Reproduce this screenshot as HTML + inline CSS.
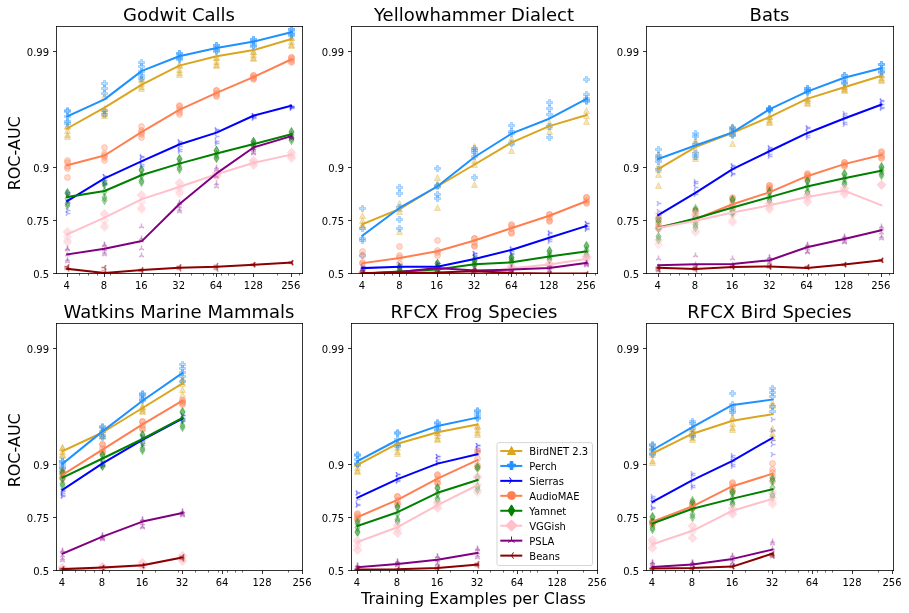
<!DOCTYPE html>
<html><head><meta charset="utf-8"><title>ROC-AUC vs training examples</title>
<style>html,body{margin:0;padding:0;background:#fff;overflow:hidden}svg{display:block}.c0{fill:#daa520;fill-opacity:0.3;stroke:#daa520;stroke-opacity:0.3}.c1{fill:#1e90ff;fill-opacity:0.3;stroke:#1e90ff;stroke-opacity:0.3}.c2{fill:#0000ff;fill-opacity:0.3;stroke:#0000ff;stroke-opacity:0.3;stroke-width:1.5}.c3{fill:#ff7f50;fill-opacity:0.3;stroke:#ff7f50;stroke-opacity:0.3}.c4{fill:#008000;fill-opacity:0.3;stroke:#008000;stroke-opacity:0.3}.c5{fill:#ffc0cb;fill-opacity:0.3;stroke:#ffc0cb;stroke-opacity:0.3}.c6{fill:#800080;fill-opacity:0.3;stroke:#800080;stroke-opacity:0.3;stroke-width:1.5}.c7{fill:#8b0000;fill-opacity:0.3;stroke:#8b0000;stroke-opacity:0.3;stroke-width:1.5}.c8{stroke:#000000;stroke-width:0.8}.c9{stroke:#000000;stroke-width:0.6}.c10{fill:#daa520;stroke:#daa520;stroke-linejoin:miter}.c11{fill:#1e90ff;stroke:#1e90ff;stroke-linejoin:miter}.c12{fill:#0000ff;stroke:#0000ff}.c13{fill:#ff7f50;stroke:#ff7f50}.c14{fill:#008000;stroke:#008000;stroke-linejoin:miter}.c15{fill:#ffc0cb;stroke:#ffc0cb;stroke-linejoin:miter}.c16{fill:#800080;stroke:#800080}.c17{fill:#8b0000;stroke:#8b0000}</style>
</head><body>
<svg width="909" height="613" viewBox="0 0 909 613" version="1.1">
 
 <defs>
  <style type="text/css">*{stroke-linejoin: round; stroke-linecap: butt}</style>
 </defs>
 <g id="figure_1">
  <g id="patch_1">
   <path d="M 0 613 L 909 613 L 909 0 L 0 0 z" style="fill: #ffffff"/>
  </g>
  <g id="axes_1">
   <g id="patch_2">
    <path d="M 56.5 273.5 L 302.5 273.5 L 302.5 26.5 L 56.5 26.5 z" style="fill: #ffffff"/>
   </g>
   <g id="PathCollection_1">
    
    <g clip-path="url(#p4ffbb873c0)">
     <path class="c0" d="M 0 -3 L -3 3 L 3 3 z" transform="translate(67.5 125.5)"/>
     <path class="c0" d="M 0 -3 L -3 3 L 3 3 z" transform="translate(67.5 126.5)"/>
     <path class="c0" d="M 0 -3 L -3 3 L 3 3 z" transform="translate(67.5 130.5)"/>
     <path class="c0" d="M 0 -3 L -3 3 L 3 3 z" transform="translate(67.5 134.5)"/>
     <path class="c0" d="M 0 -3 L -3 3 L 3 3 z" transform="translate(67.5 136.5)"/>
     <path class="c0" d="M 0 -3 L -3 3 L 3 3 z" transform="translate(104.5 96.5)"/>
     <path class="c0" d="M 0 -3 L -3 3 L 3 3 z" transform="translate(104.5 110.5)"/>
     <path class="c0" d="M 0 -3 L -3 3 L 3 3 z" transform="translate(104.5 113.5)"/>
     <path class="c0" d="M 0 -3 L -3 3 L 3 3 z" transform="translate(104.5 115.5)"/>
     <path class="c0" d="M 0 -3 L -3 3 L 3 3 z" transform="translate(104.5 108.5)"/>
     <path class="c0" d="M 0 -3 L -3 3 L 3 3 z" transform="translate(141.5 78.5)"/>
     <path class="c0" d="M 0 -3 L -3 3 L 3 3 z" transform="translate(141.5 79.5)"/>
     <path class="c0" d="M 0 -3 L -3 3 L 3 3 z" transform="translate(141.5 83.5)"/>
     <path class="c0" d="M 0 -3 L -3 3 L 3 3 z" transform="translate(141.5 86.5)"/>
     <path class="c0" d="M 0 -3 L -3 3 L 3 3 z" transform="translate(141.5 88.5)"/>
     <path class="c0" d="M 0 -3 L -3 3 L 3 3 z" transform="translate(179.5 64.5)"/>
     <path class="c0" d="M 0 -3 L -3 3 L 3 3 z" transform="translate(179.5 65.5)"/>
     <path class="c0" d="M 0 -3 L -3 3 L 3 3 z" transform="translate(179.5 69.5)"/>
     <path class="c0" d="M 0 -3 L -3 3 L 3 3 z" transform="translate(179.5 72.5)"/>
     <path class="c0" d="M 0 -3 L -3 3 L 3 3 z" transform="translate(179.5 74.5)"/>
     <path class="c0" d="M 0 -3 L -3 3 L 3 3 z" transform="translate(216.5 57.5)"/>
     <path class="c0" d="M 0 -3 L -3 3 L 3 3 z" transform="translate(216.5 57.5)"/>
     <path class="c0" d="M 0 -3 L -3 3 L 3 3 z" transform="translate(216.5 61.5)"/>
     <path class="c0" d="M 0 -3 L -3 3 L 3 3 z" transform="translate(216.5 64.5)"/>
     <path class="c0" d="M 0 -3 L -3 3 L 3 3 z" transform="translate(216.5 65.5)"/>
     <path class="c0" d="M 0 -3 L -3 3 L 3 3 z" transform="translate(253.5 51.5)"/>
     <path class="c0" d="M 0 -3 L -3 3 L 3 3 z" transform="translate(253.5 51.5)"/>
     <path class="c0" d="M 0 -3 L -3 3 L 3 3 z" transform="translate(253.5 54.5)"/>
     <path class="c0" d="M 0 -3 L -3 3 L 3 3 z" transform="translate(253.5 57.5)"/>
     <path class="c0" d="M 0 -3 L -3 3 L 3 3 z" transform="translate(253.5 58.5)"/>
     <path class="c0" d="M 0 -3 L -3 3 L 3 3 z" transform="translate(291.5 37.5)"/>
     <path class="c0" d="M 0 -3 L -3 3 L 3 3 z" transform="translate(291.5 37.5)"/>
     <path class="c0" d="M 0 -3 L -3 3 L 3 3 z" transform="translate(291.5 41.5)"/>
     <path class="c0" d="M 0 -3 L -3 3 L 3 3 z" transform="translate(291.5 44.5)"/>
     <path class="c0" d="M 0 -3 L -3 3 L 3 3 z" transform="translate(291.5 45.5)"/>
    </g>
   </g>
   <g id="PathCollection_2">
    
    <g clip-path="url(#p4ffbb873c0)">
     <path class="c1" d="M -1 3 L 1 3 L 1 1 L 3 1 L 3 -1 L 1 -1 L 1 -3 L -1 -3 L -1 -1 L -3 -1 L -3 1 L -1 1 z" transform="translate(67.5 110.5)"/>
     <path class="c1" d="M -1 3 L 1 3 L 1 1 L 3 1 L 3 -1 L 1 -1 L 1 -3 L -1 -3 L -1 -1 L -3 -1 L -3 1 L -1 1 z" transform="translate(67.5 111.5)"/>
     <path class="c1" d="M -1 3 L 1 3 L 1 1 L 3 1 L 3 -1 L 1 -1 L 1 -3 L -1 -3 L -1 -1 L -3 -1 L -3 1 L -1 1 z" transform="translate(67.5 116.5)"/>
     <path class="c1" d="M -1 3 L 1 3 L 1 1 L 3 1 L 3 -1 L 1 -1 L 1 -3 L -1 -3 L -1 -1 L -3 -1 L -3 1 L -1 1 z" transform="translate(67.5 121.5)"/>
     <path class="c1" d="M -1 3 L 1 3 L 1 1 L 3 1 L 3 -1 L 1 -1 L 1 -3 L -1 -3 L -1 -1 L -3 -1 L -3 1 L -1 1 z" transform="translate(67.5 123.5)"/>
     <path class="c1" d="M -1 3 L 1 3 L 1 1 L 3 1 L 3 -1 L 1 -1 L 1 -3 L -1 -3 L -1 -1 L -3 -1 L -3 1 L -1 1 z" transform="translate(104.5 83.5)"/>
     <path class="c1" d="M -1 3 L 1 3 L 1 1 L 3 1 L 3 -1 L 1 -1 L 1 -3 L -1 -3 L -1 -1 L -3 -1 L -3 1 L -1 1 z" transform="translate(104.5 88.5)"/>
     <path class="c1" d="M -1 3 L 1 3 L 1 1 L 3 1 L 3 -1 L 1 -1 L 1 -3 L -1 -3 L -1 -1 L -3 -1 L -3 1 L -1 1 z" transform="translate(104.5 93.5)"/>
     <path class="c1" d="M -1 3 L 1 3 L 1 1 L 3 1 L 3 -1 L 1 -1 L 1 -3 L -1 -3 L -1 -1 L -3 -1 L -3 1 L -1 1 z" transform="translate(104.5 110.5)"/>
     <path class="c1" d="M -1 3 L 1 3 L 1 1 L 3 1 L 3 -1 L 1 -1 L 1 -3 L -1 -3 L -1 -1 L -3 -1 L -3 1 L -1 1 z" transform="translate(104.5 114.5)"/>
     <path class="c1" d="M -1 3 L 1 3 L 1 1 L 3 1 L 3 -1 L 1 -1 L 1 -3 L -1 -3 L -1 -1 L -3 -1 L -3 1 L -1 1 z" transform="translate(141.5 62.5)"/>
     <path class="c1" d="M -1 3 L 1 3 L 1 1 L 3 1 L 3 -1 L 1 -1 L 1 -3 L -1 -3 L -1 -1 L -3 -1 L -3 1 L -1 1 z" transform="translate(141.5 66.5)"/>
     <path class="c1" d="M -1 3 L 1 3 L 1 1 L 3 1 L 3 -1 L 1 -1 L 1 -3 L -1 -3 L -1 -1 L -3 -1 L -3 1 L -1 1 z" transform="translate(141.5 71.5)"/>
     <path class="c1" d="M -1 3 L 1 3 L 1 1 L 3 1 L 3 -1 L 1 -1 L 1 -3 L -1 -3 L -1 -1 L -3 -1 L -3 1 L -1 1 z" transform="translate(141.5 75.5)"/>
     <path class="c1" d="M -1 3 L 1 3 L 1 1 L 3 1 L 3 -1 L 1 -1 L 1 -3 L -1 -3 L -1 -1 L -3 -1 L -3 1 L -1 1 z" transform="translate(141.5 78.5)"/>
     <path class="c1" d="M -1 3 L 1 3 L 1 1 L 3 1 L 3 -1 L 1 -1 L 1 -3 L -1 -3 L -1 -1 L -3 -1 L -3 1 L -1 1 z" transform="translate(179.5 53.5)"/>
     <path class="c1" d="M -1 3 L 1 3 L 1 1 L 3 1 L 3 -1 L 1 -1 L 1 -3 L -1 -3 L -1 -1 L -3 -1 L -3 1 L -1 1 z" transform="translate(179.5 53.5)"/>
     <path class="c1" d="M -1 3 L 1 3 L 1 1 L 3 1 L 3 -1 L 1 -1 L 1 -3 L -1 -3 L -1 -1 L -3 -1 L -3 1 L -1 1 z" transform="translate(179.5 56.5)"/>
     <path class="c1" d="M -1 3 L 1 3 L 1 1 L 3 1 L 3 -1 L 1 -1 L 1 -3 L -1 -3 L -1 -1 L -3 -1 L -3 1 L -1 1 z" transform="translate(179.5 58.5)"/>
     <path class="c1" d="M -1 3 L 1 3 L 1 1 L 3 1 L 3 -1 L 1 -1 L 1 -3 L -1 -3 L -1 -1 L -3 -1 L -3 1 L -1 1 z" transform="translate(179.5 59.5)"/>
     <path class="c1" d="M -1 3 L 1 3 L 1 1 L 3 1 L 3 -1 L 1 -1 L 1 -3 L -1 -3 L -1 -1 L -3 -1 L -3 1 L -1 1 z" transform="translate(216.5 45.5)"/>
     <path class="c1" d="M -1 3 L 1 3 L 1 1 L 3 1 L 3 -1 L 1 -1 L 1 -3 L -1 -3 L -1 -1 L -3 -1 L -3 1 L -1 1 z" transform="translate(216.5 45.5)"/>
     <path class="c1" d="M -1 3 L 1 3 L 1 1 L 3 1 L 3 -1 L 1 -1 L 1 -3 L -1 -3 L -1 -1 L -3 -1 L -3 1 L -1 1 z" transform="translate(216.5 48.5)"/>
     <path class="c1" d="M -1 3 L 1 3 L 1 1 L 3 1 L 3 -1 L 1 -1 L 1 -3 L -1 -3 L -1 -1 L -3 -1 L -3 1 L -1 1 z" transform="translate(216.5 50.5)"/>
     <path class="c1" d="M -1 3 L 1 3 L 1 1 L 3 1 L 3 -1 L 1 -1 L 1 -3 L -1 -3 L -1 -1 L -3 -1 L -3 1 L -1 1 z" transform="translate(216.5 51.5)"/>
     <path class="c1" d="M -1 3 L 1 3 L 1 1 L 3 1 L 3 -1 L 1 -1 L 1 -3 L -1 -3 L -1 -1 L -3 -1 L -3 1 L -1 1 z" transform="translate(253.5 39.5)"/>
     <path class="c1" d="M -1 3 L 1 3 L 1 1 L 3 1 L 3 -1 L 1 -1 L 1 -3 L -1 -3 L -1 -1 L -3 -1 L -3 1 L -1 1 z" transform="translate(253.5 39.5)"/>
     <path class="c1" d="M -1 3 L 1 3 L 1 1 L 3 1 L 3 -1 L 1 -1 L 1 -3 L -1 -3 L -1 -1 L -3 -1 L -3 1 L -1 1 z" transform="translate(253.5 42.5)"/>
     <path class="c1" d="M -1 3 L 1 3 L 1 1 L 3 1 L 3 -1 L 1 -1 L 1 -3 L -1 -3 L -1 -1 L -3 -1 L -3 1 L -1 1 z" transform="translate(253.5 45.5)"/>
     <path class="c1" d="M -1 3 L 1 3 L 1 1 L 3 1 L 3 -1 L 1 -1 L 1 -3 L -1 -3 L -1 -1 L -3 -1 L -3 1 L -1 1 z" transform="translate(253.5 46.5)"/>
     <path class="c1" d="M -1 3 L 1 3 L 1 1 L 3 1 L 3 -1 L 1 -1 L 1 -3 L -1 -3 L -1 -1 L -3 -1 L -3 1 L -1 1 z" transform="translate(291.5 29.5)"/>
     <path class="c1" d="M -1 3 L 1 3 L 1 1 L 3 1 L 3 -1 L 1 -1 L 1 -3 L -1 -3 L -1 -1 L -3 -1 L -3 1 L -1 1 z" transform="translate(291.5 29.5)"/>
     <path class="c1" d="M -1 3 L 1 3 L 1 1 L 3 1 L 3 -1 L 1 -1 L 1 -3 L -1 -3 L -1 -1 L -3 -1 L -3 1 L -1 1 z" transform="translate(291.5 32.5)"/>
     <path class="c1" d="M -1 3 L 1 3 L 1 1 L 3 1 L 3 -1 L 1 -1 L 1 -3 L -1 -3 L -1 -1 L -3 -1 L -3 1 L -1 1 z" transform="translate(291.5 34.5)"/>
     <path class="c1" d="M -1 3 L 1 3 L 1 1 L 3 1 L 3 -1 L 1 -1 L 1 -3 L -1 -3 L -1 -1 L -3 -1 L -3 1 L -1 1 z" transform="translate(291.5 35.5)"/>
    </g>
   </g>
   <g id="PathCollection_3">
    
    <g clip-path="url(#p4ffbb873c0)">
     <path class="c2" d="M 0 0 L 3 0 M 0 0 L -1.5 -2.4 M 0 0 L -1.5 2.4" transform="translate(67.5 192.5)"/>
     <path class="c2" d="M 0 0 L 3 0 M 0 0 L -1.5 -2.4 M 0 0 L -1.5 2.4" transform="translate(67.5 194.5)"/>
     <path class="c2" d="M 0 0 L 3 0 M 0 0 L -1.5 -2.4 M 0 0 L -1.5 2.4" transform="translate(67.5 202.5)"/>
     <path class="c2" d="M 0 0 L 3 0 M 0 0 L -1.5 -2.4 M 0 0 L -1.5 2.4" transform="translate(67.5 210.5)"/>
     <path class="c2" d="M 0 0 L 3 0 M 0 0 L -1.5 -2.4 M 0 0 L -1.5 2.4" transform="translate(67.5 213.5)"/>
     <path class="c2" d="M 0 0 L 3 0 M 0 0 L -1.5 -2.4 M 0 0 L -1.5 2.4" transform="translate(104.5 176.5)"/>
     <path class="c2" d="M 0 0 L 3 0 M 0 0 L -1.5 -2.4 M 0 0 L -1.5 2.4" transform="translate(104.5 176.5)"/>
     <path class="c2" d="M 0 0 L 3 0 M 0 0 L -1.5 -2.4 M 0 0 L -1.5 2.4" transform="translate(104.5 180.5)"/>
     <path class="c2" d="M 0 0 L 3 0 M 0 0 L -1.5 -2.4 M 0 0 L -1.5 2.4" transform="translate(104.5 183.5)"/>
     <path class="c2" d="M 0 0 L 3 0 M 0 0 L -1.5 -2.4 M 0 0 L -1.5 2.4" transform="translate(104.5 184.5)"/>
     <path class="c2" d="M 0 0 L 3 0 M 0 0 L -1.5 -2.4 M 0 0 L -1.5 2.4" transform="translate(141.5 156.5)"/>
     <path class="c2" d="M 0 0 L 3 0 M 0 0 L -1.5 -2.4 M 0 0 L -1.5 2.4" transform="translate(141.5 157.5)"/>
     <path class="c2" d="M 0 0 L 3 0 M 0 0 L -1.5 -2.4 M 0 0 L -1.5 2.4" transform="translate(141.5 161.5)"/>
     <path class="c2" d="M 0 0 L 3 0 M 0 0 L -1.5 -2.4 M 0 0 L -1.5 2.4" transform="translate(141.5 164.5)"/>
     <path class="c2" d="M 0 0 L 3 0 M 0 0 L -1.5 -2.4 M 0 0 L -1.5 2.4" transform="translate(141.5 166.5)"/>
     <path class="c2" d="M 0 0 L 3 0 M 0 0 L -1.5 -2.4 M 0 0 L -1.5 2.4" transform="translate(179.5 141.5)"/>
     <path class="c2" d="M 0 0 L 3 0 M 0 0 L -1.5 -2.4 M 0 0 L -1.5 2.4" transform="translate(179.5 142.5)"/>
     <path class="c2" d="M 0 0 L 3 0 M 0 0 L -1.5 -2.4 M 0 0 L -1.5 2.4" transform="translate(179.5 146.5)"/>
     <path class="c2" d="M 0 0 L 3 0 M 0 0 L -1.5 -2.4 M 0 0 L -1.5 2.4" transform="translate(179.5 149.5)"/>
     <path class="c2" d="M 0 0 L 3 0 M 0 0 L -1.5 -2.4 M 0 0 L -1.5 2.4" transform="translate(179.5 151.5)"/>
     <path class="c2" d="M 0 0 L 3 0 M 0 0 L -1.5 -2.4 M 0 0 L -1.5 2.4" transform="translate(216.5 129.5)"/>
     <path class="c2" d="M 0 0 L 3 0 M 0 0 L -1.5 -2.4 M 0 0 L -1.5 2.4" transform="translate(216.5 130.5)"/>
     <path class="c2" d="M 0 0 L 3 0 M 0 0 L -1.5 -2.4 M 0 0 L -1.5 2.4" transform="translate(216.5 136.5)"/>
     <path class="c2" d="M 0 0 L 3 0 M 0 0 L -1.5 -2.4 M 0 0 L -1.5 2.4" transform="translate(216.5 141.5)"/>
     <path class="c2" d="M 0 0 L 3 0 M 0 0 L -1.5 -2.4 M 0 0 L -1.5 2.4" transform="translate(216.5 143.5)"/>
     <path class="c2" d="M 0 0 L 3 0 M 0 0 L -1.5 -2.4 M 0 0 L -1.5 2.4" transform="translate(253.5 115.5)"/>
     <path class="c2" d="M 0 0 L 3 0 M 0 0 L -1.5 -2.4 M 0 0 L -1.5 2.4" transform="translate(253.5 115.5)"/>
     <path class="c2" d="M 0 0 L 3 0 M 0 0 L -1.5 -2.4 M 0 0 L -1.5 2.4" transform="translate(253.5 116.5)"/>
     <path class="c2" d="M 0 0 L 3 0 M 0 0 L -1.5 -2.4 M 0 0 L -1.5 2.4" transform="translate(253.5 117.5)"/>
     <path class="c2" d="M 0 0 L 3 0 M 0 0 L -1.5 -2.4 M 0 0 L -1.5 2.4" transform="translate(253.5 118.5)"/>
     <path class="c2" d="M 0 0 L 3 0 M 0 0 L -1.5 -2.4 M 0 0 L -1.5 2.4" transform="translate(291.5 106.5)"/>
     <path class="c2" d="M 0 0 L 3 0 M 0 0 L -1.5 -2.4 M 0 0 L -1.5 2.4" transform="translate(291.5 106.5)"/>
     <path class="c2" d="M 0 0 L 3 0 M 0 0 L -1.5 -2.4 M 0 0 L -1.5 2.4" transform="translate(291.5 107.5)"/>
     <path class="c2" d="M 0 0 L 3 0 M 0 0 L -1.5 -2.4 M 0 0 L -1.5 2.4" transform="translate(291.5 107.5)"/>
     <path class="c2" d="M 0 0 L 3 0 M 0 0 L -1.5 -2.4 M 0 0 L -1.5 2.4" transform="translate(291.5 108.5)"/>
    </g>
   </g>
   <g id="PathCollection_4">
    
    <g clip-path="url(#p4ffbb873c0)">
     <circle class="c3" cx="67.5" cy="160.5" r="3"/>
     <circle class="c3" cx="67.5" cy="166.5" r="3"/>
     <circle class="c3" cx="67.5" cy="177.5" r="3"/>
     <circle class="c3" cx="67.5" cy="162.5" r="3"/>
     <circle class="c3" cx="67.5" cy="168.5" r="3"/>
     <circle class="c3" cx="104.5" cy="147.5" r="3"/>
     <circle class="c3" cx="104.5" cy="155.5" r="3"/>
     <circle class="c3" cx="104.5" cy="160.5" r="3"/>
     <circle class="c3" cx="104.5" cy="157.5" r="3"/>
     <circle class="c3" cx="104.5" cy="153.5" r="3"/>
     <circle class="c3" cx="141.5" cy="126.5" r="3"/>
     <circle class="c3" cx="141.5" cy="132.5" r="3"/>
     <circle class="c3" cx="141.5" cy="137.5" r="3"/>
     <circle class="c3" cx="141.5" cy="130.5" r="3"/>
     <circle class="c3" cx="141.5" cy="134.5" r="3"/>
     <circle class="c3" cx="179.5" cy="105.5" r="3"/>
     <circle class="c3" cx="179.5" cy="106.5" r="3"/>
     <circle class="c3" cx="179.5" cy="109.5" r="3"/>
     <circle class="c3" cx="179.5" cy="112.5" r="3"/>
     <circle class="c3" cx="179.5" cy="114.5" r="3"/>
     <circle class="c3" cx="216.5" cy="90.5" r="3"/>
     <circle class="c3" cx="216.5" cy="90.5" r="3"/>
     <circle class="c3" cx="216.5" cy="93.5" r="3"/>
     <circle class="c3" cx="216.5" cy="95.5" r="3"/>
     <circle class="c3" cx="216.5" cy="96.5" r="3"/>
     <circle class="c3" cx="253.5" cy="75.5" r="3"/>
     <circle class="c3" cx="253.5" cy="75.5" r="3"/>
     <circle class="c3" cx="253.5" cy="77.5" r="3"/>
     <circle class="c3" cx="253.5" cy="78.5" r="3"/>
     <circle class="c3" cx="253.5" cy="79.5" r="3"/>
     <circle class="c3" cx="291.5" cy="57.5" r="3"/>
     <circle class="c3" cx="291.5" cy="57.5" r="3"/>
     <circle class="c3" cx="291.5" cy="59.5" r="3"/>
     <circle class="c3" cx="291.5" cy="61.5" r="3"/>
     <circle class="c3" cx="291.5" cy="62.5" r="3"/>
    </g>
   </g>
   <g id="PathCollection_5">
    
    <g clip-path="url(#p4ffbb873c0)">
     <path class="c4" d="M -0 4.24 L 2.54 0 L 0 -4.24 L -2.54 -0 z" transform="translate(67.5 192.5)"/>
     <path class="c4" d="M -0 4.24 L 2.54 0 L 0 -4.24 L -2.54 -0 z" transform="translate(67.5 193.5)"/>
     <path class="c4" d="M -0 4.24 L 2.54 0 L 0 -4.24 L -2.54 -0 z" transform="translate(67.5 198.5)"/>
     <path class="c4" d="M -0 4.24 L 2.54 0 L 0 -4.24 L -2.54 -0 z" transform="translate(67.5 203.5)"/>
     <path class="c4" d="M -0 4.24 L 2.54 0 L 0 -4.24 L -2.54 -0 z" transform="translate(67.5 205.5)"/>
     <path class="c4" d="M -0 4.24 L 2.54 0 L 0 -4.24 L -2.54 -0 z" transform="translate(104.5 182.5)"/>
     <path class="c4" d="M -0 4.24 L 2.54 0 L 0 -4.24 L -2.54 -0 z" transform="translate(104.5 184.5)"/>
     <path class="c4" d="M -0 4.24 L 2.54 0 L 0 -4.24 L -2.54 -0 z" transform="translate(104.5 191.5)"/>
     <path class="c4" d="M -0 4.24 L 2.54 0 L 0 -4.24 L -2.54 -0 z" transform="translate(104.5 197.5)"/>
     <path class="c4" d="M -0 4.24 L 2.54 0 L 0 -4.24 L -2.54 -0 z" transform="translate(104.5 200.5)"/>
     <path class="c4" d="M -0 4.24 L 2.54 0 L 0 -4.24 L -2.54 -0 z" transform="translate(141.5 169.5)"/>
     <path class="c4" d="M -0 4.24 L 2.54 0 L 0 -4.24 L -2.54 -0 z" transform="translate(141.5 170.5)"/>
     <path class="c4" d="M -0 4.24 L 2.54 0 L 0 -4.24 L -2.54 -0 z" transform="translate(141.5 175.5)"/>
     <path class="c4" d="M -0 4.24 L 2.54 0 L 0 -4.24 L -2.54 -0 z" transform="translate(141.5 180.5)"/>
     <path class="c4" d="M -0 4.24 L 2.54 0 L 0 -4.24 L -2.54 -0 z" transform="translate(141.5 182.5)"/>
     <path class="c4" d="M -0 4.24 L 2.54 0 L 0 -4.24 L -2.54 -0 z" transform="translate(179.5 158.5)"/>
     <path class="c4" d="M -0 4.24 L 2.54 0 L 0 -4.24 L -2.54 -0 z" transform="translate(179.5 159.5)"/>
     <path class="c4" d="M -0 4.24 L 2.54 0 L 0 -4.24 L -2.54 -0 z" transform="translate(179.5 163.5)"/>
     <path class="c4" d="M -0 4.24 L 2.54 0 L 0 -4.24 L -2.54 -0 z" transform="translate(179.5 167.5)"/>
     <path class="c4" d="M -0 4.24 L 2.54 0 L 0 -4.24 L -2.54 -0 z" transform="translate(179.5 169.5)"/>
     <path class="c4" d="M -0 4.24 L 2.54 0 L 0 -4.24 L -2.54 -0 z" transform="translate(216.5 150.5)"/>
     <path class="c4" d="M -0 4.24 L 2.54 0 L 0 -4.24 L -2.54 -0 z" transform="translate(216.5 150.5)"/>
     <path class="c4" d="M -0 4.24 L 2.54 0 L 0 -4.24 L -2.54 -0 z" transform="translate(216.5 154.5)"/>
     <path class="c4" d="M -0 4.24 L 2.54 0 L 0 -4.24 L -2.54 -0 z" transform="translate(216.5 157.5)"/>
     <path class="c4" d="M -0 4.24 L 2.54 0 L 0 -4.24 L -2.54 -0 z" transform="translate(216.5 158.5)"/>
     <path class="c4" d="M -0 4.24 L 2.54 0 L 0 -4.24 L -2.54 -0 z" transform="translate(253.5 141.5)"/>
     <path class="c4" d="M -0 4.24 L 2.54 0 L 0 -4.24 L -2.54 -0 z" transform="translate(253.5 141.5)"/>
     <path class="c4" d="M -0 4.24 L 2.54 0 L 0 -4.24 L -2.54 -0 z" transform="translate(253.5 143.5)"/>
     <path class="c4" d="M -0 4.24 L 2.54 0 L 0 -4.24 L -2.54 -0 z" transform="translate(253.5 145.5)"/>
     <path class="c4" d="M -0 4.24 L 2.54 0 L 0 -4.24 L -2.54 -0 z" transform="translate(253.5 146.5)"/>
     <path class="c4" d="M -0 4.24 L 2.54 0 L 0 -4.24 L -2.54 -0 z" transform="translate(291.5 131.5)"/>
     <path class="c4" d="M -0 4.24 L 2.54 0 L 0 -4.24 L -2.54 -0 z" transform="translate(291.5 132.5)"/>
     <path class="c4" d="M -0 4.24 L 2.54 0 L 0 -4.24 L -2.54 -0 z" transform="translate(291.5 135.5)"/>
     <path class="c4" d="M -0 4.24 L 2.54 0 L 0 -4.24 L -2.54 -0 z" transform="translate(291.5 138.5)"/>
     <path class="c4" d="M -0 4.24 L 2.54 0 L 0 -4.24 L -2.54 -0 z" transform="translate(291.5 140.5)"/>
    </g>
   </g>
   <g id="PathCollection_6">
    
    <g clip-path="url(#p4ffbb873c0)">
     <path class="c5" d="M -0 4.24 L 4.24 0 L 0 -4.24 L -4.24 -0 z" transform="translate(67.5 231.5)"/>
     <path class="c5" d="M -0 4.24 L 4.24 0 L 0 -4.24 L -4.24 -0 z" transform="translate(67.5 232.5)"/>
     <path class="c5" d="M -0 4.24 L 4.24 0 L 0 -4.24 L -4.24 -0 z" transform="translate(67.5 236.5)"/>
     <path class="c5" d="M -0 4.24 L 4.24 0 L 0 -4.24 L -4.24 -0 z" transform="translate(67.5 240.5)"/>
     <path class="c5" d="M -0 4.24 L 4.24 0 L 0 -4.24 L -4.24 -0 z" transform="translate(67.5 242.5)"/>
     <path class="c5" d="M -0 4.24 L 4.24 0 L 0 -4.24 L -4.24 -0 z" transform="translate(104.5 213.5)"/>
     <path class="c5" d="M -0 4.24 L 4.24 0 L 0 -4.24 L -4.24 -0 z" transform="translate(104.5 214.5)"/>
     <path class="c5" d="M -0 4.24 L 4.24 0 L 0 -4.24 L -4.24 -0 z" transform="translate(104.5 220.5)"/>
     <path class="c5" d="M -0 4.24 L 4.24 0 L 0 -4.24 L -4.24 -0 z" transform="translate(104.5 225.5)"/>
     <path class="c5" d="M -0 4.24 L 4.24 0 L 0 -4.24 L -4.24 -0 z" transform="translate(104.5 227.5)"/>
     <path class="c5" d="M -0 4.24 L 4.24 0 L 0 -4.24 L -4.24 -0 z" transform="translate(141.5 194.5)"/>
     <path class="c5" d="M -0 4.24 L 4.24 0 L 0 -4.24 L -4.24 -0 z" transform="translate(141.5 195.5)"/>
     <path class="c5" d="M -0 4.24 L 4.24 0 L 0 -4.24 L -4.24 -0 z" transform="translate(141.5 201.5)"/>
     <path class="c5" d="M -0 4.24 L 4.24 0 L 0 -4.24 L -4.24 -0 z" transform="translate(141.5 207.5)"/>
     <path class="c5" d="M -0 4.24 L 4.24 0 L 0 -4.24 L -4.24 -0 z" transform="translate(141.5 209.5)"/>
     <path class="c5" d="M -0 4.24 L 4.24 0 L 0 -4.24 L -4.24 -0 z" transform="translate(179.5 182.5)"/>
     <path class="c5" d="M -0 4.24 L 4.24 0 L 0 -4.24 L -4.24 -0 z" transform="translate(179.5 183.5)"/>
     <path class="c5" d="M -0 4.24 L 4.24 0 L 0 -4.24 L -4.24 -0 z" transform="translate(179.5 187.5)"/>
     <path class="c5" d="M -0 4.24 L 4.24 0 L 0 -4.24 L -4.24 -0 z" transform="translate(179.5 191.5)"/>
     <path class="c5" d="M -0 4.24 L 4.24 0 L 0 -4.24 L -4.24 -0 z" transform="translate(179.5 193.5)"/>
     <path class="c5" d="M -0 4.24 L 4.24 0 L 0 -4.24 L -4.24 -0 z" transform="translate(216.5 173.5)"/>
     <path class="c5" d="M -0 4.24 L 4.24 0 L 0 -4.24 L -4.24 -0 z" transform="translate(216.5 173.5)"/>
     <path class="c5" d="M -0 4.24 L 4.24 0 L 0 -4.24 L -4.24 -0 z" transform="translate(216.5 174.5)"/>
     <path class="c5" d="M -0 4.24 L 4.24 0 L 0 -4.24 L -4.24 -0 z" transform="translate(216.5 175.5)"/>
     <path class="c5" d="M -0 4.24 L 4.24 0 L 0 -4.24 L -4.24 -0 z" transform="translate(216.5 176.5)"/>
     <path class="c5" d="M -0 4.24 L 4.24 0 L 0 -4.24 L -4.24 -0 z" transform="translate(253.5 160.5)"/>
     <path class="c5" d="M -0 4.24 L 4.24 0 L 0 -4.24 L -4.24 -0 z" transform="translate(253.5 160.5)"/>
     <path class="c5" d="M -0 4.24 L 4.24 0 L 0 -4.24 L -4.24 -0 z" transform="translate(253.5 162.5)"/>
     <path class="c5" d="M -0 4.24 L 4.24 0 L 0 -4.24 L -4.24 -0 z" transform="translate(253.5 164.5)"/>
     <path class="c5" d="M -0 4.24 L 4.24 0 L 0 -4.24 L -4.24 -0 z" transform="translate(253.5 165.5)"/>
     <path class="c5" d="M -0 4.24 L 4.24 0 L 0 -4.24 L -4.24 -0 z" transform="translate(291.5 152.5)"/>
     <path class="c5" d="M -0 4.24 L 4.24 0 L 0 -4.24 L -4.24 -0 z" transform="translate(291.5 152.5)"/>
     <path class="c5" d="M -0 4.24 L 4.24 0 L 0 -4.24 L -4.24 -0 z" transform="translate(291.5 155.5)"/>
     <path class="c5" d="M -0 4.24 L 4.24 0 L 0 -4.24 L -4.24 -0 z" transform="translate(291.5 157.5)"/>
     <path class="c5" d="M -0 4.24 L 4.24 0 L 0 -4.24 L -4.24 -0 z" transform="translate(291.5 158.5)"/>
    </g>
   </g>
   <g id="PathCollection_7">
    
    <g clip-path="url(#p4ffbb873c0)">
     <path class="c6" d="M 0 0 L 0 -3 M 0 0 L -2.4 1.5 M 0 0 L 2.4 1.5" transform="translate(67.5 248.5)"/>
     <path class="c6" d="M 0 0 L 0 -3 M 0 0 L -2.4 1.5 M 0 0 L 2.4 1.5" transform="translate(67.5 249.5)"/>
     <path class="c6" d="M 0 0 L 0 -3 M 0 0 L -2.4 1.5 M 0 0 L 2.4 1.5" transform="translate(67.5 254.5)"/>
     <path class="c6" d="M 0 0 L 0 -3 M 0 0 L -2.4 1.5 M 0 0 L 2.4 1.5" transform="translate(67.5 259.5)"/>
     <path class="c6" d="M 0 0 L 0 -3 M 0 0 L -2.4 1.5 M 0 0 L 2.4 1.5" transform="translate(67.5 261.5)"/>
     <path class="c6" d="M 0 0 L 0 -3 M 0 0 L -2.4 1.5 M 0 0 L 2.4 1.5" transform="translate(104.5 244.5)"/>
     <path class="c6" d="M 0 0 L 0 -3 M 0 0 L -2.4 1.5 M 0 0 L 2.4 1.5" transform="translate(104.5 245.5)"/>
     <path class="c6" d="M 0 0 L 0 -3 M 0 0 L -2.4 1.5 M 0 0 L 2.4 1.5" transform="translate(104.5 249.5)"/>
     <path class="c6" d="M 0 0 L 0 -3 M 0 0 L -2.4 1.5 M 0 0 L 2.4 1.5" transform="translate(104.5 252.5)"/>
     <path class="c6" d="M 0 0 L 0 -3 M 0 0 L -2.4 1.5 M 0 0 L 2.4 1.5" transform="translate(104.5 254.5)"/>
     <path class="c6" d="M 0 0 L 0 -3 M 0 0 L -2.4 1.5 M 0 0 L 2.4 1.5" transform="translate(141.5 226.5)"/>
     <path class="c6" d="M 0 0 L 0 -3 M 0 0 L -2.4 1.5 M 0 0 L 2.4 1.5" transform="translate(141.5 238.5)"/>
     <path class="c6" d="M 0 0 L 0 -3 M 0 0 L -2.4 1.5 M 0 0 L 2.4 1.5" transform="translate(141.5 248.5)"/>
     <path class="c6" d="M 0 0 L 0 -3 M 0 0 L -2.4 1.5 M 0 0 L 2.4 1.5" transform="translate(141.5 255.5)"/>
     <path class="c6" d="M 0 0 L 0 -3 M 0 0 L -2.4 1.5 M 0 0 L 2.4 1.5" transform="translate(141.5 240.5)"/>
     <path class="c6" d="M 0 0 L 0 -3 M 0 0 L -2.4 1.5 M 0 0 L 2.4 1.5" transform="translate(179.5 202.5)"/>
     <path class="c6" d="M 0 0 L 0 -3 M 0 0 L -2.4 1.5 M 0 0 L 2.4 1.5" transform="translate(179.5 203.5)"/>
     <path class="c6" d="M 0 0 L 0 -3 M 0 0 L -2.4 1.5 M 0 0 L 2.4 1.5" transform="translate(179.5 206.5)"/>
     <path class="c6" d="M 0 0 L 0 -3 M 0 0 L -2.4 1.5 M 0 0 L 2.4 1.5" transform="translate(179.5 209.5)"/>
     <path class="c6" d="M 0 0 L 0 -3 M 0 0 L -2.4 1.5 M 0 0 L 2.4 1.5" transform="translate(179.5 211.5)"/>
     <path class="c6" d="M 0 0 L 0 -3 M 0 0 L -2.4 1.5 M 0 0 L 2.4 1.5" transform="translate(216.5 167.5)"/>
     <path class="c6" d="M 0 0 L 0 -3 M 0 0 L -2.4 1.5 M 0 0 L 2.4 1.5" transform="translate(216.5 169.5)"/>
     <path class="c6" d="M 0 0 L 0 -3 M 0 0 L -2.4 1.5 M 0 0 L 2.4 1.5" transform="translate(216.5 176.5)"/>
     <path class="c6" d="M 0 0 L 0 -3 M 0 0 L -2.4 1.5 M 0 0 L 2.4 1.5" transform="translate(216.5 183.5)"/>
     <path class="c6" d="M 0 0 L 0 -3 M 0 0 L -2.4 1.5 M 0 0 L 2.4 1.5" transform="translate(216.5 186.5)"/>
     <path class="c6" d="M 0 0 L 0 -3 M 0 0 L -2.4 1.5 M 0 0 L 2.4 1.5" transform="translate(253.5 148.5)"/>
     <path class="c6" d="M 0 0 L 0 -3 M 0 0 L -2.4 1.5 M 0 0 L 2.4 1.5" transform="translate(253.5 148.5)"/>
     <path class="c6" d="M 0 0 L 0 -3 M 0 0 L -2.4 1.5 M 0 0 L 2.4 1.5" transform="translate(253.5 150.5)"/>
     <path class="c6" d="M 0 0 L 0 -3 M 0 0 L -2.4 1.5 M 0 0 L 2.4 1.5" transform="translate(253.5 152.5)"/>
     <path class="c6" d="M 0 0 L 0 -3 M 0 0 L -2.4 1.5 M 0 0 L 2.4 1.5" transform="translate(253.5 153.5)"/>
     <path class="c6" d="M 0 0 L 0 -3 M 0 0 L -2.4 1.5 M 0 0 L 2.4 1.5" transform="translate(291.5 136.5)"/>
     <path class="c6" d="M 0 0 L 0 -3 M 0 0 L -2.4 1.5 M 0 0 L 2.4 1.5" transform="translate(291.5 136.5)"/>
     <path class="c6" d="M 0 0 L 0 -3 M 0 0 L -2.4 1.5 M 0 0 L 2.4 1.5" transform="translate(291.5 137.5)"/>
     <path class="c6" d="M 0 0 L 0 -3 M 0 0 L -2.4 1.5 M 0 0 L 2.4 1.5" transform="translate(291.5 137.5)"/>
     <path class="c6" d="M 0 0 L 0 -3 M 0 0 L -2.4 1.5 M 0 0 L 2.4 1.5" transform="translate(291.5 138.5)"/>
    </g>
   </g>
   <g id="PathCollection_8">
    
    <g clip-path="url(#p4ffbb873c0)">
     <path class="c7" d="M 0 0 L -3 -0 M 0 0 L 1.5 2.4 M 0 0 L 1.5 -2.4" transform="translate(67.5 266.5)"/>
     <path class="c7" d="M 0 0 L -3 -0 M 0 0 L 1.5 2.4 M 0 0 L 1.5 -2.4" transform="translate(67.5 266.5)"/>
     <path class="c7" d="M 0 0 L -3 -0 M 0 0 L 1.5 2.4 M 0 0 L 1.5 -2.4" transform="translate(67.5 267.5)"/>
     <path class="c7" d="M 0 0 L -3 -0 M 0 0 L 1.5 2.4 M 0 0 L 1.5 -2.4" transform="translate(67.5 268.5)"/>
     <path class="c7" d="M 0 0 L -3 -0 M 0 0 L 1.5 2.4 M 0 0 L 1.5 -2.4" transform="translate(67.5 269.5)"/>
     <path class="c7" d="M 0 0 L -3 -0 M 0 0 L 1.5 2.4 M 0 0 L 1.5 -2.4" transform="translate(104.5 267.5)"/>
     <path class="c7" d="M 0 0 L -3 -0 M 0 0 L 1.5 2.4 M 0 0 L 1.5 -2.4" transform="translate(104.5 267.5)"/>
     <path class="c7" d="M 0 0 L -3 -0 M 0 0 L 1.5 2.4 M 0 0 L 1.5 -2.4" transform="translate(104.5 270.5)"/>
     <path class="c7" d="M 0 0 L -3 -0 M 0 0 L 1.5 2.4 M 0 0 L 1.5 -2.4" transform="translate(104.5 272.5)"/>
     <path class="c7" d="M 0 0 L -3 -0 M 0 0 L 1.5 2.4 M 0 0 L 1.5 -2.4" transform="translate(104.5 273.5)"/>
     <path class="c7" d="M 0 0 L -3 -0 M 0 0 L 1.5 2.4 M 0 0 L 1.5 -2.4" transform="translate(141.5 269.5)"/>
     <path class="c7" d="M 0 0 L -3 -0 M 0 0 L 1.5 2.4 M 0 0 L 1.5 -2.4" transform="translate(141.5 269.5)"/>
     <path class="c7" d="M 0 0 L -3 -0 M 0 0 L 1.5 2.4 M 0 0 L 1.5 -2.4" transform="translate(141.5 270.5)"/>
     <path class="c7" d="M 0 0 L -3 -0 M 0 0 L 1.5 2.4 M 0 0 L 1.5 -2.4" transform="translate(141.5 270.5)"/>
     <path class="c7" d="M 0 0 L -3 -0 M 0 0 L 1.5 2.4 M 0 0 L 1.5 -2.4" transform="translate(141.5 271.5)"/>
     <path class="c7" d="M 0 0 L -3 -0 M 0 0 L 1.5 2.4 M 0 0 L 1.5 -2.4" transform="translate(179.5 266.5)"/>
     <path class="c7" d="M 0 0 L -3 -0 M 0 0 L 1.5 2.4 M 0 0 L 1.5 -2.4" transform="translate(179.5 266.5)"/>
     <path class="c7" d="M 0 0 L -3 -0 M 0 0 L 1.5 2.4 M 0 0 L 1.5 -2.4" transform="translate(179.5 267.5)"/>
     <path class="c7" d="M 0 0 L -3 -0 M 0 0 L 1.5 2.4 M 0 0 L 1.5 -2.4" transform="translate(179.5 268.5)"/>
     <path class="c7" d="M 0 0 L -3 -0 M 0 0 L 1.5 2.4 M 0 0 L 1.5 -2.4" transform="translate(179.5 269.5)"/>
     <path class="c7" d="M 0 0 L -3 -0 M 0 0 L 1.5 2.4 M 0 0 L 1.5 -2.4" transform="translate(216.5 265.5)"/>
     <path class="c7" d="M 0 0 L -3 -0 M 0 0 L 1.5 2.4 M 0 0 L 1.5 -2.4" transform="translate(216.5 265.5)"/>
     <path class="c7" d="M 0 0 L -3 -0 M 0 0 L 1.5 2.4 M 0 0 L 1.5 -2.4" transform="translate(216.5 267.5)"/>
     <path class="c7" d="M 0 0 L -3 -0 M 0 0 L 1.5 2.4 M 0 0 L 1.5 -2.4" transform="translate(216.5 268.5)"/>
     <path class="c7" d="M 0 0 L -3 -0 M 0 0 L 1.5 2.4 M 0 0 L 1.5 -2.4" transform="translate(216.5 269.5)"/>
     <path class="c7" d="M 0 0 L -3 -0 M 0 0 L 1.5 2.4 M 0 0 L 1.5 -2.4" transform="translate(253.5 264.5)"/>
     <path class="c7" d="M 0 0 L -3 -0 M 0 0 L 1.5 2.4 M 0 0 L 1.5 -2.4" transform="translate(253.5 264.5)"/>
     <path class="c7" d="M 0 0 L -3 -0 M 0 0 L 1.5 2.4 M 0 0 L 1.5 -2.4" transform="translate(253.5 264.5)"/>
     <path class="c7" d="M 0 0 L -3 -0 M 0 0 L 1.5 2.4 M 0 0 L 1.5 -2.4" transform="translate(253.5 264.5)"/>
     <path class="c7" d="M 0 0 L -3 -0 M 0 0 L 1.5 2.4 M 0 0 L 1.5 -2.4" transform="translate(253.5 265.5)"/>
     <path class="c7" d="M 0 0 L -3 -0 M 0 0 L 1.5 2.4 M 0 0 L 1.5 -2.4" transform="translate(291.5 262.5)"/>
     <path class="c7" d="M 0 0 L -3 -0 M 0 0 L 1.5 2.4 M 0 0 L 1.5 -2.4" transform="translate(291.5 262.5)"/>
     <path class="c7" d="M 0 0 L -3 -0 M 0 0 L 1.5 2.4 M 0 0 L 1.5 -2.4" transform="translate(291.5 262.5)"/>
     <path class="c7" d="M 0 0 L -3 -0 M 0 0 L 1.5 2.4 M 0 0 L 1.5 -2.4" transform="translate(291.5 262.5)"/>
     <path class="c7" d="M 0 0 L -3 -0 M 0 0 L 1.5 2.4 M 0 0 L 1.5 -2.4" transform="translate(291.5 263.5)"/>
    </g>
   </g>
   <g id="matplotlib.axis_1">
    <g id="xtick_1">
     <g id="line2d_1">
      
      <g>
       <path class="c8" d="M 0 0 L 0 3.5" transform="translate(67.5 273.5)"/>
      </g>
     </g>
     <g id="text_1">
      <text style="font-size: 10px; font-family: 'DejaVu Sans', 'Liberation Sans', sans-serif; text-anchor: middle" x="66.65" y="289.10">4</text>
     </g>
    </g>
    <g id="xtick_2">
     <g id="line2d_2">
      <g>
       <path class="c8" d="M 0 0 L 0 3.5" transform="translate(104.5 273.5)"/>
      </g>
     </g>
     <g id="text_2">
      <text style="font-size: 10px; font-family: 'DejaVu Sans', 'Liberation Sans', sans-serif; text-anchor: middle" x="104.00" y="289.10">8</text>
     </g>
    </g>
    <g id="xtick_3">
     <g id="line2d_3">
      <g>
       <path class="c8" d="M 0 0 L 0 3.5" transform="translate(141.5 273.5)"/>
      </g>
     </g>
     <g id="text_3">
      <text style="font-size: 10px; font-family: 'DejaVu Sans', 'Liberation Sans', sans-serif; text-anchor: middle" x="141.35" y="289.10">16</text>
     </g>
    </g>
    <g id="xtick_4">
     <g id="line2d_4">
      <g>
       <path class="c8" d="M 0 0 L 0 3.5" transform="translate(179.5 273.5)"/>
      </g>
     </g>
     <g id="text_4">
      <text style="font-size: 10px; font-family: 'DejaVu Sans', 'Liberation Sans', sans-serif; text-anchor: middle" x="178.70" y="289.10">32</text>
     </g>
    </g>
    <g id="xtick_5">
     <g id="line2d_5">
      <g>
       <path class="c8" d="M 0 0 L 0 3.5" transform="translate(216.5 273.5)"/>
      </g>
     </g>
     <g id="text_5">
      <text style="font-size: 10px; font-family: 'DejaVu Sans', 'Liberation Sans', sans-serif; text-anchor: middle" x="216.05" y="289.10">64</text>
     </g>
    </g>
    <g id="xtick_6">
     <g id="line2d_6">
      <g>
       <path class="c8" d="M 0 0 L 0 3.5" transform="translate(253.5 273.5)"/>
      </g>
     </g>
     <g id="text_6">
      <text style="font-size: 10px; font-family: 'DejaVu Sans', 'Liberation Sans', sans-serif; text-anchor: middle" x="253.40" y="289.10">128</text>
     </g>
    </g>
    <g id="xtick_7">
     <g id="line2d_7">
      <g>
       <path class="c8" d="M 0 0 L 0 3.5" transform="translate(291.5 273.5)"/>
      </g>
     </g>
     <g id="text_7">
      <text style="font-size: 10px; font-family: 'DejaVu Sans', 'Liberation Sans', sans-serif; text-anchor: middle" x="290.75" y="289.10">256</text>
     </g>
    </g>
    <g id="xtick_8">
     <g id="line2d_8">
      
      <g>
       <path class="c9" d="M 0 0 L 0 2" transform="translate(79.5 273.5)"/>
      </g>
     </g>
    </g>
    <g id="xtick_9">
     <g id="line2d_9">
      <g>
       <path class="c9" d="M 0 0 L 0 2" transform="translate(88.5 273.5)"/>
      </g>
     </g>
    </g>
    <g id="xtick_10">
     <g id="line2d_10">
      <g>
       <path class="c9" d="M 0 0 L 0 2" transform="translate(97.5 273.5)"/>
      </g>
     </g>
    </g>
    <g id="xtick_11">
     <g id="line2d_11">
      <g>
       <path class="c9" d="M 0 0 L 0 2" transform="translate(110.5 273.5)"/>
      </g>
     </g>
    </g>
    <g id="xtick_12">
     <g id="line2d_12">
      <g>
       <path class="c9" d="M 0 0 L 0 2" transform="translate(153.5 273.5)"/>
      </g>
     </g>
    </g>
    <g id="xtick_13">
     <g id="line2d_13">
      <g>
       <path class="c9" d="M 0 0 L 0 2" transform="translate(175.5 273.5)"/>
      </g>
     </g>
    </g>
    <g id="xtick_14">
     <g id="line2d_14">
      <g>
       <path class="c9" d="M 0 0 L 0 2" transform="translate(191.5 273.5)"/>
      </g>
     </g>
    </g>
    <g id="xtick_15">
     <g id="line2d_15">
      <g>
       <path class="c9" d="M 0 0 L 0 2" transform="translate(203.5 273.5)"/>
      </g>
     </g>
    </g>
    <g id="xtick_16">
     <g id="line2d_16">
      <g>
       <path class="c9" d="M 0 0 L 0 2" transform="translate(213.5 273.5)"/>
      </g>
     </g>
    </g>
    <g id="xtick_17">
     <g id="line2d_17">
      <g>
       <path class="c9" d="M 0 0 L 0 2" transform="translate(221.5 273.5)"/>
      </g>
     </g>
    </g>
    <g id="xtick_18">
     <g id="line2d_18">
      <g>
       <path class="c9" d="M 0 0 L 0 2" transform="translate(228.5 273.5)"/>
      </g>
     </g>
    </g>
    <g id="xtick_19">
     <g id="line2d_19">
      <g>
       <path class="c9" d="M 0 0 L 0 2" transform="translate(234.5 273.5)"/>
      </g>
     </g>
    </g>
    <g id="xtick_20">
     <g id="line2d_20">
      <g>
       <path class="c9" d="M 0 0 L 0 2" transform="translate(277.5 273.5)"/>
      </g>
     </g>
    </g>
    <g id="xtick_21">
     <g id="line2d_21">
      <g>
       <path class="c9" d="M 0 0 L 0 2" transform="translate(299.5 273.5)"/>
      </g>
     </g>
    </g>
   </g>
   <g id="matplotlib.axis_2">
    <g id="ytick_1">
     <g id="line2d_22">
      
      <g>
       <path class="c8" d="M 0 0 L -3.5 0" transform="translate(56.5 273.5)"/>
      </g>
     </g>
     <g id="text_8">
      <text style="font-size: 10px; font-family: 'DejaVu Sans', 'Liberation Sans', sans-serif; text-anchor: end" x="49.10" y="278.10">0.5</text>
     </g>
    </g>
    <g id="ytick_2">
     <g id="line2d_23">
      <g>
       <path class="c8" d="M 0 0 L -3.5 0" transform="translate(56.5 220.5)"/>
      </g>
     </g>
     <g id="text_9">
      <text style="font-size: 10px; font-family: 'DejaVu Sans', 'Liberation Sans', sans-serif; text-anchor: end" x="49.10" y="225.08">0.75</text>
     </g>
    </g>
    <g id="ytick_3">
     <g id="line2d_24">
      <g>
       <path class="c8" d="M 0 0 L -3.5 0" transform="translate(56.5 167.5)"/>
      </g>
     </g>
     <g id="text_10">
      <text style="font-size: 10px; font-family: 'DejaVu Sans', 'Liberation Sans', sans-serif; text-anchor: end" x="49.10" y="172.06">0.9</text>
     </g>
    </g>
    <g id="ytick_4">
     <g id="line2d_25">
      <g>
       <path class="c8" d="M 0 0 L -3.5 0" transform="translate(56.5 51.5)"/>
      </g>
     </g>
     <g id="text_11">
      <text style="font-size: 10px; font-family: 'DejaVu Sans', 'Liberation Sans', sans-serif; text-anchor: end" x="49.10" y="56.34">0.99</text>
     </g>
    </g>
    <g id="text_12">
     <text style="font-size: 16px; font-family: 'DejaVu Sans', 'Liberation Sans', sans-serif; text-anchor: middle" x="19.91" y="153.30" transform="rotate(-90 19.91 153.30)">ROC-AUC</text>
    </g>
   </g>
   <g id="line2d_26">
    <path d="M 67.15 128.5 L 104.5 107.6 L 141.85 84.7 L 179.2 65.6 L 216.55 56.2 L 253.9 50.1 L 291.25 39.1" clip-path="url(#p4ffbb873c0)" style="fill: none; stroke: #daa520; stroke-width: 2; stroke-linecap: square"/>
   </g>
   <g id="line2d_27">
    <path d="M 67.15 116.4 L 104.5 99.4 L 141.85 70.9 L 179.2 56.2 L 216.55 48 L 253.9 41.5 L 291.25 32.2" clip-path="url(#p4ffbb873c0)" style="fill: none; stroke: #1e90ff; stroke-width: 2; stroke-linecap: square"/>
   </g>
   <g id="line2d_28">
    <path d="M 67.15 201.1 L 104.5 178.3 L 141.85 161.2 L 179.2 144.5 L 216.55 132.6 L 253.9 115.5 L 291.25 105.7" clip-path="url(#p4ffbb873c0)" style="fill: none; stroke: #0000ff; stroke-width: 2; stroke-linecap: square"/>
   </g>
   <g id="line2d_29">
    <path d="M 67.15 165.3 L 104.5 155.5 L 141.85 131.8 L 179.2 109.8 L 216.55 92.9 L 253.9 76.9 L 291.25 59.4" clip-path="url(#p4ffbb873c0)" style="fill: none; stroke: #ff7f50; stroke-width: 2; stroke-linecap: square"/>
   </g>
   <g id="line2d_30">
    <path d="M 67.15 197 L 104.5 191 L 141.85 175 L 179.2 163.6 L 216.55 153.5 L 253.9 144 L 291.25 134.3" clip-path="url(#p4ffbb873c0)" style="fill: none; stroke: #008000; stroke-width: 2; stroke-linecap: square"/>
   </g>
   <g id="line2d_31">
    <path d="M 67.15 234.5 L 104.5 217.7 L 141.85 199.1 L 179.2 187 L 216.55 174.2 L 253.9 162.8 L 291.25 154.6" clip-path="url(#p4ffbb873c0)" style="fill: none; stroke: #ffc0cb; stroke-width: 2; stroke-linecap: square"/>
   </g>
   <g id="line2d_32">
    <path d="M 67.15 254.4 L 104.5 248.7 L 141.85 241.1 L 179.2 204.2 L 216.55 173.4 L 253.9 147.3 L 291.25 136.2" clip-path="url(#p4ffbb873c0)" style="fill: none; stroke: #800080; stroke-width: 2; stroke-linecap: square"/>
   </g>
   <g id="line2d_33">
    <path d="M 67.15 268.8 L 104.5 272.9 L 141.85 270 L 179.2 267.7 L 216.55 266.7 L 253.9 264.7 L 291.25 262.6" clip-path="url(#p4ffbb873c0)" style="fill: none; stroke: #8b0000; stroke-width: 2; stroke-linecap: square"/>
   </g>
   <g id="patch_3">
    <path d="M 56.5 273.5 L 56.5 26.5" style="fill: none; stroke: #000000; stroke-width: 0.8; stroke-linejoin: miter; stroke-linecap: square"/>
   </g>
   <g id="patch_4">
    <path d="M 302.5 273.5 L 302.5 26.5" style="fill: none; stroke: #000000; stroke-width: 0.8; stroke-linejoin: miter; stroke-linecap: square"/>
   </g>
   <g id="patch_5">
    <path d="M 56.5 273.5 L 302.5 273.5" style="fill: none; stroke: #000000; stroke-width: 0.8; stroke-linejoin: miter; stroke-linecap: square"/>
   </g>
   <g id="patch_6">
    <path d="M 56.5 26.5 L 302.5 26.5" style="fill: none; stroke: #000000; stroke-width: 0.8; stroke-linejoin: miter; stroke-linecap: square"/>
   </g>
   <g id="text_13">
    <text style="font-size: 18px; font-family: 'DejaVu Sans', 'Liberation Sans', sans-serif; text-anchor: middle" x="179.00" y="20.50">Godwit Calls</text>
   </g>
  </g>
  <g id="axes_2">
   <g id="patch_7">
    <path d="M 351.5 273.5 L 597.5 273.5 L 597.5 26.5 L 351.5 26.5 z" style="fill: #ffffff"/>
   </g>
   <g id="PathCollection_9">
    <g clip-path="url(#pa7f48813b0)">
     <path class="c0" d="M 0 -3 L -3 3 L 3 3 z" transform="translate(362.5 215.5)"/>
     <path class="c0" d="M 0 -3 L -3 3 L 3 3 z" transform="translate(362.5 220.5)"/>
     <path class="c0" d="M 0 -3 L -3 3 L 3 3 z" transform="translate(362.5 226.5)"/>
     <path class="c0" d="M 0 -3 L -3 3 L 3 3 z" transform="translate(362.5 224.5)"/>
     <path class="c0" d="M 0 -3 L -3 3 L 3 3 z" transform="translate(399.5 203.5)"/>
     <path class="c0" d="M 0 -3 L -3 3 L 3 3 z" transform="translate(399.5 211.5)"/>
     <path class="c0" d="M 0 -3 L -3 3 L 3 3 z" transform="translate(399.5 231.5)"/>
     <path class="c0" d="M 0 -3 L -3 3 L 3 3 z" transform="translate(399.5 208.5)"/>
     <path class="c0" d="M 0 -3 L -3 3 L 3 3 z" transform="translate(437.5 177.5)"/>
     <path class="c0" d="M 0 -3 L -3 3 L 3 3 z" transform="translate(437.5 185.5)"/>
     <path class="c0" d="M 0 -3 L -3 3 L 3 3 z" transform="translate(437.5 207.5)"/>
     <path class="c0" d="M 0 -3 L -3 3 L 3 3 z" transform="translate(437.5 183.5)"/>
     <path class="c0" d="M 0 -3 L -3 3 L 3 3 z" transform="translate(474.5 146.5)"/>
     <path class="c0" d="M 0 -3 L -3 3 L 3 3 z" transform="translate(474.5 164.5)"/>
     <path class="c0" d="M 0 -3 L -3 3 L 3 3 z" transform="translate(474.5 184.5)"/>
     <path class="c0" d="M 0 -3 L -3 3 L 3 3 z" transform="translate(474.5 160.5)"/>
     <path class="c0" d="M 0 -3 L -3 3 L 3 3 z" transform="translate(511.5 138.5)"/>
     <path class="c0" d="M 0 -3 L -3 3 L 3 3 z" transform="translate(511.5 150.5)"/>
     <path class="c0" d="M 0 -3 L -3 3 L 3 3 z" transform="translate(511.5 142.5)"/>
     <path class="c0" d="M 0 -3 L -3 3 L 3 3 z" transform="translate(549.5 122.5)"/>
     <path class="c0" d="M 0 -3 L -3 3 L 3 3 z" transform="translate(549.5 126.5)"/>
     <path class="c0" d="M 0 -3 L -3 3 L 3 3 z" transform="translate(549.5 131.5)"/>
     <path class="c0" d="M 0 -3 L -3 3 L 3 3 z" transform="translate(586.5 110.5)"/>
     <path class="c0" d="M 0 -3 L -3 3 L 3 3 z" transform="translate(586.5 115.5)"/>
     <path class="c0" d="M 0 -3 L -3 3 L 3 3 z" transform="translate(586.5 121.5)"/>
    </g>
   </g>
   <g id="PathCollection_10">
    <g clip-path="url(#pa7f48813b0)">
     <path class="c1" d="M -1 3 L 1 3 L 1 1 L 3 1 L 3 -1 L 1 -1 L 1 -3 L -1 -3 L -1 -1 L -3 -1 L -3 1 L -1 1 z" transform="translate(362.5 208.5)"/>
     <path class="c1" d="M -1 3 L 1 3 L 1 1 L 3 1 L 3 -1 L 1 -1 L 1 -3 L -1 -3 L -1 -1 L -3 -1 L -3 1 L -1 1 z" transform="translate(362.5 228.5)"/>
     <path class="c1" d="M -1 3 L 1 3 L 1 1 L 3 1 L 3 -1 L 1 -1 L 1 -3 L -1 -3 L -1 -1 L -3 -1 L -3 1 L -1 1 z" transform="translate(362.5 238.5)"/>
     <path class="c1" d="M -1 3 L 1 3 L 1 1 L 3 1 L 3 -1 L 1 -1 L 1 -3 L -1 -3 L -1 -1 L -3 -1 L -3 1 L -1 1 z" transform="translate(362.5 255.5)"/>
     <path class="c1" d="M -1 3 L 1 3 L 1 1 L 3 1 L 3 -1 L 1 -1 L 1 -3 L -1 -3 L -1 -1 L -3 -1 L -3 1 L -1 1 z" transform="translate(362.5 240.5)"/>
     <path class="c1" d="M -1 3 L 1 3 L 1 1 L 3 1 L 3 -1 L 1 -1 L 1 -3 L -1 -3 L -1 -1 L -3 -1 L -3 1 L -1 1 z" transform="translate(399.5 187.5)"/>
     <path class="c1" d="M -1 3 L 1 3 L 1 1 L 3 1 L 3 -1 L 1 -1 L 1 -3 L -1 -3 L -1 -1 L -3 -1 L -3 1 L -1 1 z" transform="translate(399.5 193.5)"/>
     <path class="c1" d="M -1 3 L 1 3 L 1 1 L 3 1 L 3 -1 L 1 -1 L 1 -3 L -1 -3 L -1 -1 L -3 -1 L -3 1 L -1 1 z" transform="translate(399.5 207.5)"/>
     <path class="c1" d="M -1 3 L 1 3 L 1 1 L 3 1 L 3 -1 L 1 -1 L 1 -3 L -1 -3 L -1 -1 L -3 -1 L -3 1 L -1 1 z" transform="translate(399.5 219.5)"/>
     <path class="c1" d="M -1 3 L 1 3 L 1 1 L 3 1 L 3 -1 L 1 -1 L 1 -3 L -1 -3 L -1 -1 L -3 -1 L -3 1 L -1 1 z" transform="translate(399.5 228.5)"/>
     <path class="c1" d="M -1 3 L 1 3 L 1 1 L 3 1 L 3 -1 L 1 -1 L 1 -3 L -1 -3 L -1 -1 L -3 -1 L -3 1 L -1 1 z" transform="translate(437.5 168.5)"/>
     <path class="c1" d="M -1 3 L 1 3 L 1 1 L 3 1 L 3 -1 L 1 -1 L 1 -3 L -1 -3 L -1 -1 L -3 -1 L -3 1 L -1 1 z" transform="translate(437.5 185.5)"/>
     <path class="c1" d="M -1 3 L 1 3 L 1 1 L 3 1 L 3 -1 L 1 -1 L 1 -3 L -1 -3 L -1 -1 L -3 -1 L -3 1 L -1 1 z" transform="translate(437.5 194.5)"/>
     <path class="c1" d="M -1 3 L 1 3 L 1 1 L 3 1 L 3 -1 L 1 -1 L 1 -3 L -1 -3 L -1 -1 L -3 -1 L -3 1 L -1 1 z" transform="translate(437.5 198.5)"/>
     <path class="c1" d="M -1 3 L 1 3 L 1 1 L 3 1 L 3 -1 L 1 -1 L 1 -3 L -1 -3 L -1 -1 L -3 -1 L -3 1 L -1 1 z" transform="translate(437.5 186.5)"/>
     <path class="c1" d="M -1 3 L 1 3 L 1 1 L 3 1 L 3 -1 L 1 -1 L 1 -3 L -1 -3 L -1 -1 L -3 -1 L -3 1 L -1 1 z" transform="translate(474.5 148.5)"/>
     <path class="c1" d="M -1 3 L 1 3 L 1 1 L 3 1 L 3 -1 L 1 -1 L 1 -3 L -1 -3 L -1 -1 L -3 -1 L -3 1 L -1 1 z" transform="translate(474.5 152.5)"/>
     <path class="c1" d="M -1 3 L 1 3 L 1 1 L 3 1 L 3 -1 L 1 -1 L 1 -3 L -1 -3 L -1 -1 L -3 -1 L -3 1 L -1 1 z" transform="translate(474.5 156.5)"/>
     <path class="c1" d="M -1 3 L 1 3 L 1 1 L 3 1 L 3 -1 L 1 -1 L 1 -3 L -1 -3 L -1 -1 L -3 -1 L -3 1 L -1 1 z" transform="translate(474.5 177.5)"/>
     <path class="c1" d="M -1 3 L 1 3 L 1 1 L 3 1 L 3 -1 L 1 -1 L 1 -3 L -1 -3 L -1 -1 L -3 -1 L -3 1 L -1 1 z" transform="translate(474.5 150.5)"/>
     <path class="c1" d="M -1 3 L 1 3 L 1 1 L 3 1 L 3 -1 L 1 -1 L 1 -3 L -1 -3 L -1 -1 L -3 -1 L -3 1 L -1 1 z" transform="translate(511.5 125.5)"/>
     <path class="c1" d="M -1 3 L 1 3 L 1 1 L 3 1 L 3 -1 L 1 -1 L 1 -3 L -1 -3 L -1 -1 L -3 -1 L -3 1 L -1 1 z" transform="translate(511.5 131.5)"/>
     <path class="c1" d="M -1 3 L 1 3 L 1 1 L 3 1 L 3 -1 L 1 -1 L 1 -3 L -1 -3 L -1 -1 L -3 -1 L -3 1 L -1 1 z" transform="translate(511.5 143.5)"/>
     <path class="c1" d="M -1 3 L 1 3 L 1 1 L 3 1 L 3 -1 L 1 -1 L 1 -3 L -1 -3 L -1 -1 L -3 -1 L -3 1 L -1 1 z" transform="translate(511.5 133.5)"/>
     <path class="c1" d="M -1 3 L 1 3 L 1 1 L 3 1 L 3 -1 L 1 -1 L 1 -3 L -1 -3 L -1 -1 L -3 -1 L -3 1 L -1 1 z" transform="translate(549.5 102.5)"/>
     <path class="c1" d="M -1 3 L 1 3 L 1 1 L 3 1 L 3 -1 L 1 -1 L 1 -3 L -1 -3 L -1 -1 L -3 -1 L -3 1 L -1 1 z" transform="translate(549.5 108.5)"/>
     <path class="c1" d="M -1 3 L 1 3 L 1 1 L 3 1 L 3 -1 L 1 -1 L 1 -3 L -1 -3 L -1 -1 L -3 -1 L -3 1 L -1 1 z" transform="translate(549.5 114.5)"/>
     <path class="c1" d="M -1 3 L 1 3 L 1 1 L 3 1 L 3 -1 L 1 -1 L 1 -3 L -1 -3 L -1 -1 L -3 -1 L -3 1 L -1 1 z" transform="translate(549.5 126.5)"/>
     <path class="c1" d="M -1 3 L 1 3 L 1 1 L 3 1 L 3 -1 L 1 -1 L 1 -3 L -1 -3 L -1 -1 L -3 -1 L -3 1 L -1 1 z" transform="translate(549.5 137.5)"/>
     <path class="c1" d="M -1 3 L 1 3 L 1 1 L 3 1 L 3 -1 L 1 -1 L 1 -3 L -1 -3 L -1 -1 L -3 -1 L -3 1 L -1 1 z" transform="translate(586.5 79.5)"/>
     <path class="c1" d="M -1 3 L 1 3 L 1 1 L 3 1 L 3 -1 L 1 -1 L 1 -3 L -1 -3 L -1 -1 L -3 -1 L -3 1 L -1 1 z" transform="translate(586.5 94.5)"/>
     <path class="c1" d="M -1 3 L 1 3 L 1 1 L 3 1 L 3 -1 L 1 -1 L 1 -3 L -1 -3 L -1 -1 L -3 -1 L -3 1 L -1 1 z" transform="translate(586.5 100.5)"/>
     <path class="c1" d="M -1 3 L 1 3 L 1 1 L 3 1 L 3 -1 L 1 -1 L 1 -3 L -1 -3 L -1 -1 L -3 -1 L -3 1 L -1 1 z" transform="translate(586.5 98.5)"/>
     <path class="c1" d="M -1 3 L 1 3 L 1 1 L 3 1 L 3 -1 L 1 -1 L 1 -3 L -1 -3 L -1 -1 L -3 -1 L -3 1 L -1 1 z" transform="translate(586.5 101.5)"/>
    </g>
   </g>
   <g id="PathCollection_11">
    <g clip-path="url(#pa7f48813b0)">
     <path class="c2" d="M 0 0 L 3 0 M 0 0 L -1.5 -2.4 M 0 0 L -1.5 2.4" transform="translate(362.5 266.5)"/>
     <path class="c2" d="M 0 0 L 3 0 M 0 0 L -1.5 -2.4 M 0 0 L -1.5 2.4" transform="translate(362.5 266.5)"/>
     <path class="c2" d="M 0 0 L 3 0 M 0 0 L -1.5 -2.4 M 0 0 L -1.5 2.4" transform="translate(362.5 268.5)"/>
     <path class="c2" d="M 0 0 L 3 0 M 0 0 L -1.5 -2.4 M 0 0 L -1.5 2.4" transform="translate(362.5 269.5)"/>
     <path class="c2" d="M 0 0 L 3 0 M 0 0 L -1.5 -2.4 M 0 0 L -1.5 2.4" transform="translate(362.5 270.5)"/>
     <path class="c2" d="M 0 0 L 3 0 M 0 0 L -1.5 -2.4 M 0 0 L -1.5 2.4" transform="translate(399.5 264.5)"/>
     <path class="c2" d="M 0 0 L 3 0 M 0 0 L -1.5 -2.4 M 0 0 L -1.5 2.4" transform="translate(399.5 264.5)"/>
     <path class="c2" d="M 0 0 L 3 0 M 0 0 L -1.5 -2.4 M 0 0 L -1.5 2.4" transform="translate(399.5 266.5)"/>
     <path class="c2" d="M 0 0 L 3 0 M 0 0 L -1.5 -2.4 M 0 0 L -1.5 2.4" transform="translate(399.5 268.5)"/>
     <path class="c2" d="M 0 0 L 3 0 M 0 0 L -1.5 -2.4 M 0 0 L -1.5 2.4" transform="translate(399.5 269.5)"/>
     <path class="c2" d="M 0 0 L 3 0 M 0 0 L -1.5 -2.4 M 0 0 L -1.5 2.4" transform="translate(437.5 263.5)"/>
     <path class="c2" d="M 0 0 L 3 0 M 0 0 L -1.5 -2.4 M 0 0 L -1.5 2.4" transform="translate(437.5 263.5)"/>
     <path class="c2" d="M 0 0 L 3 0 M 0 0 L -1.5 -2.4 M 0 0 L -1.5 2.4" transform="translate(437.5 266.5)"/>
     <path class="c2" d="M 0 0 L 3 0 M 0 0 L -1.5 -2.4 M 0 0 L -1.5 2.4" transform="translate(437.5 268.5)"/>
     <path class="c2" d="M 0 0 L 3 0 M 0 0 L -1.5 -2.4 M 0 0 L -1.5 2.4" transform="translate(437.5 269.5)"/>
     <path class="c2" d="M 0 0 L 3 0 M 0 0 L -1.5 -2.4 M 0 0 L -1.5 2.4" transform="translate(474.5 253.5)"/>
     <path class="c2" d="M 0 0 L 3 0 M 0 0 L -1.5 -2.4 M 0 0 L -1.5 2.4" transform="translate(474.5 253.5)"/>
     <path class="c2" d="M 0 0 L 3 0 M 0 0 L -1.5 -2.4 M 0 0 L -1.5 2.4" transform="translate(474.5 255.5)"/>
     <path class="c2" d="M 0 0 L 3 0 M 0 0 L -1.5 -2.4 M 0 0 L -1.5 2.4" transform="translate(474.5 256.5)"/>
     <path class="c2" d="M 0 0 L 3 0 M 0 0 L -1.5 -2.4 M 0 0 L -1.5 2.4" transform="translate(474.5 257.5)"/>
     <path class="c2" d="M 0 0 L 3 0 M 0 0 L -1.5 -2.4 M 0 0 L -1.5 2.4" transform="translate(511.5 248.5)"/>
     <path class="c2" d="M 0 0 L 3 0 M 0 0 L -1.5 -2.4 M 0 0 L -1.5 2.4" transform="translate(511.5 249.5)"/>
     <path class="c2" d="M 0 0 L 3 0 M 0 0 L -1.5 -2.4 M 0 0 L -1.5 2.4" transform="translate(511.5 251.5)"/>
     <path class="c2" d="M 0 0 L 3 0 M 0 0 L -1.5 -2.4 M 0 0 L -1.5 2.4" transform="translate(511.5 253.5)"/>
     <path class="c2" d="M 0 0 L 3 0 M 0 0 L -1.5 -2.4 M 0 0 L -1.5 2.4" transform="translate(511.5 254.5)"/>
     <path class="c2" d="M 0 0 L 3 0 M 0 0 L -1.5 -2.4 M 0 0 L -1.5 2.4" transform="translate(549.5 232.5)"/>
     <path class="c2" d="M 0 0 L 3 0 M 0 0 L -1.5 -2.4 M 0 0 L -1.5 2.4" transform="translate(549.5 233.5)"/>
     <path class="c2" d="M 0 0 L 3 0 M 0 0 L -1.5 -2.4 M 0 0 L -1.5 2.4" transform="translate(549.5 236.5)"/>
     <path class="c2" d="M 0 0 L 3 0 M 0 0 L -1.5 -2.4 M 0 0 L -1.5 2.4" transform="translate(549.5 239.5)"/>
     <path class="c2" d="M 0 0 L 3 0 M 0 0 L -1.5 -2.4 M 0 0 L -1.5 2.4" transform="translate(549.5 241.5)"/>
     <path class="c2" d="M 0 0 L 3 0 M 0 0 L -1.5 -2.4 M 0 0 L -1.5 2.4" transform="translate(586.5 223.5)"/>
     <path class="c2" d="M 0 0 L 3 0 M 0 0 L -1.5 -2.4 M 0 0 L -1.5 2.4" transform="translate(586.5 223.5)"/>
     <path class="c2" d="M 0 0 L 3 0 M 0 0 L -1.5 -2.4 M 0 0 L -1.5 2.4" transform="translate(586.5 226.5)"/>
     <path class="c2" d="M 0 0 L 3 0 M 0 0 L -1.5 -2.4 M 0 0 L -1.5 2.4" transform="translate(586.5 228.5)"/>
     <path class="c2" d="M 0 0 L 3 0 M 0 0 L -1.5 -2.4 M 0 0 L -1.5 2.4" transform="translate(586.5 229.5)"/>
    </g>
   </g>
   <g id="PathCollection_12">
    <g clip-path="url(#pa7f48813b0)">
     <circle class="c3" cx="362.5" cy="251.5" r="3"/>
     <circle class="c3" cx="362.5" cy="255.5" r="3"/>
     <circle class="c3" cx="362.5" cy="263.5" r="3"/>
     <circle class="c3" cx="362.5" cy="262.5" r="3"/>
     <circle class="c3" cx="399.5" cy="246.5" r="3"/>
     <circle class="c3" cx="399.5" cy="255.5" r="3"/>
     <circle class="c3" cx="399.5" cy="263.5" r="3"/>
     <circle class="c3" cx="399.5" cy="257.5" r="3"/>
     <circle class="c3" cx="437.5" cy="240.5" r="3"/>
     <circle class="c3" cx="437.5" cy="250.5" r="3"/>
     <circle class="c3" cx="437.5" cy="255.5" r="3"/>
     <circle class="c3" cx="437.5" cy="252.5" r="3"/>
     <circle class="c3" cx="474.5" cy="238.5" r="3"/>
     <circle class="c3" cx="474.5" cy="238.5" r="3"/>
     <circle class="c3" cx="474.5" cy="242.5" r="3"/>
     <circle class="c3" cx="474.5" cy="245.5" r="3"/>
     <circle class="c3" cx="474.5" cy="246.5" r="3"/>
     <circle class="c3" cx="511.5" cy="224.5" r="3"/>
     <circle class="c3" cx="511.5" cy="225.5" r="3"/>
     <circle class="c3" cx="511.5" cy="228.5" r="3"/>
     <circle class="c3" cx="511.5" cy="232.5" r="3"/>
     <circle class="c3" cx="511.5" cy="233.5" r="3"/>
     <circle class="c3" cx="549.5" cy="214.5" r="3"/>
     <circle class="c3" cx="549.5" cy="214.5" r="3"/>
     <circle class="c3" cx="549.5" cy="217.5" r="3"/>
     <circle class="c3" cx="549.5" cy="220.5" r="3"/>
     <circle class="c3" cx="549.5" cy="221.5" r="3"/>
     <circle class="c3" cx="586.5" cy="197.5" r="3"/>
     <circle class="c3" cx="586.5" cy="197.5" r="3"/>
     <circle class="c3" cx="586.5" cy="200.5" r="3"/>
     <circle class="c3" cx="586.5" cy="202.5" r="3"/>
     <circle class="c3" cx="586.5" cy="203.5" r="3"/>
    </g>
   </g>
   <g id="PathCollection_13">
    <g clip-path="url(#pa7f48813b0)">
     <path class="c4" d="M -0 4.24 L 2.54 0 L 0 -4.24 L -2.54 -0 z" transform="translate(362.5 271.5)"/>
     <path class="c4" d="M -0 4.24 L 2.54 0 L 0 -4.24 L -2.54 -0 z" transform="translate(362.5 271.5)"/>
     <path class="c4" d="M -0 4.24 L 2.54 0 L 0 -4.24 L -2.54 -0 z" transform="translate(362.5 272.5)"/>
     <path class="c4" d="M -0 4.24 L 2.54 0 L 0 -4.24 L -2.54 -0 z" transform="translate(362.5 273.5)"/>
     <path class="c4" d="M -0 4.24 L 2.54 0 L 0 -4.24 L -2.54 -0 z" transform="translate(362.5 274.5)"/>
     <path class="c4" d="M -0 4.24 L 2.54 0 L 0 -4.24 L -2.54 -0 z" transform="translate(399.5 267.5)"/>
     <path class="c4" d="M -0 4.24 L 2.54 0 L 0 -4.24 L -2.54 -0 z" transform="translate(399.5 267.5)"/>
     <path class="c4" d="M -0 4.24 L 2.54 0 L 0 -4.24 L -2.54 -0 z" transform="translate(399.5 270.5)"/>
     <path class="c4" d="M -0 4.24 L 2.54 0 L 0 -4.24 L -2.54 -0 z" transform="translate(399.5 272.5)"/>
     <path class="c4" d="M -0 4.24 L 2.54 0 L 0 -4.24 L -2.54 -0 z" transform="translate(399.5 273.5)"/>
     <path class="c4" d="M -0 4.24 L 2.54 0 L 0 -4.24 L -2.54 -0 z" transform="translate(437.5 263.5)"/>
     <path class="c4" d="M -0 4.24 L 2.54 0 L 0 -4.24 L -2.54 -0 z" transform="translate(437.5 263.5)"/>
     <path class="c4" d="M -0 4.24 L 2.54 0 L 0 -4.24 L -2.54 -0 z" transform="translate(437.5 267.5)"/>
     <path class="c4" d="M -0 4.24 L 2.54 0 L 0 -4.24 L -2.54 -0 z" transform="translate(437.5 270.5)"/>
     <path class="c4" d="M -0 4.24 L 2.54 0 L 0 -4.24 L -2.54 -0 z" transform="translate(437.5 271.5)"/>
     <path class="c4" d="M -0 4.24 L 2.54 0 L 0 -4.24 L -2.54 -0 z" transform="translate(474.5 260.5)"/>
     <path class="c4" d="M -0 4.24 L 2.54 0 L 0 -4.24 L -2.54 -0 z" transform="translate(474.5 260.5)"/>
     <path class="c4" d="M -0 4.24 L 2.54 0 L 0 -4.24 L -2.54 -0 z" transform="translate(474.5 262.5)"/>
     <path class="c4" d="M -0 4.24 L 2.54 0 L 0 -4.24 L -2.54 -0 z" transform="translate(474.5 264.5)"/>
     <path class="c4" d="M -0 4.24 L 2.54 0 L 0 -4.24 L -2.54 -0 z" transform="translate(474.5 265.5)"/>
     <path class="c4" d="M -0 4.24 L 2.54 0 L 0 -4.24 L -2.54 -0 z" transform="translate(511.5 257.5)"/>
     <path class="c4" d="M -0 4.24 L 2.54 0 L 0 -4.24 L -2.54 -0 z" transform="translate(511.5 257.5)"/>
     <path class="c4" d="M -0 4.24 L 2.54 0 L 0 -4.24 L -2.54 -0 z" transform="translate(511.5 259.5)"/>
     <path class="c4" d="M -0 4.24 L 2.54 0 L 0 -4.24 L -2.54 -0 z" transform="translate(511.5 261.5)"/>
     <path class="c4" d="M -0 4.24 L 2.54 0 L 0 -4.24 L -2.54 -0 z" transform="translate(511.5 262.5)"/>
     <path class="c4" d="M -0 4.24 L 2.54 0 L 0 -4.24 L -2.54 -0 z" transform="translate(549.5 250.5)"/>
     <path class="c4" d="M -0 4.24 L 2.54 0 L 0 -4.24 L -2.54 -0 z" transform="translate(549.5 251.5)"/>
     <path class="c4" d="M -0 4.24 L 2.54 0 L 0 -4.24 L -2.54 -0 z" transform="translate(549.5 254.5)"/>
     <path class="c4" d="M -0 4.24 L 2.54 0 L 0 -4.24 L -2.54 -0 z" transform="translate(549.5 257.5)"/>
     <path class="c4" d="M -0 4.24 L 2.54 0 L 0 -4.24 L -2.54 -0 z" transform="translate(549.5 259.5)"/>
     <path class="c4" d="M -0 4.24 L 2.54 0 L 0 -4.24 L -2.54 -0 z" transform="translate(586.5 245.5)"/>
     <path class="c4" d="M -0 4.24 L 2.54 0 L 0 -4.24 L -2.54 -0 z" transform="translate(586.5 246.5)"/>
     <path class="c4" d="M -0 4.24 L 2.54 0 L 0 -4.24 L -2.54 -0 z" transform="translate(586.5 250.5)"/>
     <path class="c4" d="M -0 4.24 L 2.54 0 L 0 -4.24 L -2.54 -0 z" transform="translate(586.5 254.5)"/>
     <path class="c4" d="M -0 4.24 L 2.54 0 L 0 -4.24 L -2.54 -0 z" transform="translate(586.5 256.5)"/>
    </g>
   </g>
   <g id="PathCollection_14">
    <g clip-path="url(#pa7f48813b0)">
     <path class="c5" d="M -0 4.24 L 4.24 0 L 0 -4.24 L -4.24 -0 z" transform="translate(362.5 272.5)"/>
     <path class="c5" d="M -0 4.24 L 4.24 0 L 0 -4.24 L -4.24 -0 z" transform="translate(362.5 272.5)"/>
     <path class="c5" d="M -0 4.24 L 4.24 0 L 0 -4.24 L -4.24 -0 z" transform="translate(362.5 274.5)"/>
     <path class="c5" d="M -0 4.24 L 4.24 0 L 0 -4.24 L -4.24 -0 z" transform="translate(362.5 276.5)"/>
     <path class="c5" d="M -0 4.24 L 4.24 0 L 0 -4.24 L -4.24 -0 z" transform="translate(362.5 277.5)"/>
     <path class="c5" d="M -0 4.24 L 4.24 0 L 0 -4.24 L -4.24 -0 z" transform="translate(399.5 272.5)"/>
     <path class="c5" d="M -0 4.24 L 4.24 0 L 0 -4.24 L -4.24 -0 z" transform="translate(399.5 272.5)"/>
     <path class="c5" d="M -0 4.24 L 4.24 0 L 0 -4.24 L -4.24 -0 z" transform="translate(399.5 274.5)"/>
     <path class="c5" d="M -0 4.24 L 4.24 0 L 0 -4.24 L -4.24 -0 z" transform="translate(399.5 276.5)"/>
     <path class="c5" d="M -0 4.24 L 4.24 0 L 0 -4.24 L -4.24 -0 z" transform="translate(399.5 277.5)"/>
     <path class="c5" d="M -0 4.24 L 4.24 0 L 0 -4.24 L -4.24 -0 z" transform="translate(437.5 272.5)"/>
     <path class="c5" d="M -0 4.24 L 4.24 0 L 0 -4.24 L -4.24 -0 z" transform="translate(437.5 272.5)"/>
     <path class="c5" d="M -0 4.24 L 4.24 0 L 0 -4.24 L -4.24 -0 z" transform="translate(437.5 274.5)"/>
     <path class="c5" d="M -0 4.24 L 4.24 0 L 0 -4.24 L -4.24 -0 z" transform="translate(437.5 276.5)"/>
     <path class="c5" d="M -0 4.24 L 4.24 0 L 0 -4.24 L -4.24 -0 z" transform="translate(437.5 277.5)"/>
     <path class="c5" d="M -0 4.24 L 4.24 0 L 0 -4.24 L -4.24 -0 z" transform="translate(474.5 271.5)"/>
     <path class="c5" d="M -0 4.24 L 4.24 0 L 0 -4.24 L -4.24 -0 z" transform="translate(474.5 271.5)"/>
     <path class="c5" d="M -0 4.24 L 4.24 0 L 0 -4.24 L -4.24 -0 z" transform="translate(474.5 273.5)"/>
     <path class="c5" d="M -0 4.24 L 4.24 0 L 0 -4.24 L -4.24 -0 z" transform="translate(474.5 274.5)"/>
     <path class="c5" d="M -0 4.24 L 4.24 0 L 0 -4.24 L -4.24 -0 z" transform="translate(474.5 275.5)"/>
     <path class="c5" d="M -0 4.24 L 4.24 0 L 0 -4.24 L -4.24 -0 z" transform="translate(511.5 266.5)"/>
     <path class="c5" d="M -0 4.24 L 4.24 0 L 0 -4.24 L -4.24 -0 z" transform="translate(511.5 266.5)"/>
     <path class="c5" d="M -0 4.24 L 4.24 0 L 0 -4.24 L -4.24 -0 z" transform="translate(511.5 267.5)"/>
     <path class="c5" d="M -0 4.24 L 4.24 0 L 0 -4.24 L -4.24 -0 z" transform="translate(511.5 268.5)"/>
     <path class="c5" d="M -0 4.24 L 4.24 0 L 0 -4.24 L -4.24 -0 z" transform="translate(511.5 269.5)"/>
     <path class="c5" d="M -0 4.24 L 4.24 0 L 0 -4.24 L -4.24 -0 z" transform="translate(549.5 263.5)"/>
     <path class="c5" d="M -0 4.24 L 4.24 0 L 0 -4.24 L -4.24 -0 z" transform="translate(549.5 263.5)"/>
     <path class="c5" d="M -0 4.24 L 4.24 0 L 0 -4.24 L -4.24 -0 z" transform="translate(549.5 264.5)"/>
     <path class="c5" d="M -0 4.24 L 4.24 0 L 0 -4.24 L -4.24 -0 z" transform="translate(549.5 265.5)"/>
     <path class="c5" d="M -0 4.24 L 4.24 0 L 0 -4.24 L -4.24 -0 z" transform="translate(549.5 266.5)"/>
     <path class="c5" d="M -0 4.24 L 4.24 0 L 0 -4.24 L -4.24 -0 z" transform="translate(586.5 256.5)"/>
     <path class="c5" d="M -0 4.24 L 4.24 0 L 0 -4.24 L -4.24 -0 z" transform="translate(586.5 256.5)"/>
     <path class="c5" d="M -0 4.24 L 4.24 0 L 0 -4.24 L -4.24 -0 z" transform="translate(586.5 257.5)"/>
     <path class="c5" d="M -0 4.24 L 4.24 0 L 0 -4.24 L -4.24 -0 z" transform="translate(586.5 258.5)"/>
     <path class="c5" d="M -0 4.24 L 4.24 0 L 0 -4.24 L -4.24 -0 z" transform="translate(586.5 259.5)"/>
    </g>
   </g>
   <g id="PathCollection_15">
    <g clip-path="url(#pa7f48813b0)">
     <path class="c6" d="M 0 0 L 0 -3 M 0 0 L -2.4 1.5 M 0 0 L 2.4 1.5" transform="translate(362.5 269.5)"/>
     <path class="c6" d="M 0 0 L 0 -3 M 0 0 L -2.4 1.5 M 0 0 L 2.4 1.5" transform="translate(362.5 269.5)"/>
     <path class="c6" d="M 0 0 L 0 -3 M 0 0 L -2.4 1.5 M 0 0 L 2.4 1.5" transform="translate(362.5 272.5)"/>
     <path class="c6" d="M 0 0 L 0 -3 M 0 0 L -2.4 1.5 M 0 0 L 2.4 1.5" transform="translate(362.5 274.5)"/>
     <path class="c6" d="M 0 0 L 0 -3 M 0 0 L -2.4 1.5 M 0 0 L 2.4 1.5" transform="translate(362.5 275.5)"/>
     <path class="c6" d="M 0 0 L 0 -3 M 0 0 L -2.4 1.5 M 0 0 L 2.4 1.5" transform="translate(399.5 269.5)"/>
     <path class="c6" d="M 0 0 L 0 -3 M 0 0 L -2.4 1.5 M 0 0 L 2.4 1.5" transform="translate(399.5 269.5)"/>
     <path class="c6" d="M 0 0 L 0 -3 M 0 0 L -2.4 1.5 M 0 0 L 2.4 1.5" transform="translate(399.5 271.5)"/>
     <path class="c6" d="M 0 0 L 0 -3 M 0 0 L -2.4 1.5 M 0 0 L 2.4 1.5" transform="translate(399.5 273.5)"/>
     <path class="c6" d="M 0 0 L 0 -3 M 0 0 L -2.4 1.5 M 0 0 L 2.4 1.5" transform="translate(399.5 274.5)"/>
     <path class="c6" d="M 0 0 L 0 -3 M 0 0 L -2.4 1.5 M 0 0 L 2.4 1.5" transform="translate(437.5 265.5)"/>
     <path class="c6" d="M 0 0 L 0 -3 M 0 0 L -2.4 1.5 M 0 0 L 2.4 1.5" transform="translate(437.5 265.5)"/>
     <path class="c6" d="M 0 0 L 0 -3 M 0 0 L -2.4 1.5 M 0 0 L 2.4 1.5" transform="translate(437.5 267.5)"/>
     <path class="c6" d="M 0 0 L 0 -3 M 0 0 L -2.4 1.5 M 0 0 L 2.4 1.5" transform="translate(437.5 269.5)"/>
     <path class="c6" d="M 0 0 L 0 -3 M 0 0 L -2.4 1.5 M 0 0 L 2.4 1.5" transform="translate(437.5 270.5)"/>
     <path class="c6" d="M 0 0 L 0 -3 M 0 0 L -2.4 1.5 M 0 0 L 2.4 1.5" transform="translate(474.5 268.5)"/>
     <path class="c6" d="M 0 0 L 0 -3 M 0 0 L -2.4 1.5 M 0 0 L 2.4 1.5" transform="translate(474.5 268.5)"/>
     <path class="c6" d="M 0 0 L 0 -3 M 0 0 L -2.4 1.5 M 0 0 L 2.4 1.5" transform="translate(474.5 270.5)"/>
     <path class="c6" d="M 0 0 L 0 -3 M 0 0 L -2.4 1.5 M 0 0 L 2.4 1.5" transform="translate(474.5 271.5)"/>
     <path class="c6" d="M 0 0 L 0 -3 M 0 0 L -2.4 1.5 M 0 0 L 2.4 1.5" transform="translate(474.5 272.5)"/>
     <path class="c6" d="M 0 0 L 0 -3 M 0 0 L -2.4 1.5 M 0 0 L 2.4 1.5" transform="translate(511.5 267.5)"/>
     <path class="c6" d="M 0 0 L 0 -3 M 0 0 L -2.4 1.5 M 0 0 L 2.4 1.5" transform="translate(511.5 267.5)"/>
     <path class="c6" d="M 0 0 L 0 -3 M 0 0 L -2.4 1.5 M 0 0 L 2.4 1.5" transform="translate(511.5 269.5)"/>
     <path class="c6" d="M 0 0 L 0 -3 M 0 0 L -2.4 1.5 M 0 0 L 2.4 1.5" transform="translate(511.5 270.5)"/>
     <path class="c6" d="M 0 0 L 0 -3 M 0 0 L -2.4 1.5 M 0 0 L 2.4 1.5" transform="translate(511.5 271.5)"/>
     <path class="c6" d="M 0 0 L 0 -3 M 0 0 L -2.4 1.5 M 0 0 L 2.4 1.5" transform="translate(549.5 265.5)"/>
     <path class="c6" d="M 0 0 L 0 -3 M 0 0 L -2.4 1.5 M 0 0 L 2.4 1.5" transform="translate(549.5 265.5)"/>
     <path class="c6" d="M 0 0 L 0 -3 M 0 0 L -2.4 1.5 M 0 0 L 2.4 1.5" transform="translate(549.5 268.5)"/>
     <path class="c6" d="M 0 0 L 0 -3 M 0 0 L -2.4 1.5 M 0 0 L 2.4 1.5" transform="translate(549.5 270.5)"/>
     <path class="c6" d="M 0 0 L 0 -3 M 0 0 L -2.4 1.5 M 0 0 L 2.4 1.5" transform="translate(549.5 271.5)"/>
     <path class="c6" d="M 0 0 L 0 -3 M 0 0 L -2.4 1.5 M 0 0 L 2.4 1.5" transform="translate(586.5 262.5)"/>
     <path class="c6" d="M 0 0 L 0 -3 M 0 0 L -2.4 1.5 M 0 0 L 2.4 1.5" transform="translate(586.5 262.5)"/>
     <path class="c6" d="M 0 0 L 0 -3 M 0 0 L -2.4 1.5 M 0 0 L 2.4 1.5" transform="translate(586.5 263.5)"/>
     <path class="c6" d="M 0 0 L 0 -3 M 0 0 L -2.4 1.5 M 0 0 L 2.4 1.5" transform="translate(586.5 264.5)"/>
     <path class="c6" d="M 0 0 L 0 -3 M 0 0 L -2.4 1.5 M 0 0 L 2.4 1.5" transform="translate(586.5 265.5)"/>
    </g>
   </g>
   <g id="PathCollection_16">
    <g clip-path="url(#pa7f48813b0)">
     <path class="c7" d="M 0 0 L -3 -0 M 0 0 L 1.5 2.4 M 0 0 L 1.5 -2.4" transform="translate(362.5 272.5)"/>
     <path class="c7" d="M 0 0 L -3 -0 M 0 0 L 1.5 2.4 M 0 0 L 1.5 -2.4" transform="translate(362.5 272.5)"/>
     <path class="c7" d="M 0 0 L -3 -0 M 0 0 L 1.5 2.4 M 0 0 L 1.5 -2.4" transform="translate(362.5 273.5)"/>
     <path class="c7" d="M 0 0 L -3 -0 M 0 0 L 1.5 2.4 M 0 0 L 1.5 -2.4" transform="translate(362.5 273.5)"/>
     <path class="c7" d="M 0 0 L -3 -0 M 0 0 L 1.5 2.4 M 0 0 L 1.5 -2.4" transform="translate(362.5 274.5)"/>
     <path class="c7" d="M 0 0 L -3 -0 M 0 0 L 1.5 2.4 M 0 0 L 1.5 -2.4" transform="translate(399.5 272.5)"/>
     <path class="c7" d="M 0 0 L -3 -0 M 0 0 L 1.5 2.4 M 0 0 L 1.5 -2.4" transform="translate(399.5 272.5)"/>
     <path class="c7" d="M 0 0 L -3 -0 M 0 0 L 1.5 2.4 M 0 0 L 1.5 -2.4" transform="translate(399.5 273.5)"/>
     <path class="c7" d="M 0 0 L -3 -0 M 0 0 L 1.5 2.4 M 0 0 L 1.5 -2.4" transform="translate(399.5 273.5)"/>
     <path class="c7" d="M 0 0 L -3 -0 M 0 0 L 1.5 2.4 M 0 0 L 1.5 -2.4" transform="translate(399.5 274.5)"/>
     <path class="c7" d="M 0 0 L -3 -0 M 0 0 L 1.5 2.4 M 0 0 L 1.5 -2.4" transform="translate(437.5 272.5)"/>
     <path class="c7" d="M 0 0 L -3 -0 M 0 0 L 1.5 2.4 M 0 0 L 1.5 -2.4" transform="translate(437.5 272.5)"/>
     <path class="c7" d="M 0 0 L -3 -0 M 0 0 L 1.5 2.4 M 0 0 L 1.5 -2.4" transform="translate(437.5 273.5)"/>
     <path class="c7" d="M 0 0 L -3 -0 M 0 0 L 1.5 2.4 M 0 0 L 1.5 -2.4" transform="translate(437.5 273.5)"/>
     <path class="c7" d="M 0 0 L -3 -0 M 0 0 L 1.5 2.4 M 0 0 L 1.5 -2.4" transform="translate(437.5 274.5)"/>
     <path class="c7" d="M 0 0 L -3 -0 M 0 0 L 1.5 2.4 M 0 0 L 1.5 -2.4" transform="translate(474.5 270.5)"/>
     <path class="c7" d="M 0 0 L -3 -0 M 0 0 L 1.5 2.4 M 0 0 L 1.5 -2.4" transform="translate(474.5 270.5)"/>
     <path class="c7" d="M 0 0 L -3 -0 M 0 0 L 1.5 2.4 M 0 0 L 1.5 -2.4" transform="translate(474.5 271.5)"/>
     <path class="c7" d="M 0 0 L -3 -0 M 0 0 L 1.5 2.4 M 0 0 L 1.5 -2.4" transform="translate(474.5 272.5)"/>
     <path class="c7" d="M 0 0 L -3 -0 M 0 0 L 1.5 2.4 M 0 0 L 1.5 -2.4" transform="translate(474.5 273.5)"/>
     <path class="c7" d="M 0 0 L -3 -0 M 0 0 L 1.5 2.4 M 0 0 L 1.5 -2.4" transform="translate(511.5 272.5)"/>
     <path class="c7" d="M 0 0 L -3 -0 M 0 0 L 1.5 2.4 M 0 0 L 1.5 -2.4" transform="translate(511.5 272.5)"/>
     <path class="c7" d="M 0 0 L -3 -0 M 0 0 L 1.5 2.4 M 0 0 L 1.5 -2.4" transform="translate(511.5 273.5)"/>
     <path class="c7" d="M 0 0 L -3 -0 M 0 0 L 1.5 2.4 M 0 0 L 1.5 -2.4" transform="translate(511.5 273.5)"/>
     <path class="c7" d="M 0 0 L -3 -0 M 0 0 L 1.5 2.4 M 0 0 L 1.5 -2.4" transform="translate(511.5 274.5)"/>
     <path class="c7" d="M 0 0 L -3 -0 M 0 0 L 1.5 2.4 M 0 0 L 1.5 -2.4" transform="translate(549.5 273.5)"/>
     <path class="c7" d="M 0 0 L -3 -0 M 0 0 L 1.5 2.4 M 0 0 L 1.5 -2.4" transform="translate(549.5 273.5)"/>
     <path class="c7" d="M 0 0 L -3 -0 M 0 0 L 1.5 2.4 M 0 0 L 1.5 -2.4" transform="translate(549.5 274.5)"/>
     <path class="c7" d="M 0 0 L -3 -0 M 0 0 L 1.5 2.4 M 0 0 L 1.5 -2.4" transform="translate(549.5 274.5)"/>
     <path class="c7" d="M 0 0 L -3 -0 M 0 0 L 1.5 2.4 M 0 0 L 1.5 -2.4" transform="translate(549.5 275.5)"/>
     <path class="c7" d="M 0 0 L -3 -0 M 0 0 L 1.5 2.4 M 0 0 L 1.5 -2.4" transform="translate(586.5 273.5)"/>
     <path class="c7" d="M 0 0 L -3 -0 M 0 0 L 1.5 2.4 M 0 0 L 1.5 -2.4" transform="translate(586.5 273.5)"/>
     <path class="c7" d="M 0 0 L -3 -0 M 0 0 L 1.5 2.4 M 0 0 L 1.5 -2.4" transform="translate(586.5 274.5)"/>
     <path class="c7" d="M 0 0 L -3 -0 M 0 0 L 1.5 2.4 M 0 0 L 1.5 -2.4" transform="translate(586.5 274.5)"/>
     <path class="c7" d="M 0 0 L -3 -0 M 0 0 L 1.5 2.4 M 0 0 L 1.5 -2.4" transform="translate(586.5 275.5)"/>
    </g>
   </g>
   <g id="matplotlib.axis_3">
    <g id="xtick_22">
     <g id="line2d_34">
      <g>
       <path class="c8" d="M 0 0 L 0 3.5" transform="translate(362.5 273.5)"/>
      </g>
     </g>
     <g id="text_14">
      <text style="font-size: 10px; font-family: 'DejaVu Sans', 'Liberation Sans', sans-serif; text-anchor: middle" x="362.00" y="289.10">4</text>
     </g>
    </g>
    <g id="xtick_23">
     <g id="line2d_35">
      <g>
       <path class="c8" d="M 0 0 L 0 3.5" transform="translate(399.5 273.5)"/>
      </g>
     </g>
     <g id="text_15">
      <text style="font-size: 10px; font-family: 'DejaVu Sans', 'Liberation Sans', sans-serif; text-anchor: middle" x="399.35" y="289.10">8</text>
     </g>
    </g>
    <g id="xtick_24">
     <g id="line2d_36">
      <g>
       <path class="c8" d="M 0 0 L 0 3.5" transform="translate(437.5 273.5)"/>
      </g>
     </g>
     <g id="text_16">
      <text style="font-size: 10px; font-family: 'DejaVu Sans', 'Liberation Sans', sans-serif; text-anchor: middle" x="436.70" y="289.10">16</text>
     </g>
    </g>
    <g id="xtick_25">
     <g id="line2d_37">
      <g>
       <path class="c8" d="M 0 0 L 0 3.5" transform="translate(474.5 273.5)"/>
      </g>
     </g>
     <g id="text_17">
      <text style="font-size: 10px; font-family: 'DejaVu Sans', 'Liberation Sans', sans-serif; text-anchor: middle" x="474.05" y="289.10">32</text>
     </g>
    </g>
    <g id="xtick_26">
     <g id="line2d_38">
      <g>
       <path class="c8" d="M 0 0 L 0 3.5" transform="translate(511.5 273.5)"/>
      </g>
     </g>
     <g id="text_18">
      <text style="font-size: 10px; font-family: 'DejaVu Sans', 'Liberation Sans', sans-serif; text-anchor: middle" x="511.40" y="289.10">64</text>
     </g>
    </g>
    <g id="xtick_27">
     <g id="line2d_39">
      <g>
       <path class="c8" d="M 0 0 L 0 3.5" transform="translate(549.5 273.5)"/>
      </g>
     </g>
     <g id="text_19">
      <text style="font-size: 10px; font-family: 'DejaVu Sans', 'Liberation Sans', sans-serif; text-anchor: middle" x="548.75" y="289.10">128</text>
     </g>
    </g>
    <g id="xtick_28">
     <g id="line2d_40">
      <g>
       <path class="c8" d="M 0 0 L 0 3.5" transform="translate(586.5 273.5)"/>
      </g>
     </g>
     <g id="text_20">
      <text style="font-size: 10px; font-family: 'DejaVu Sans', 'Liberation Sans', sans-serif; text-anchor: middle" x="586.10" y="289.10">256</text>
     </g>
    </g>
    <g id="xtick_29">
     <g id="line2d_41">
      <g>
       <path class="c9" d="M 0 0 L 0 2" transform="translate(374.5 273.5)"/>
      </g>
     </g>
    </g>
    <g id="xtick_30">
     <g id="line2d_42">
      <g>
       <path class="c9" d="M 0 0 L 0 2" transform="translate(384.5 273.5)"/>
      </g>
     </g>
    </g>
    <g id="xtick_31">
     <g id="line2d_43">
      <g>
       <path class="c9" d="M 0 0 L 0 2" transform="translate(392.5 273.5)"/>
      </g>
     </g>
    </g>
    <g id="xtick_32">
     <g id="line2d_44">
      <g>
       <path class="c9" d="M 0 0 L 0 2" transform="translate(406.5 273.5)"/>
      </g>
     </g>
    </g>
    <g id="xtick_33">
     <g id="line2d_45">
      <g>
       <path class="c9" d="M 0 0 L 0 2" transform="translate(449.5 273.5)"/>
      </g>
     </g>
    </g>
    <g id="xtick_34">
     <g id="line2d_46">
      <g>
       <path class="c9" d="M 0 0 L 0 2" transform="translate(471.5 273.5)"/>
      </g>
     </g>
    </g>
    <g id="xtick_35">
     <g id="line2d_47">
      <g>
       <path class="c9" d="M 0 0 L 0 2" transform="translate(486.5 273.5)"/>
      </g>
     </g>
    </g>
    <g id="xtick_36">
     <g id="line2d_48">
      <g>
       <path class="c9" d="M 0 0 L 0 2" transform="translate(498.5 273.5)"/>
      </g>
     </g>
    </g>
    <g id="xtick_37">
     <g id="line2d_49">
      <g>
       <path class="c9" d="M 0 0 L 0 2" transform="translate(508.5 273.5)"/>
      </g>
     </g>
    </g>
    <g id="xtick_38">
     <g id="line2d_50">
      <g>
       <path class="c9" d="M 0 0 L 0 2" transform="translate(516.5 273.5)"/>
      </g>
     </g>
    </g>
    <g id="xtick_39">
     <g id="line2d_51">
      <g>
       <path class="c9" d="M 0 0 L 0 2" transform="translate(523.5 273.5)"/>
      </g>
     </g>
    </g>
    <g id="xtick_40">
     <g id="line2d_52">
      <g>
       <path class="c9" d="M 0 0 L 0 2" transform="translate(530.5 273.5)"/>
      </g>
     </g>
    </g>
    <g id="xtick_41">
     <g id="line2d_53">
      <g>
       <path class="c9" d="M 0 0 L 0 2" transform="translate(573.5 273.5)"/>
      </g>
     </g>
    </g>
    <g id="xtick_42">
     <g id="line2d_54">
      <g>
       <path class="c9" d="M 0 0 L 0 2" transform="translate(595.5 273.5)"/>
      </g>
     </g>
    </g>
   </g>
   <g id="matplotlib.axis_4">
    <g id="ytick_5">
     <g id="line2d_55">
      <g>
       <path class="c8" d="M 0 0 L -3.5 0" transform="translate(351.5 273.5)"/>
      </g>
     </g>
     <g id="text_21">
      <text style="font-size: 10px; font-family: 'DejaVu Sans', 'Liberation Sans', sans-serif; text-anchor: end" x="344.10" y="278.10">0.5</text>
     </g>
    </g>
    <g id="ytick_6">
     <g id="line2d_56">
      <g>
       <path class="c8" d="M 0 0 L -3.5 0" transform="translate(351.5 220.5)"/>
      </g>
     </g>
     <g id="text_22">
      <text style="font-size: 10px; font-family: 'DejaVu Sans', 'Liberation Sans', sans-serif; text-anchor: end" x="344.10" y="225.08">0.75</text>
     </g>
    </g>
    <g id="ytick_7">
     <g id="line2d_57">
      <g>
       <path class="c8" d="M 0 0 L -3.5 0" transform="translate(351.5 167.5)"/>
      </g>
     </g>
     <g id="text_23">
      <text style="font-size: 10px; font-family: 'DejaVu Sans', 'Liberation Sans', sans-serif; text-anchor: end" x="344.10" y="172.06">0.9</text>
     </g>
    </g>
    <g id="ytick_8">
     <g id="line2d_58">
      <g>
       <path class="c8" d="M 0 0 L -3.5 0" transform="translate(351.5 51.5)"/>
      </g>
     </g>
     <g id="text_24">
      <text style="font-size: 10px; font-family: 'DejaVu Sans', 'Liberation Sans', sans-serif; text-anchor: end" x="344.10" y="56.34">0.99</text>
     </g>
    </g>
   </g>
   <g id="line2d_59">
    <path d="M 362.5 224.2 L 399.85 208.8 L 437.2 186.5 L 474.55 164.5 L 511.9 142.4 L 549.25 126.1 L 586.6 115.1" clip-path="url(#pa7f48813b0)" style="fill: none; stroke: #daa520; stroke-width: 2; stroke-linecap: square"/>
   </g>
   <g id="line2d_60">
    <path d="M 362.5 235.5 L 399.85 207.7 L 437.2 186.5 L 474.55 157 L 511.9 133.4 L 549.25 118.7 L 586.6 98.8" clip-path="url(#pa7f48813b0)" style="fill: none; stroke: #1e90ff; stroke-width: 2; stroke-linecap: square"/>
   </g>
   <g id="line2d_61">
    <path d="M 362.5 268.1 L 399.85 266.8 L 437.2 266.8 L 474.55 259 L 511.9 249.7 L 549.25 237.8 L 586.6 225.9" clip-path="url(#pa7f48813b0)" style="fill: none; stroke: #0000ff; stroke-width: 2; stroke-linecap: square"/>
   </g>
   <g id="line2d_62">
    <path d="M 362.5 263.2 L 399.85 258 L 437.2 251.2 L 474.55 240.5 L 511.9 228 L 549.25 215.8 L 586.6 201.1" clip-path="url(#pa7f48813b0)" style="fill: none; stroke: #ff7f50; stroke-width: 2; stroke-linecap: square"/>
   </g>
   <g id="line2d_63">
    <path d="M 362.5 273.6 L 399.85 271.6 L 437.2 269.5 L 474.55 264.3 L 511.9 262.3 L 549.25 256.6 L 586.6 251.3" clip-path="url(#pa7f48813b0)" style="fill: none; stroke: #008000; stroke-width: 2; stroke-linecap: square"/>
   </g>
   <g id="line2d_64">
    <path d="M 362.5 275 L 399.85 275 L 437.2 275 L 474.55 273.5 L 511.9 268.3 L 549.25 264.4 L 586.6 259" clip-path="url(#pa7f48813b0)" style="fill: none; stroke: #ffc0cb; stroke-width: 2; stroke-linecap: square"/>
   </g>
   <g id="line2d_65">
    <path d="M 362.5 273.6 L 399.85 272.1 L 437.2 267.9 L 474.55 270.6 L 511.9 269.6 L 549.25 268 L 586.6 262.8" clip-path="url(#pa7f48813b0)" style="fill: none; stroke: #800080; stroke-width: 2; stroke-linecap: square"/>
   </g>
   <g id="line2d_66">
    <path d="M 362.5 273 L 399.85 272.7 L 437.2 272.5 L 474.55 271.2 L 511.9 272.9 L 549.25 273.5 L 586.6 273.5" clip-path="url(#pa7f48813b0)" style="fill: none; stroke: #8b0000; stroke-width: 2; stroke-linecap: square"/>
   </g>
   <g id="patch_8">
    <path d="M 351.5 273.5 L 351.5 26.5" style="fill: none; stroke: #000000; stroke-width: 0.8; stroke-linejoin: miter; stroke-linecap: square"/>
   </g>
   <g id="patch_9">
    <path d="M 597.5 273.5 L 597.5 26.5" style="fill: none; stroke: #000000; stroke-width: 0.8; stroke-linejoin: miter; stroke-linecap: square"/>
   </g>
   <g id="patch_10">
    <path d="M 351.5 273.5 L 597.5 273.5" style="fill: none; stroke: #000000; stroke-width: 0.8; stroke-linejoin: miter; stroke-linecap: square"/>
   </g>
   <g id="patch_11">
    <path d="M 351.5 26.5 L 597.5 26.5" style="fill: none; stroke: #000000; stroke-width: 0.8; stroke-linejoin: miter; stroke-linecap: square"/>
   </g>
   <g id="text_25">
    <text style="font-size: 18px; font-family: 'DejaVu Sans', 'Liberation Sans', sans-serif; text-anchor: middle" x="474.00" y="20.50">Yellowhammer Dialect</text>
   </g>
  </g>
  <g id="axes_3">
   <g id="patch_12">
    <path d="M 646.5 273.5 L 893.5 273.5 L 893.5 26.5 L 646.5 26.5 z" style="fill: #ffffff"/>
   </g>
   <g id="PathCollection_17">
    <g clip-path="url(#p9d94ba7324)">
     <path class="c0" d="M 0 -3 L -3 3 L 3 3 z" transform="translate(658.5 154.5)"/>
     <path class="c0" d="M 0 -3 L -3 3 L 3 3 z" transform="translate(658.5 169.5)"/>
     <path class="c0" d="M 0 -3 L -3 3 L 3 3 z" transform="translate(658.5 174.5)"/>
     <path class="c0" d="M 0 -3 L -3 3 L 3 3 z" transform="translate(658.5 185.5)"/>
     <path class="c0" d="M 0 -3 L -3 3 L 3 3 z" transform="translate(658.5 165.5)"/>
     <path class="c0" d="M 0 -3 L -3 3 L 3 3 z" transform="translate(695.5 140.5)"/>
     <path class="c0" d="M 0 -3 L -3 3 L 3 3 z" transform="translate(695.5 142.5)"/>
     <path class="c0" d="M 0 -3 L -3 3 L 3 3 z" transform="translate(695.5 149.5)"/>
     <path class="c0" d="M 0 -3 L -3 3 L 3 3 z" transform="translate(695.5 156.5)"/>
     <path class="c0" d="M 0 -3 L -3 3 L 3 3 z" transform="translate(695.5 158.5)"/>
     <path class="c0" d="M 0 -3 L -3 3 L 3 3 z" transform="translate(732.5 126.5)"/>
     <path class="c0" d="M 0 -3 L -3 3 L 3 3 z" transform="translate(732.5 133.5)"/>
     <path class="c0" d="M 0 -3 L -3 3 L 3 3 z" transform="translate(732.5 143.5)"/>
     <path class="c0" d="M 0 -3 L -3 3 L 3 3 z" transform="translate(732.5 130.5)"/>
     <path class="c0" d="M 0 -3 L -3 3 L 3 3 z" transform="translate(769.5 116.5)"/>
     <path class="c0" d="M 0 -3 L -3 3 L 3 3 z" transform="translate(769.5 116.5)"/>
     <path class="c0" d="M 0 -3 L -3 3 L 3 3 z" transform="translate(769.5 119.5)"/>
     <path class="c0" d="M 0 -3 L -3 3 L 3 3 z" transform="translate(769.5 121.5)"/>
     <path class="c0" d="M 0 -3 L -3 3 L 3 3 z" transform="translate(769.5 122.5)"/>
     <path class="c0" d="M 0 -3 L -3 3 L 3 3 z" transform="translate(807.5 98.5)"/>
     <path class="c0" d="M 0 -3 L -3 3 L 3 3 z" transform="translate(807.5 98.5)"/>
     <path class="c0" d="M 0 -3 L -3 3 L 3 3 z" transform="translate(807.5 100.5)"/>
     <path class="c0" d="M 0 -3 L -3 3 L 3 3 z" transform="translate(807.5 102.5)"/>
     <path class="c0" d="M 0 -3 L -3 3 L 3 3 z" transform="translate(807.5 103.5)"/>
     <path class="c0" d="M 0 -3 L -3 3 L 3 3 z" transform="translate(844.5 86.5)"/>
     <path class="c0" d="M 0 -3 L -3 3 L 3 3 z" transform="translate(844.5 86.5)"/>
     <path class="c0" d="M 0 -3 L -3 3 L 3 3 z" transform="translate(844.5 88.5)"/>
     <path class="c0" d="M 0 -3 L -3 3 L 3 3 z" transform="translate(844.5 89.5)"/>
     <path class="c0" d="M 0 -3 L -3 3 L 3 3 z" transform="translate(844.5 90.5)"/>
     <path class="c0" d="M 0 -3 L -3 3 L 3 3 z" transform="translate(881.5 74.5)"/>
     <path class="c0" d="M 0 -3 L -3 3 L 3 3 z" transform="translate(881.5 74.5)"/>
     <path class="c0" d="M 0 -3 L -3 3 L 3 3 z" transform="translate(881.5 77.5)"/>
     <path class="c0" d="M 0 -3 L -3 3 L 3 3 z" transform="translate(881.5 79.5)"/>
     <path class="c0" d="M 0 -3 L -3 3 L 3 3 z" transform="translate(881.5 80.5)"/>
    </g>
   </g>
   <g id="PathCollection_18">
    <g clip-path="url(#p9d94ba7324)">
     <path class="c1" d="M -1 3 L 1 3 L 1 1 L 3 1 L 3 -1 L 1 -1 L 1 -3 L -1 -3 L -1 -1 L -3 -1 L -3 1 L -1 1 z" transform="translate(658.5 149.5)"/>
     <path class="c1" d="M -1 3 L 1 3 L 1 1 L 3 1 L 3 -1 L 1 -1 L 1 -3 L -1 -3 L -1 -1 L -3 -1 L -3 1 L -1 1 z" transform="translate(658.5 155.5)"/>
     <path class="c1" d="M -1 3 L 1 3 L 1 1 L 3 1 L 3 -1 L 1 -1 L 1 -3 L -1 -3 L -1 -1 L -3 -1 L -3 1 L -1 1 z" transform="translate(658.5 161.5)"/>
     <path class="c1" d="M -1 3 L 1 3 L 1 1 L 3 1 L 3 -1 L 1 -1 L 1 -3 L -1 -3 L -1 -1 L -3 -1 L -3 1 L -1 1 z" transform="translate(658.5 169.5)"/>
     <path class="c1" d="M -1 3 L 1 3 L 1 1 L 3 1 L 3 -1 L 1 -1 L 1 -3 L -1 -3 L -1 -1 L -3 -1 L -3 1 L -1 1 z" transform="translate(658.5 158.5)"/>
     <path class="c1" d="M -1 3 L 1 3 L 1 1 L 3 1 L 3 -1 L 1 -1 L 1 -3 L -1 -3 L -1 -1 L -3 -1 L -3 1 L -1 1 z" transform="translate(695.5 133.5)"/>
     <path class="c1" d="M -1 3 L 1 3 L 1 1 L 3 1 L 3 -1 L 1 -1 L 1 -3 L -1 -3 L -1 -1 L -3 -1 L -3 1 L -1 1 z" transform="translate(695.5 136.5)"/>
     <path class="c1" d="M -1 3 L 1 3 L 1 1 L 3 1 L 3 -1 L 1 -1 L 1 -3 L -1 -3 L -1 -1 L -3 -1 L -3 1 L -1 1 z" transform="translate(695.5 144.5)"/>
     <path class="c1" d="M -1 3 L 1 3 L 1 1 L 3 1 L 3 -1 L 1 -1 L 1 -3 L -1 -3 L -1 -1 L -3 -1 L -3 1 L -1 1 z" transform="translate(695.5 153.5)"/>
     <path class="c1" d="M -1 3 L 1 3 L 1 1 L 3 1 L 3 -1 L 1 -1 L 1 -3 L -1 -3 L -1 -1 L -3 -1 L -3 1 L -1 1 z" transform="translate(695.5 156.5)"/>
     <path class="c1" d="M -1 3 L 1 3 L 1 1 L 3 1 L 3 -1 L 1 -1 L 1 -3 L -1 -3 L -1 -1 L -3 -1 L -3 1 L -1 1 z" transform="translate(732.5 127.5)"/>
     <path class="c1" d="M -1 3 L 1 3 L 1 1 L 3 1 L 3 -1 L 1 -1 L 1 -3 L -1 -3 L -1 -1 L -3 -1 L -3 1 L -1 1 z" transform="translate(732.5 128.5)"/>
     <path class="c1" d="M -1 3 L 1 3 L 1 1 L 3 1 L 3 -1 L 1 -1 L 1 -3 L -1 -3 L -1 -1 L -3 -1 L -3 1 L -1 1 z" transform="translate(732.5 131.5)"/>
     <path class="c1" d="M -1 3 L 1 3 L 1 1 L 3 1 L 3 -1 L 1 -1 L 1 -3 L -1 -3 L -1 -1 L -3 -1 L -3 1 L -1 1 z" transform="translate(732.5 134.5)"/>
     <path class="c1" d="M -1 3 L 1 3 L 1 1 L 3 1 L 3 -1 L 1 -1 L 1 -3 L -1 -3 L -1 -1 L -3 -1 L -3 1 L -1 1 z" transform="translate(732.5 135.5)"/>
     <path class="c1" d="M -1 3 L 1 3 L 1 1 L 3 1 L 3 -1 L 1 -1 L 1 -3 L -1 -3 L -1 -1 L -3 -1 L -3 1 L -1 1 z" transform="translate(769.5 108.5)"/>
     <path class="c1" d="M -1 3 L 1 3 L 1 1 L 3 1 L 3 -1 L 1 -1 L 1 -3 L -1 -3 L -1 -1 L -3 -1 L -3 1 L -1 1 z" transform="translate(769.5 108.5)"/>
     <path class="c1" d="M -1 3 L 1 3 L 1 1 L 3 1 L 3 -1 L 1 -1 L 1 -3 L -1 -3 L -1 -1 L -3 -1 L -3 1 L -1 1 z" transform="translate(769.5 109.5)"/>
     <path class="c1" d="M -1 3 L 1 3 L 1 1 L 3 1 L 3 -1 L 1 -1 L 1 -3 L -1 -3 L -1 -1 L -3 -1 L -3 1 L -1 1 z" transform="translate(769.5 109.5)"/>
     <path class="c1" d="M -1 3 L 1 3 L 1 1 L 3 1 L 3 -1 L 1 -1 L 1 -3 L -1 -3 L -1 -1 L -3 -1 L -3 1 L -1 1 z" transform="translate(769.5 110.5)"/>
     <path class="c1" d="M -1 3 L 1 3 L 1 1 L 3 1 L 3 -1 L 1 -1 L 1 -3 L -1 -3 L -1 -1 L -3 -1 L -3 1 L -1 1 z" transform="translate(807.5 88.5)"/>
     <path class="c1" d="M -1 3 L 1 3 L 1 1 L 3 1 L 3 -1 L 1 -1 L 1 -3 L -1 -3 L -1 -1 L -3 -1 L -3 1 L -1 1 z" transform="translate(807.5 88.5)"/>
     <path class="c1" d="M -1 3 L 1 3 L 1 1 L 3 1 L 3 -1 L 1 -1 L 1 -3 L -1 -3 L -1 -1 L -3 -1 L -3 1 L -1 1 z" transform="translate(807.5 90.5)"/>
     <path class="c1" d="M -1 3 L 1 3 L 1 1 L 3 1 L 3 -1 L 1 -1 L 1 -3 L -1 -3 L -1 -1 L -3 -1 L -3 1 L -1 1 z" transform="translate(807.5 91.5)"/>
     <path class="c1" d="M -1 3 L 1 3 L 1 1 L 3 1 L 3 -1 L 1 -1 L 1 -3 L -1 -3 L -1 -1 L -3 -1 L -3 1 L -1 1 z" transform="translate(807.5 92.5)"/>
     <path class="c1" d="M -1 3 L 1 3 L 1 1 L 3 1 L 3 -1 L 1 -1 L 1 -3 L -1 -3 L -1 -1 L -3 -1 L -3 1 L -1 1 z" transform="translate(844.5 75.5)"/>
     <path class="c1" d="M -1 3 L 1 3 L 1 1 L 3 1 L 3 -1 L 1 -1 L 1 -3 L -1 -3 L -1 -1 L -3 -1 L -3 1 L -1 1 z" transform="translate(844.5 75.5)"/>
     <path class="c1" d="M -1 3 L 1 3 L 1 1 L 3 1 L 3 -1 L 1 -1 L 1 -3 L -1 -3 L -1 -1 L -3 -1 L -3 1 L -1 1 z" transform="translate(844.5 79.5)"/>
     <path class="c1" d="M -1 3 L 1 3 L 1 1 L 3 1 L 3 -1 L 1 -1 L 1 -3 L -1 -3 L -1 -1 L -3 -1 L -3 1 L -1 1 z" transform="translate(844.5 82.5)"/>
     <path class="c1" d="M -1 3 L 1 3 L 1 1 L 3 1 L 3 -1 L 1 -1 L 1 -3 L -1 -3 L -1 -1 L -3 -1 L -3 1 L -1 1 z" transform="translate(844.5 83.5)"/>
     <path class="c1" d="M -1 3 L 1 3 L 1 1 L 3 1 L 3 -1 L 1 -1 L 1 -3 L -1 -3 L -1 -1 L -3 -1 L -3 1 L -1 1 z" transform="translate(881.5 64.5)"/>
     <path class="c1" d="M -1 3 L 1 3 L 1 1 L 3 1 L 3 -1 L 1 -1 L 1 -3 L -1 -3 L -1 -1 L -3 -1 L -3 1 L -1 1 z" transform="translate(881.5 64.5)"/>
     <path class="c1" d="M -1 3 L 1 3 L 1 1 L 3 1 L 3 -1 L 1 -1 L 1 -3 L -1 -3 L -1 -1 L -3 -1 L -3 1 L -1 1 z" transform="translate(881.5 68.5)"/>
     <path class="c1" d="M -1 3 L 1 3 L 1 1 L 3 1 L 3 -1 L 1 -1 L 1 -3 L -1 -3 L -1 -1 L -3 -1 L -3 1 L -1 1 z" transform="translate(881.5 71.5)"/>
     <path class="c1" d="M -1 3 L 1 3 L 1 1 L 3 1 L 3 -1 L 1 -1 L 1 -3 L -1 -3 L -1 -1 L -3 -1 L -3 1 L -1 1 z" transform="translate(881.5 72.5)"/>
    </g>
   </g>
   <g id="PathCollection_19">
    <g clip-path="url(#p9d94ba7324)">
     <path class="c2" d="M 0 0 L 3 0 M 0 0 L -1.5 -2.4 M 0 0 L -1.5 2.4" transform="translate(658.5 203.5)"/>
     <path class="c2" d="M 0 0 L 3 0 M 0 0 L -1.5 -2.4 M 0 0 L -1.5 2.4" transform="translate(658.5 211.5)"/>
     <path class="c2" d="M 0 0 L 3 0 M 0 0 L -1.5 -2.4 M 0 0 L -1.5 2.4" transform="translate(658.5 215.5)"/>
     <path class="c2" d="M 0 0 L 3 0 M 0 0 L -1.5 -2.4 M 0 0 L -1.5 2.4" transform="translate(658.5 218.5)"/>
     <path class="c2" d="M 0 0 L 3 0 M 0 0 L -1.5 -2.4 M 0 0 L -1.5 2.4" transform="translate(695.5 181.5)"/>
     <path class="c2" d="M 0 0 L 3 0 M 0 0 L -1.5 -2.4 M 0 0 L -1.5 2.4" transform="translate(695.5 183.5)"/>
     <path class="c2" d="M 0 0 L 3 0 M 0 0 L -1.5 -2.4 M 0 0 L -1.5 2.4" transform="translate(695.5 187.5)"/>
     <path class="c2" d="M 0 0 L 3 0 M 0 0 L -1.5 -2.4 M 0 0 L -1.5 2.4" transform="translate(695.5 192.5)"/>
     <path class="c2" d="M 0 0 L 3 0 M 0 0 L -1.5 -2.4 M 0 0 L -1.5 2.4" transform="translate(695.5 194.5)"/>
     <path class="c2" d="M 0 0 L 3 0 M 0 0 L -1.5 -2.4 M 0 0 L -1.5 2.4" transform="translate(732.5 165.5)"/>
     <path class="c2" d="M 0 0 L 3 0 M 0 0 L -1.5 -2.4 M 0 0 L -1.5 2.4" transform="translate(732.5 166.5)"/>
     <path class="c2" d="M 0 0 L 3 0 M 0 0 L -1.5 -2.4 M 0 0 L -1.5 2.4" transform="translate(732.5 169.5)"/>
     <path class="c2" d="M 0 0 L 3 0 M 0 0 L -1.5 -2.4 M 0 0 L -1.5 2.4" transform="translate(732.5 173.5)"/>
     <path class="c2" d="M 0 0 L 3 0 M 0 0 L -1.5 -2.4 M 0 0 L -1.5 2.4" transform="translate(732.5 174.5)"/>
     <path class="c2" d="M 0 0 L 3 0 M 0 0 L -1.5 -2.4 M 0 0 L -1.5 2.4" transform="translate(769.5 147.5)"/>
     <path class="c2" d="M 0 0 L 3 0 M 0 0 L -1.5 -2.4 M 0 0 L -1.5 2.4" transform="translate(769.5 148.5)"/>
     <path class="c2" d="M 0 0 L 3 0 M 0 0 L -1.5 -2.4 M 0 0 L -1.5 2.4" transform="translate(769.5 151.5)"/>
     <path class="c2" d="M 0 0 L 3 0 M 0 0 L -1.5 -2.4 M 0 0 L -1.5 2.4" transform="translate(769.5 154.5)"/>
     <path class="c2" d="M 0 0 L 3 0 M 0 0 L -1.5 -2.4 M 0 0 L -1.5 2.4" transform="translate(769.5 156.5)"/>
     <path class="c2" d="M 0 0 L 3 0 M 0 0 L -1.5 -2.4 M 0 0 L -1.5 2.4" transform="translate(807.5 127.5)"/>
     <path class="c2" d="M 0 0 L 3 0 M 0 0 L -1.5 -2.4 M 0 0 L -1.5 2.4" transform="translate(807.5 128.5)"/>
     <path class="c2" d="M 0 0 L 3 0 M 0 0 L -1.5 -2.4 M 0 0 L -1.5 2.4" transform="translate(807.5 132.5)"/>
     <path class="c2" d="M 0 0 L 3 0 M 0 0 L -1.5 -2.4 M 0 0 L -1.5 2.4" transform="translate(807.5 135.5)"/>
     <path class="c2" d="M 0 0 L 3 0 M 0 0 L -1.5 -2.4 M 0 0 L -1.5 2.4" transform="translate(807.5 137.5)"/>
     <path class="c2" d="M 0 0 L 3 0 M 0 0 L -1.5 -2.4 M 0 0 L -1.5 2.4" transform="translate(844.5 113.5)"/>
     <path class="c2" d="M 0 0 L 3 0 M 0 0 L -1.5 -2.4 M 0 0 L -1.5 2.4" transform="translate(844.5 115.5)"/>
     <path class="c2" d="M 0 0 L 3 0 M 0 0 L -1.5 -2.4 M 0 0 L -1.5 2.4" transform="translate(844.5 118.5)"/>
     <path class="c2" d="M 0 0 L 3 0 M 0 0 L -1.5 -2.4 M 0 0 L -1.5 2.4" transform="translate(844.5 122.5)"/>
     <path class="c2" d="M 0 0 L 3 0 M 0 0 L -1.5 -2.4 M 0 0 L -1.5 2.4" transform="translate(844.5 124.5)"/>
     <path class="c2" d="M 0 0 L 3 0 M 0 0 L -1.5 -2.4 M 0 0 L -1.5 2.4" transform="translate(881.5 100.5)"/>
     <path class="c2" d="M 0 0 L 3 0 M 0 0 L -1.5 -2.4 M 0 0 L -1.5 2.4" transform="translate(881.5 101.5)"/>
     <path class="c2" d="M 0 0 L 3 0 M 0 0 L -1.5 -2.4 M 0 0 L -1.5 2.4" transform="translate(881.5 104.5)"/>
     <path class="c2" d="M 0 0 L 3 0 M 0 0 L -1.5 -2.4 M 0 0 L -1.5 2.4" transform="translate(881.5 107.5)"/>
     <path class="c2" d="M 0 0 L 3 0 M 0 0 L -1.5 -2.4 M 0 0 L -1.5 2.4" transform="translate(881.5 108.5)"/>
    </g>
   </g>
   <g id="PathCollection_20">
    <g clip-path="url(#p9d94ba7324)">
     <circle class="c3" cx="658.5" cy="218.5" r="3"/>
     <circle class="c3" cx="658.5" cy="219.5" r="3"/>
     <circle class="c3" cx="658.5" cy="223.5" r="3"/>
     <circle class="c3" cx="658.5" cy="226.5" r="3"/>
     <circle class="c3" cx="658.5" cy="228.5" r="3"/>
     <circle class="c3" cx="695.5" cy="210.5" r="3"/>
     <circle class="c3" cx="695.5" cy="211.5" r="3"/>
     <circle class="c3" cx="695.5" cy="215.5" r="3"/>
     <circle class="c3" cx="695.5" cy="218.5" r="3"/>
     <circle class="c3" cx="695.5" cy="220.5" r="3"/>
     <circle class="c3" cx="732.5" cy="197.5" r="3"/>
     <circle class="c3" cx="732.5" cy="198.5" r="3"/>
     <circle class="c3" cx="732.5" cy="203.5" r="3"/>
     <circle class="c3" cx="732.5" cy="207.5" r="3"/>
     <circle class="c3" cx="732.5" cy="209.5" r="3"/>
     <circle class="c3" cx="769.5" cy="185.5" r="3"/>
     <circle class="c3" cx="769.5" cy="185.5" r="3"/>
     <circle class="c3" cx="769.5" cy="187.5" r="3"/>
     <circle class="c3" cx="769.5" cy="189.5" r="3"/>
     <circle class="c3" cx="769.5" cy="189.5" r="3"/>
     <circle class="c3" cx="807.5" cy="173.5" r="3"/>
     <circle class="c3" cx="807.5" cy="174.5" r="3"/>
     <circle class="c3" cx="807.5" cy="175.5" r="3"/>
     <circle class="c3" cx="807.5" cy="177.5" r="3"/>
     <circle class="c3" cx="807.5" cy="178.5" r="3"/>
     <circle class="c3" cx="844.5" cy="162.5" r="3"/>
     <circle class="c3" cx="844.5" cy="162.5" r="3"/>
     <circle class="c3" cx="844.5" cy="164.5" r="3"/>
     <circle class="c3" cx="844.5" cy="165.5" r="3"/>
     <circle class="c3" cx="844.5" cy="166.5" r="3"/>
     <circle class="c3" cx="881.5" cy="151.5" r="3"/>
     <circle class="c3" cx="881.5" cy="152.5" r="3"/>
     <circle class="c3" cx="881.5" cy="155.5" r="3"/>
     <circle class="c3" cx="881.5" cy="157.5" r="3"/>
     <circle class="c3" cx="881.5" cy="158.5" r="3"/>
    </g>
   </g>
   <g id="PathCollection_21">
    <g clip-path="url(#p9d94ba7324)">
     <path class="c4" d="M -0 4.24 L 2.54 0 L 0 -4.24 L -2.54 -0 z" transform="translate(658.5 218.5)"/>
     <path class="c4" d="M -0 4.24 L 2.54 0 L 0 -4.24 L -2.54 -0 z" transform="translate(658.5 221.5)"/>
     <path class="c4" d="M -0 4.24 L 2.54 0 L 0 -4.24 L -2.54 -0 z" transform="translate(658.5 228.5)"/>
     <path class="c4" d="M -0 4.24 L 2.54 0 L 0 -4.24 L -2.54 -0 z" transform="translate(658.5 236.5)"/>
     <path class="c4" d="M -0 4.24 L 2.54 0 L 0 -4.24 L -2.54 -0 z" transform="translate(658.5 239.5)"/>
     <path class="c4" d="M -0 4.24 L 2.54 0 L 0 -4.24 L -2.54 -0 z" transform="translate(695.5 208.5)"/>
     <path class="c4" d="M -0 4.24 L 2.54 0 L 0 -4.24 L -2.54 -0 z" transform="translate(695.5 210.5)"/>
     <path class="c4" d="M -0 4.24 L 2.54 0 L 0 -4.24 L -2.54 -0 z" transform="translate(695.5 217.5)"/>
     <path class="c4" d="M -0 4.24 L 2.54 0 L 0 -4.24 L -2.54 -0 z" transform="translate(695.5 224.5)"/>
     <path class="c4" d="M -0 4.24 L 2.54 0 L 0 -4.24 L -2.54 -0 z" transform="translate(695.5 227.5)"/>
     <path class="c4" d="M -0 4.24 L 2.54 0 L 0 -4.24 L -2.54 -0 z" transform="translate(732.5 199.5)"/>
     <path class="c4" d="M -0 4.24 L 2.54 0 L 0 -4.24 L -2.54 -0 z" transform="translate(732.5 200.5)"/>
     <path class="c4" d="M -0 4.24 L 2.54 0 L 0 -4.24 L -2.54 -0 z" transform="translate(732.5 206.5)"/>
     <path class="c4" d="M -0 4.24 L 2.54 0 L 0 -4.24 L -2.54 -0 z" transform="translate(732.5 211.5)"/>
     <path class="c4" d="M -0 4.24 L 2.54 0 L 0 -4.24 L -2.54 -0 z" transform="translate(732.5 213.5)"/>
     <path class="c4" d="M -0 4.24 L 2.54 0 L 0 -4.24 L -2.54 -0 z" transform="translate(769.5 191.5)"/>
     <path class="c4" d="M -0 4.24 L 2.54 0 L 0 -4.24 L -2.54 -0 z" transform="translate(769.5 192.5)"/>
     <path class="c4" d="M -0 4.24 L 2.54 0 L 0 -4.24 L -2.54 -0 z" transform="translate(769.5 196.5)"/>
     <path class="c4" d="M -0 4.24 L 2.54 0 L 0 -4.24 L -2.54 -0 z" transform="translate(769.5 199.5)"/>
     <path class="c4" d="M -0 4.24 L 2.54 0 L 0 -4.24 L -2.54 -0 z" transform="translate(769.5 201.5)"/>
     <path class="c4" d="M -0 4.24 L 2.54 0 L 0 -4.24 L -2.54 -0 z" transform="translate(807.5 180.5)"/>
     <path class="c4" d="M -0 4.24 L 2.54 0 L 0 -4.24 L -2.54 -0 z" transform="translate(807.5 181.5)"/>
     <path class="c4" d="M -0 4.24 L 2.54 0 L 0 -4.24 L -2.54 -0 z" transform="translate(807.5 186.5)"/>
     <path class="c4" d="M -0 4.24 L 2.54 0 L 0 -4.24 L -2.54 -0 z" transform="translate(807.5 191.5)"/>
     <path class="c4" d="M -0 4.24 L 2.54 0 L 0 -4.24 L -2.54 -0 z" transform="translate(807.5 193.5)"/>
     <path class="c4" d="M -0 4.24 L 2.54 0 L 0 -4.24 L -2.54 -0 z" transform="translate(844.5 173.5)"/>
     <path class="c4" d="M -0 4.24 L 2.54 0 L 0 -4.24 L -2.54 -0 z" transform="translate(844.5 174.5)"/>
     <path class="c4" d="M -0 4.24 L 2.54 0 L 0 -4.24 L -2.54 -0 z" transform="translate(844.5 178.5)"/>
     <path class="c4" d="M -0 4.24 L 2.54 0 L 0 -4.24 L -2.54 -0 z" transform="translate(844.5 182.5)"/>
     <path class="c4" d="M -0 4.24 L 2.54 0 L 0 -4.24 L -2.54 -0 z" transform="translate(844.5 184.5)"/>
     <path class="c4" d="M -0 4.24 L 2.54 0 L 0 -4.24 L -2.54 -0 z" transform="translate(881.5 166.5)"/>
     <path class="c4" d="M -0 4.24 L 2.54 0 L 0 -4.24 L -2.54 -0 z" transform="translate(881.5 167.5)"/>
     <path class="c4" d="M -0 4.24 L 2.54 0 L 0 -4.24 L -2.54 -0 z" transform="translate(881.5 170.5)"/>
     <path class="c4" d="M -0 4.24 L 2.54 0 L 0 -4.24 L -2.54 -0 z" transform="translate(881.5 173.5)"/>
     <path class="c4" d="M -0 4.24 L 2.54 0 L 0 -4.24 L -2.54 -0 z" transform="translate(881.5 175.5)"/>
    </g>
   </g>
   <g id="PathCollection_22">
    <g clip-path="url(#p9d94ba7324)">
     <path class="c5" d="M -0 4.24 L 4.24 0 L 0 -4.24 L -4.24 -0 z" transform="translate(658.5 213.5)"/>
     <path class="c5" d="M -0 4.24 L 4.24 0 L 0 -4.24 L -4.24 -0 z" transform="translate(658.5 217.5)"/>
     <path class="c5" d="M -0 4.24 L 4.24 0 L 0 -4.24 L -4.24 -0 z" transform="translate(658.5 228.5)"/>
     <path class="c5" d="M -0 4.24 L 4.24 0 L 0 -4.24 L -4.24 -0 z" transform="translate(658.5 240.5)"/>
     <path class="c5" d="M -0 4.24 L 4.24 0 L 0 -4.24 L -4.24 -0 z" transform="translate(658.5 244.5)"/>
     <path class="c5" d="M -0 4.24 L 4.24 0 L 0 -4.24 L -4.24 -0 z" transform="translate(695.5 213.5)"/>
     <path class="c5" d="M -0 4.24 L 4.24 0 L 0 -4.24 L -4.24 -0 z" transform="translate(695.5 215.5)"/>
     <path class="c5" d="M -0 4.24 L 4.24 0 L 0 -4.24 L -4.24 -0 z" transform="translate(695.5 223.5)"/>
     <path class="c5" d="M -0 4.24 L 4.24 0 L 0 -4.24 L -4.24 -0 z" transform="translate(695.5 230.5)"/>
     <path class="c5" d="M -0 4.24 L 4.24 0 L 0 -4.24 L -4.24 -0 z" transform="translate(695.5 232.5)"/>
     <path class="c5" d="M -0 4.24 L 4.24 0 L 0 -4.24 L -4.24 -0 z" transform="translate(732.5 206.5)"/>
     <path class="c5" d="M -0 4.24 L 4.24 0 L 0 -4.24 L -4.24 -0 z" transform="translate(732.5 207.5)"/>
     <path class="c5" d="M -0 4.24 L 4.24 0 L 0 -4.24 L -4.24 -0 z" transform="translate(732.5 214.5)"/>
     <path class="c5" d="M -0 4.24 L 4.24 0 L 0 -4.24 L -4.24 -0 z" transform="translate(732.5 220.5)"/>
     <path class="c5" d="M -0 4.24 L 4.24 0 L 0 -4.24 L -4.24 -0 z" transform="translate(732.5 222.5)"/>
     <path class="c5" d="M -0 4.24 L 4.24 0 L 0 -4.24 L -4.24 -0 z" transform="translate(769.5 203.5)"/>
     <path class="c5" d="M -0 4.24 L 4.24 0 L 0 -4.24 L -4.24 -0 z" transform="translate(769.5 203.5)"/>
     <path class="c5" d="M -0 4.24 L 4.24 0 L 0 -4.24 L -4.24 -0 z" transform="translate(769.5 206.5)"/>
     <path class="c5" d="M -0 4.24 L 4.24 0 L 0 -4.24 L -4.24 -0 z" transform="translate(769.5 208.5)"/>
     <path class="c5" d="M -0 4.24 L 4.24 0 L 0 -4.24 L -4.24 -0 z" transform="translate(769.5 209.5)"/>
     <path class="c5" d="M -0 4.24 L 4.24 0 L 0 -4.24 L -4.24 -0 z" transform="translate(807.5 195.5)"/>
     <path class="c5" d="M -0 4.24 L 4.24 0 L 0 -4.24 L -4.24 -0 z" transform="translate(807.5 195.5)"/>
     <path class="c5" d="M -0 4.24 L 4.24 0 L 0 -4.24 L -4.24 -0 z" transform="translate(807.5 198.5)"/>
     <path class="c5" d="M -0 4.24 L 4.24 0 L 0 -4.24 L -4.24 -0 z" transform="translate(807.5 201.5)"/>
     <path class="c5" d="M -0 4.24 L 4.24 0 L 0 -4.24 L -4.24 -0 z" transform="translate(807.5 202.5)"/>
     <path class="c5" d="M -0 4.24 L 4.24 0 L 0 -4.24 L -4.24 -0 z" transform="translate(844.5 188.5)"/>
     <path class="c5" d="M -0 4.24 L 4.24 0 L 0 -4.24 L -4.24 -0 z" transform="translate(844.5 188.5)"/>
     <path class="c5" d="M -0 4.24 L 4.24 0 L 0 -4.24 L -4.24 -0 z" transform="translate(844.5 191.5)"/>
     <path class="c5" d="M -0 4.24 L 4.24 0 L 0 -4.24 L -4.24 -0 z" transform="translate(844.5 193.5)"/>
     <path class="c5" d="M -0 4.24 L 4.24 0 L 0 -4.24 L -4.24 -0 z" transform="translate(844.5 194.5)"/>
     <path class="c5" d="M -0 4.24 L 4.24 0 L 0 -4.24 L -4.24 -0 z" transform="translate(881.5 184.5)"/>
     <path class="c5" d="M -0 4.24 L 4.24 0 L 0 -4.24 L -4.24 -0 z" transform="translate(881.5 184.5)"/>
     <path class="c5" d="M -0 4.24 L 4.24 0 L 0 -4.24 L -4.24 -0 z" transform="translate(881.5 185.5)"/>
    </g>
   </g>
   <g id="PathCollection_23">
    <g clip-path="url(#p9d94ba7324)">
     <path class="c6" d="M 0 0 L 0 -3 M 0 0 L -2.4 1.5 M 0 0 L 2.4 1.5" transform="translate(658.5 258.5)"/>
     <path class="c6" d="M 0 0 L 0 -3 M 0 0 L -2.4 1.5 M 0 0 L 2.4 1.5" transform="translate(658.5 266.5)"/>
     <path class="c6" d="M 0 0 L 0 -3 M 0 0 L -2.4 1.5 M 0 0 L 2.4 1.5" transform="translate(658.5 270.5)"/>
     <path class="c6" d="M 0 0 L 0 -3 M 0 0 L -2.4 1.5 M 0 0 L 2.4 1.5" transform="translate(695.5 255.5)"/>
     <path class="c6" d="M 0 0 L 0 -3 M 0 0 L -2.4 1.5 M 0 0 L 2.4 1.5" transform="translate(695.5 264.5)"/>
     <path class="c6" d="M 0 0 L 0 -3 M 0 0 L -2.4 1.5 M 0 0 L 2.4 1.5" transform="translate(695.5 266.5)"/>
     <path class="c6" d="M 0 0 L 0 -3 M 0 0 L -2.4 1.5 M 0 0 L 2.4 1.5" transform="translate(732.5 258.5)"/>
     <path class="c6" d="M 0 0 L 0 -3 M 0 0 L -2.4 1.5 M 0 0 L 2.4 1.5" transform="translate(732.5 264.5)"/>
     <path class="c6" d="M 0 0 L 0 -3 M 0 0 L -2.4 1.5 M 0 0 L 2.4 1.5" transform="translate(732.5 266.5)"/>
     <path class="c6" d="M 0 0 L 0 -3 M 0 0 L -2.4 1.5 M 0 0 L 2.4 1.5" transform="translate(769.5 257.5)"/>
     <path class="c6" d="M 0 0 L 0 -3 M 0 0 L -2.4 1.5 M 0 0 L 2.4 1.5" transform="translate(769.5 257.5)"/>
     <path class="c6" d="M 0 0 L 0 -3 M 0 0 L -2.4 1.5 M 0 0 L 2.4 1.5" transform="translate(769.5 260.5)"/>
     <path class="c6" d="M 0 0 L 0 -3 M 0 0 L -2.4 1.5 M 0 0 L 2.4 1.5" transform="translate(769.5 262.5)"/>
     <path class="c6" d="M 0 0 L 0 -3 M 0 0 L -2.4 1.5 M 0 0 L 2.4 1.5" transform="translate(769.5 263.5)"/>
     <path class="c6" d="M 0 0 L 0 -3 M 0 0 L -2.4 1.5 M 0 0 L 2.4 1.5" transform="translate(807.5 244.5)"/>
     <path class="c6" d="M 0 0 L 0 -3 M 0 0 L -2.4 1.5 M 0 0 L 2.4 1.5" transform="translate(807.5 245.5)"/>
     <path class="c6" d="M 0 0 L 0 -3 M 0 0 L -2.4 1.5 M 0 0 L 2.4 1.5" transform="translate(807.5 248.5)"/>
     <path class="c6" d="M 0 0 L 0 -3 M 0 0 L -2.4 1.5 M 0 0 L 2.4 1.5" transform="translate(807.5 251.5)"/>
     <path class="c6" d="M 0 0 L 0 -3 M 0 0 L -2.4 1.5 M 0 0 L 2.4 1.5" transform="translate(807.5 252.5)"/>
     <path class="c6" d="M 0 0 L 0 -3 M 0 0 L -2.4 1.5 M 0 0 L 2.4 1.5" transform="translate(844.5 236.5)"/>
     <path class="c6" d="M 0 0 L 0 -3 M 0 0 L -2.4 1.5 M 0 0 L 2.4 1.5" transform="translate(844.5 237.5)"/>
     <path class="c6" d="M 0 0 L 0 -3 M 0 0 L -2.4 1.5 M 0 0 L 2.4 1.5" transform="translate(844.5 239.5)"/>
     <path class="c6" d="M 0 0 L 0 -3 M 0 0 L -2.4 1.5 M 0 0 L 2.4 1.5" transform="translate(844.5 241.5)"/>
     <path class="c6" d="M 0 0 L 0 -3 M 0 0 L -2.4 1.5 M 0 0 L 2.4 1.5" transform="translate(844.5 242.5)"/>
     <path class="c6" d="M 0 0 L 0 -3 M 0 0 L -2.4 1.5 M 0 0 L 2.4 1.5" transform="translate(881.5 226.5)"/>
     <path class="c6" d="M 0 0 L 0 -3 M 0 0 L -2.4 1.5 M 0 0 L 2.4 1.5" transform="translate(881.5 228.5)"/>
     <path class="c6" d="M 0 0 L 0 -3 M 0 0 L -2.4 1.5 M 0 0 L 2.4 1.5" transform="translate(881.5 232.5)"/>
     <path class="c6" d="M 0 0 L 0 -3 M 0 0 L -2.4 1.5 M 0 0 L 2.4 1.5" transform="translate(881.5 236.5)"/>
     <path class="c6" d="M 0 0 L 0 -3 M 0 0 L -2.4 1.5 M 0 0 L 2.4 1.5" transform="translate(881.5 238.5)"/>
    </g>
   </g>
   <g id="PathCollection_24">
    <g clip-path="url(#p9d94ba7324)">
     <path class="c7" d="M 0 0 L -3 -0 M 0 0 L 1.5 2.4 M 0 0 L 1.5 -2.4" transform="translate(658.5 267.5)"/>
     <path class="c7" d="M 0 0 L -3 -0 M 0 0 L 1.5 2.4 M 0 0 L 1.5 -2.4" transform="translate(658.5 267.5)"/>
     <path class="c7" d="M 0 0 L -3 -0 M 0 0 L 1.5 2.4 M 0 0 L 1.5 -2.4" transform="translate(658.5 268.5)"/>
     <path class="c7" d="M 0 0 L -3 -0 M 0 0 L 1.5 2.4 M 0 0 L 1.5 -2.4" transform="translate(658.5 269.5)"/>
     <path class="c7" d="M 0 0 L -3 -0 M 0 0 L 1.5 2.4 M 0 0 L 1.5 -2.4" transform="translate(658.5 270.5)"/>
     <path class="c7" d="M 0 0 L -3 -0 M 0 0 L 1.5 2.4 M 0 0 L 1.5 -2.4" transform="translate(695.5 267.5)"/>
     <path class="c7" d="M 0 0 L -3 -0 M 0 0 L 1.5 2.4 M 0 0 L 1.5 -2.4" transform="translate(695.5 267.5)"/>
     <path class="c7" d="M 0 0 L -3 -0 M 0 0 L 1.5 2.4 M 0 0 L 1.5 -2.4" transform="translate(695.5 268.5)"/>
     <path class="c7" d="M 0 0 L -3 -0 M 0 0 L 1.5 2.4 M 0 0 L 1.5 -2.4" transform="translate(695.5 269.5)"/>
     <path class="c7" d="M 0 0 L -3 -0 M 0 0 L 1.5 2.4 M 0 0 L 1.5 -2.4" transform="translate(695.5 270.5)"/>
     <path class="c7" d="M 0 0 L -3 -0 M 0 0 L 1.5 2.4 M 0 0 L 1.5 -2.4" transform="translate(732.5 266.5)"/>
     <path class="c7" d="M 0 0 L -3 -0 M 0 0 L 1.5 2.4 M 0 0 L 1.5 -2.4" transform="translate(732.5 266.5)"/>
     <path class="c7" d="M 0 0 L -3 -0 M 0 0 L 1.5 2.4 M 0 0 L 1.5 -2.4" transform="translate(732.5 266.5)"/>
     <path class="c7" d="M 0 0 L -3 -0 M 0 0 L 1.5 2.4 M 0 0 L 1.5 -2.4" transform="translate(732.5 267.5)"/>
     <path class="c7" d="M 0 0 L -3 -0 M 0 0 L 1.5 2.4 M 0 0 L 1.5 -2.4" transform="translate(732.5 267.5)"/>
     <path class="c7" d="M 0 0 L -3 -0 M 0 0 L 1.5 2.4 M 0 0 L 1.5 -2.4" transform="translate(769.5 266.5)"/>
     <path class="c7" d="M 0 0 L -3 -0 M 0 0 L 1.5 2.4 M 0 0 L 1.5 -2.4" transform="translate(769.5 266.5)"/>
     <path class="c7" d="M 0 0 L -3 -0 M 0 0 L 1.5 2.4 M 0 0 L 1.5 -2.4" transform="translate(769.5 266.5)"/>
     <path class="c7" d="M 0 0 L -3 -0 M 0 0 L 1.5 2.4 M 0 0 L 1.5 -2.4" transform="translate(769.5 267.5)"/>
     <path class="c7" d="M 0 0 L -3 -0 M 0 0 L 1.5 2.4 M 0 0 L 1.5 -2.4" transform="translate(769.5 267.5)"/>
     <path class="c7" d="M 0 0 L -3 -0 M 0 0 L 1.5 2.4 M 0 0 L 1.5 -2.4" transform="translate(807.5 266.5)"/>
     <path class="c7" d="M 0 0 L -3 -0 M 0 0 L 1.5 2.4 M 0 0 L 1.5 -2.4" transform="translate(807.5 266.5)"/>
     <path class="c7" d="M 0 0 L -3 -0 M 0 0 L 1.5 2.4 M 0 0 L 1.5 -2.4" transform="translate(807.5 267.5)"/>
     <path class="c7" d="M 0 0 L -3 -0 M 0 0 L 1.5 2.4 M 0 0 L 1.5 -2.4" transform="translate(807.5 267.5)"/>
     <path class="c7" d="M 0 0 L -3 -0 M 0 0 L 1.5 2.4 M 0 0 L 1.5 -2.4" transform="translate(807.5 267.5)"/>
     <path class="c7" d="M 0 0 L -3 -0 M 0 0 L 1.5 2.4 M 0 0 L 1.5 -2.4" transform="translate(844.5 264.5)"/>
     <path class="c7" d="M 0 0 L -3 -0 M 0 0 L 1.5 2.4 M 0 0 L 1.5 -2.4" transform="translate(844.5 264.5)"/>
     <path class="c7" d="M 0 0 L -3 -0 M 0 0 L 1.5 2.4 M 0 0 L 1.5 -2.4" transform="translate(844.5 264.5)"/>
     <path class="c7" d="M 0 0 L -3 -0 M 0 0 L 1.5 2.4 M 0 0 L 1.5 -2.4" transform="translate(844.5 264.5)"/>
     <path class="c7" d="M 0 0 L -3 -0 M 0 0 L 1.5 2.4 M 0 0 L 1.5 -2.4" transform="translate(844.5 265.5)"/>
     <path class="c7" d="M 0 0 L -3 -0 M 0 0 L 1.5 2.4 M 0 0 L 1.5 -2.4" transform="translate(881.5 259.5)"/>
     <path class="c7" d="M 0 0 L -3 -0 M 0 0 L 1.5 2.4 M 0 0 L 1.5 -2.4" transform="translate(881.5 260.5)"/>
     <path class="c7" d="M 0 0 L -3 -0 M 0 0 L 1.5 2.4 M 0 0 L 1.5 -2.4" transform="translate(881.5 260.5)"/>
     <path class="c7" d="M 0 0 L -3 -0 M 0 0 L 1.5 2.4 M 0 0 L 1.5 -2.4" transform="translate(881.5 260.5)"/>
     <path class="c7" d="M 0 0 L -3 -0 M 0 0 L 1.5 2.4 M 0 0 L 1.5 -2.4" transform="translate(881.5 260.5)"/>
    </g>
   </g>
   <g id="matplotlib.axis_5">
    <g id="xtick_43">
     <g id="line2d_67">
      <g>
       <path class="c8" d="M 0 0 L 0 3.5" transform="translate(658.5 273.5)"/>
      </g>
     </g>
     <g id="text_26">
      <text style="font-size: 10px; font-family: 'DejaVu Sans', 'Liberation Sans', sans-serif; text-anchor: middle" x="657.70" y="289.10">4</text>
     </g>
    </g>
    <g id="xtick_44">
     <g id="line2d_68">
      <g>
       <path class="c8" d="M 0 0 L 0 3.5" transform="translate(695.5 273.5)"/>
      </g>
     </g>
     <g id="text_27">
      <text style="font-size: 10px; font-family: 'DejaVu Sans', 'Liberation Sans', sans-serif; text-anchor: middle" x="694.90" y="289.10">8</text>
     </g>
    </g>
    <g id="xtick_45">
     <g id="line2d_69">
      <g>
       <path class="c8" d="M 0 0 L 0 3.5" transform="translate(732.5 273.5)"/>
      </g>
     </g>
     <g id="text_28">
      <text style="font-size: 10px; font-family: 'DejaVu Sans', 'Liberation Sans', sans-serif; text-anchor: middle" x="732.10" y="289.10">16</text>
     </g>
    </g>
    <g id="xtick_46">
     <g id="line2d_70">
      <g>
       <path class="c8" d="M 0 0 L 0 3.5" transform="translate(769.5 273.5)"/>
      </g>
     </g>
     <g id="text_29">
      <text style="font-size: 10px; font-family: 'DejaVu Sans', 'Liberation Sans', sans-serif; text-anchor: middle" x="769.30" y="289.10">32</text>
     </g>
    </g>
    <g id="xtick_47">
     <g id="line2d_71">
      <g>
       <path class="c8" d="M 0 0 L 0 3.5" transform="translate(807.5 273.5)"/>
      </g>
     </g>
     <g id="text_30">
      <text style="font-size: 10px; font-family: 'DejaVu Sans', 'Liberation Sans', sans-serif; text-anchor: middle" x="806.50" y="289.10">64</text>
     </g>
    </g>
    <g id="xtick_48">
     <g id="line2d_72">
      <g>
       <path class="c8" d="M 0 0 L 0 3.5" transform="translate(844.5 273.5)"/>
      </g>
     </g>
     <g id="text_31">
      <text style="font-size: 10px; font-family: 'DejaVu Sans', 'Liberation Sans', sans-serif; text-anchor: middle" x="843.70" y="289.10">128</text>
     </g>
    </g>
    <g id="xtick_49">
     <g id="line2d_73">
      <g>
       <path class="c8" d="M 0 0 L 0 3.5" transform="translate(881.5 273.5)"/>
      </g>
     </g>
     <g id="text_32">
      <text style="font-size: 10px; font-family: 'DejaVu Sans', 'Liberation Sans', sans-serif; text-anchor: middle" x="880.90" y="289.10">256</text>
     </g>
    </g>
    <g id="xtick_50">
     <g id="line2d_74">
      <g>
       <path class="c9" d="M 0 0 L 0 2" transform="translate(670.5 273.5)"/>
      </g>
     </g>
    </g>
    <g id="xtick_51">
     <g id="line2d_75">
      <g>
       <path class="c9" d="M 0 0 L 0 2" transform="translate(679.5 273.5)"/>
      </g>
     </g>
    </g>
    <g id="xtick_52">
     <g id="line2d_76">
      <g>
       <path class="c9" d="M 0 0 L 0 2" transform="translate(688.5 273.5)"/>
      </g>
     </g>
    </g>
    <g id="xtick_53">
     <g id="line2d_77">
      <g>
       <path class="c9" d="M 0 0 L 0 2" transform="translate(701.5 273.5)"/>
      </g>
     </g>
    </g>
    <g id="xtick_54">
     <g id="line2d_78">
      <g>
       <path class="c9" d="M 0 0 L 0 2" transform="translate(744.5 273.5)"/>
      </g>
     </g>
    </g>
    <g id="xtick_55">
     <g id="line2d_79">
      <g>
       <path class="c9" d="M 0 0 L 0 2" transform="translate(766.5 273.5)"/>
      </g>
     </g>
    </g>
    <g id="xtick_56">
     <g id="line2d_80">
      <g>
       <path class="c9" d="M 0 0 L 0 2" transform="translate(781.5 273.5)"/>
      </g>
     </g>
    </g>
    <g id="xtick_57">
     <g id="line2d_81">
      <g>
       <path class="c9" d="M 0 0 L 0 2" transform="translate(793.5 273.5)"/>
      </g>
     </g>
    </g>
    <g id="xtick_58">
     <g id="line2d_82">
      <g>
       <path class="c9" d="M 0 0 L 0 2" transform="translate(803.5 273.5)"/>
      </g>
     </g>
    </g>
    <g id="xtick_59">
     <g id="line2d_83">
      <g>
       <path class="c9" d="M 0 0 L 0 2" transform="translate(811.5 273.5)"/>
      </g>
     </g>
    </g>
    <g id="xtick_60">
     <g id="line2d_84">
      <g>
       <path class="c9" d="M 0 0 L 0 2" transform="translate(818.5 273.5)"/>
      </g>
     </g>
    </g>
    <g id="xtick_61">
     <g id="line2d_85">
      <g>
       <path class="c9" d="M 0 0 L 0 2" transform="translate(825.5 273.5)"/>
      </g>
     </g>
    </g>
    <g id="xtick_62">
     <g id="line2d_86">
      <g>
       <path class="c9" d="M 0 0 L 0 2" transform="translate(868.5 273.5)"/>
      </g>
     </g>
    </g>
    <g id="xtick_63">
     <g id="line2d_87">
      <g>
       <path class="c9" d="M 0 0 L 0 2" transform="translate(889.5 273.5)"/>
      </g>
     </g>
    </g>
   </g>
   <g id="matplotlib.axis_6">
    <g id="ytick_9">
     <g id="line2d_88">
      <g>
       <path class="c8" d="M 0 0 L -3.5 0" transform="translate(646.5 273.5)"/>
      </g>
     </g>
     <g id="text_33">
      <text style="font-size: 10px; font-family: 'DejaVu Sans', 'Liberation Sans', sans-serif; text-anchor: end" x="639.10" y="278.10">0.5</text>
     </g>
    </g>
    <g id="ytick_10">
     <g id="line2d_89">
      <g>
       <path class="c8" d="M 0 0 L -3.5 0" transform="translate(646.5 220.5)"/>
      </g>
     </g>
     <g id="text_34">
      <text style="font-size: 10px; font-family: 'DejaVu Sans', 'Liberation Sans', sans-serif; text-anchor: end" x="639.10" y="225.08">0.75</text>
     </g>
    </g>
    <g id="ytick_11">
     <g id="line2d_90">
      <g>
       <path class="c8" d="M 0 0 L -3.5 0" transform="translate(646.5 167.5)"/>
      </g>
     </g>
     <g id="text_35">
      <text style="font-size: 10px; font-family: 'DejaVu Sans', 'Liberation Sans', sans-serif; text-anchor: end" x="639.10" y="172.06">0.9</text>
     </g>
    </g>
    <g id="ytick_12">
     <g id="line2d_91">
      <g>
       <path class="c8" d="M 0 0 L -3.5 0" transform="translate(646.5 51.5)"/>
      </g>
     </g>
     <g id="text_36">
      <text style="font-size: 10px; font-family: 'DejaVu Sans', 'Liberation Sans', sans-serif; text-anchor: end" x="639.10" y="56.34">0.99</text>
     </g>
    </g>
   </g>
   <g id="line2d_92">
    <path d="M 658.2 169.2 L 695.4 147.1 L 732.6 132.8 L 769.8 116.9 L 807 98.9 L 844.2 87.2 L 881.4 75.8" clip-path="url(#p9d94ba7324)" style="fill: none; stroke: #daa520; stroke-width: 2; stroke-linecap: square"/>
   </g>
   <g id="line2d_93">
    <path d="M 658.2 159 L 695.4 145.5 L 732.6 132.4 L 769.8 109.1 L 807 91.6 L 844.2 77.7 L 881.4 68.3" clip-path="url(#p9d94ba7324)" style="fill: none; stroke: #1e90ff; stroke-width: 2; stroke-linecap: square"/>
   </g>
   <g id="line2d_94">
    <path d="M 658.2 215.2 L 695.4 192.8 L 732.6 169.2 L 769.8 151 L 807 133.2 L 844.2 118.5 L 881.4 104.6" clip-path="url(#p9d94ba7324)" style="fill: none; stroke: #0000ff; stroke-width: 2; stroke-linecap: square"/>
   </g>
   <g id="line2d_95">
    <path d="M 658.2 227.3 L 695.4 219.2 L 732.6 204.2 L 769.8 192.2 L 807 176.2 L 844.2 164.1 L 881.4 155" clip-path="url(#p9d94ba7324)" style="fill: none; stroke: #ff7f50; stroke-width: 2; stroke-linecap: square"/>
   </g>
   <g id="line2d_96">
    <path d="M 658.2 228 L 695.4 218.5 L 732.6 207.5 L 769.8 197.1 L 807 186.5 L 844.2 178.3 L 881.4 170.7" clip-path="url(#p9d94ba7324)" style="fill: none; stroke: #008000; stroke-width: 2; stroke-linecap: square"/>
   </g>
   <g id="line2d_97">
    <path d="M 658.2 228 L 695.4 220.8 L 732.6 212.4 L 769.8 205.3 L 807 197.1 L 844.2 190.6 L 881.4 205.3" clip-path="url(#p9d94ba7324)" style="fill: none; stroke: #ffc0cb; stroke-width: 2; stroke-linecap: square"/>
   </g>
   <g id="line2d_98">
    <path d="M 658.2 265.3 L 695.4 264.3 L 732.6 264 L 769.8 260.2 L 807 247.2 L 844.2 238.9 L 881.4 230.3" clip-path="url(#p9d94ba7324)" style="fill: none; stroke: #800080; stroke-width: 2; stroke-linecap: square"/>
   </g>
   <g id="line2d_99">
    <path d="M 658.2 267.8 L 695.4 268.9 L 732.6 267 L 769.8 266.5 L 807 268 L 844.2 264.4 L 881.4 260.4" clip-path="url(#p9d94ba7324)" style="fill: none; stroke: #8b0000; stroke-width: 2; stroke-linecap: square"/>
   </g>
   <g id="patch_13">
    <path d="M 646.5 273.5 L 646.5 26.5" style="fill: none; stroke: #000000; stroke-width: 0.8; stroke-linejoin: miter; stroke-linecap: square"/>
   </g>
   <g id="patch_14">
    <path d="M 893.5 273.5 L 893.5 26.5" style="fill: none; stroke: #000000; stroke-width: 0.8; stroke-linejoin: miter; stroke-linecap: square"/>
   </g>
   <g id="patch_15">
    <path d="M 646.5 273.5 L 893.5 273.5" style="fill: none; stroke: #000000; stroke-width: 0.8; stroke-linejoin: miter; stroke-linecap: square"/>
   </g>
   <g id="patch_16">
    <path d="M 646.5 26.5 L 893.5 26.5" style="fill: none; stroke: #000000; stroke-width: 0.8; stroke-linejoin: miter; stroke-linecap: square"/>
   </g>
   <g id="text_37">
    <text style="font-size: 18px; font-family: 'DejaVu Sans', 'Liberation Sans', sans-serif; text-anchor: middle" x="769.50" y="20.50">Bats</text>
   </g>
  </g>
  <g id="axes_4">
   <g id="patch_17">
    <path d="M 56.5 570.5 L 302.5 570.5 L 302.5 323.5 L 56.5 323.5 z" style="fill: #ffffff"/>
   </g>
   <g id="PathCollection_25">
    <g clip-path="url(#pe2648ee415)">
     <path class="c0" d="M 0 -3 L -3 3 L 3 3 z" transform="translate(62.5 447.5)"/>
     <path class="c0" d="M 0 -3 L -3 3 L 3 3 z" transform="translate(62.5 447.5)"/>
     <path class="c0" d="M 0 -3 L -3 3 L 3 3 z" transform="translate(62.5 451.5)"/>
     <path class="c0" d="M 0 -3 L -3 3 L 3 3 z" transform="translate(62.5 454.5)"/>
     <path class="c0" d="M 0 -3 L -3 3 L 3 3 z" transform="translate(62.5 455.5)"/>
     <path class="c0" d="M 0 -3 L -3 3 L 3 3 z" transform="translate(102.5 429.5)"/>
     <path class="c0" d="M 0 -3 L -3 3 L 3 3 z" transform="translate(102.5 429.5)"/>
     <path class="c0" d="M 0 -3 L -3 3 L 3 3 z" transform="translate(102.5 432.5)"/>
     <path class="c0" d="M 0 -3 L -3 3 L 3 3 z" transform="translate(102.5 435.5)"/>
     <path class="c0" d="M 0 -3 L -3 3 L 3 3 z" transform="translate(102.5 436.5)"/>
     <path class="c0" d="M 0 -3 L -3 3 L 3 3 z" transform="translate(142.5 406.5)"/>
     <path class="c0" d="M 0 -3 L -3 3 L 3 3 z" transform="translate(142.5 406.5)"/>
     <path class="c0" d="M 0 -3 L -3 3 L 3 3 z" transform="translate(142.5 408.5)"/>
     <path class="c0" d="M 0 -3 L -3 3 L 3 3 z" transform="translate(142.5 410.5)"/>
     <path class="c0" d="M 0 -3 L -3 3 L 3 3 z" transform="translate(142.5 411.5)"/>
     <path class="c0" d="M 0 -3 L -3 3 L 3 3 z" transform="translate(182.5 378.5)"/>
     <path class="c0" d="M 0 -3 L -3 3 L 3 3 z" transform="translate(182.5 383.5)"/>
     <path class="c0" d="M 0 -3 L -3 3 L 3 3 z" transform="translate(182.5 389.5)"/>
     <path class="c0" d="M 0 -3 L -3 3 L 3 3 z" transform="translate(182.5 394.5)"/>
     <path class="c0" d="M 0 -3 L -3 3 L 3 3 z" transform="translate(182.5 381.5)"/>
    </g>
   </g>
   <g id="PathCollection_26">
    <g clip-path="url(#pe2648ee415)">
     <path class="c1" d="M -1 3 L 1 3 L 1 1 L 3 1 L 3 -1 L 1 -1 L 1 -3 L -1 -3 L -1 -1 L -3 -1 L -3 1 L -1 1 z" transform="translate(62.5 461.5)"/>
     <path class="c1" d="M -1 3 L 1 3 L 1 1 L 3 1 L 3 -1 L 1 -1 L 1 -3 L -1 -3 L -1 -1 L -3 -1 L -3 1 L -1 1 z" transform="translate(62.5 461.5)"/>
     <path class="c1" d="M -1 3 L 1 3 L 1 1 L 3 1 L 3 -1 L 1 -1 L 1 -3 L -1 -3 L -1 -1 L -3 -1 L -3 1 L -1 1 z" transform="translate(62.5 464.5)"/>
     <path class="c1" d="M -1 3 L 1 3 L 1 1 L 3 1 L 3 -1 L 1 -1 L 1 -3 L -1 -3 L -1 -1 L -3 -1 L -3 1 L -1 1 z" transform="translate(62.5 467.5)"/>
     <path class="c1" d="M -1 3 L 1 3 L 1 1 L 3 1 L 3 -1 L 1 -1 L 1 -3 L -1 -3 L -1 -1 L -3 -1 L -3 1 L -1 1 z" transform="translate(62.5 468.5)"/>
     <path class="c1" d="M -1 3 L 1 3 L 1 1 L 3 1 L 3 -1 L 1 -1 L 1 -3 L -1 -3 L -1 -1 L -3 -1 L -3 1 L -1 1 z" transform="translate(102.5 426.5)"/>
     <path class="c1" d="M -1 3 L 1 3 L 1 1 L 3 1 L 3 -1 L 1 -1 L 1 -3 L -1 -3 L -1 -1 L -3 -1 L -3 1 L -1 1 z" transform="translate(102.5 427.5)"/>
     <path class="c1" d="M -1 3 L 1 3 L 1 1 L 3 1 L 3 -1 L 1 -1 L 1 -3 L -1 -3 L -1 -1 L -3 -1 L -3 1 L -1 1 z" transform="translate(102.5 431.5)"/>
     <path class="c1" d="M -1 3 L 1 3 L 1 1 L 3 1 L 3 -1 L 1 -1 L 1 -3 L -1 -3 L -1 -1 L -3 -1 L -3 1 L -1 1 z" transform="translate(102.5 435.5)"/>
     <path class="c1" d="M -1 3 L 1 3 L 1 1 L 3 1 L 3 -1 L 1 -1 L 1 -3 L -1 -3 L -1 -1 L -3 -1 L -3 1 L -1 1 z" transform="translate(102.5 437.5)"/>
     <path class="c1" d="M -1 3 L 1 3 L 1 1 L 3 1 L 3 -1 L 1 -1 L 1 -3 L -1 -3 L -1 -1 L -3 -1 L -3 1 L -1 1 z" transform="translate(142.5 393.5)"/>
     <path class="c1" d="M -1 3 L 1 3 L 1 1 L 3 1 L 3 -1 L 1 -1 L 1 -3 L -1 -3 L -1 -1 L -3 -1 L -3 1 L -1 1 z" transform="translate(142.5 394.5)"/>
     <path class="c1" d="M -1 3 L 1 3 L 1 1 L 3 1 L 3 -1 L 1 -1 L 1 -3 L -1 -3 L -1 -1 L -3 -1 L -3 1 L -1 1 z" transform="translate(142.5 396.5)"/>
     <path class="c1" d="M -1 3 L 1 3 L 1 1 L 3 1 L 3 -1 L 1 -1 L 1 -3 L -1 -3 L -1 -1 L -3 -1 L -3 1 L -1 1 z" transform="translate(142.5 399.5)"/>
     <path class="c1" d="M -1 3 L 1 3 L 1 1 L 3 1 L 3 -1 L 1 -1 L 1 -3 L -1 -3 L -1 -1 L -3 -1 L -3 1 L -1 1 z" transform="translate(142.5 400.5)"/>
     <path class="c1" d="M -1 3 L 1 3 L 1 1 L 3 1 L 3 -1 L 1 -1 L 1 -3 L -1 -3 L -1 -1 L -3 -1 L -3 1 L -1 1 z" transform="translate(182.5 364.5)"/>
     <path class="c1" d="M -1 3 L 1 3 L 1 1 L 3 1 L 3 -1 L 1 -1 L 1 -3 L -1 -3 L -1 -1 L -3 -1 L -3 1 L -1 1 z" transform="translate(182.5 368.5)"/>
     <path class="c1" d="M -1 3 L 1 3 L 1 1 L 3 1 L 3 -1 L 1 -1 L 1 -3 L -1 -3 L -1 -1 L -3 -1 L -3 1 L -1 1 z" transform="translate(182.5 372.5)"/>
     <path class="c1" d="M -1 3 L 1 3 L 1 1 L 3 1 L 3 -1 L 1 -1 L 1 -3 L -1 -3 L -1 -1 L -3 -1 L -3 1 L -1 1 z" transform="translate(182.5 376.5)"/>
     <path class="c1" d="M -1 3 L 1 3 L 1 1 L 3 1 L 3 -1 L 1 -1 L 1 -3 L -1 -3 L -1 -1 L -3 -1 L -3 1 L -1 1 z" transform="translate(182.5 381.5)"/>
    </g>
   </g>
   <g id="PathCollection_27">
    <g clip-path="url(#pe2648ee415)">
     <path class="c2" d="M 0 0 L 3 0 M 0 0 L -1.5 -2.4 M 0 0 L -1.5 2.4" transform="translate(62.5 490.5)"/>
     <path class="c2" d="M 0 0 L 3 0 M 0 0 L -1.5 -2.4 M 0 0 L -1.5 2.4" transform="translate(62.5 491.5)"/>
     <path class="c2" d="M 0 0 L 3 0 M 0 0 L -1.5 -2.4 M 0 0 L -1.5 2.4" transform="translate(62.5 493.5)"/>
     <path class="c2" d="M 0 0 L 3 0 M 0 0 L -1.5 -2.4 M 0 0 L -1.5 2.4" transform="translate(62.5 495.5)"/>
     <path class="c2" d="M 0 0 L 3 0 M 0 0 L -1.5 -2.4 M 0 0 L -1.5 2.4" transform="translate(62.5 496.5)"/>
     <path class="c2" d="M 0 0 L 3 0 M 0 0 L -1.5 -2.4 M 0 0 L -1.5 2.4" transform="translate(102.5 462.5)"/>
     <path class="c2" d="M 0 0 L 3 0 M 0 0 L -1.5 -2.4 M 0 0 L -1.5 2.4" transform="translate(102.5 462.5)"/>
     <path class="c2" d="M 0 0 L 3 0 M 0 0 L -1.5 -2.4 M 0 0 L -1.5 2.4" transform="translate(102.5 464.5)"/>
     <path class="c2" d="M 0 0 L 3 0 M 0 0 L -1.5 -2.4 M 0 0 L -1.5 2.4" transform="translate(102.5 465.5)"/>
     <path class="c2" d="M 0 0 L 3 0 M 0 0 L -1.5 -2.4 M 0 0 L -1.5 2.4" transform="translate(102.5 466.5)"/>
     <path class="c2" d="M 0 0 L 3 0 M 0 0 L -1.5 -2.4 M 0 0 L -1.5 2.4" transform="translate(142.5 436.5)"/>
     <path class="c2" d="M 0 0 L 3 0 M 0 0 L -1.5 -2.4 M 0 0 L -1.5 2.4" transform="translate(142.5 437.5)"/>
     <path class="c2" d="M 0 0 L 3 0 M 0 0 L -1.5 -2.4 M 0 0 L -1.5 2.4" transform="translate(142.5 440.5)"/>
     <path class="c2" d="M 0 0 L 3 0 M 0 0 L -1.5 -2.4 M 0 0 L -1.5 2.4" transform="translate(142.5 443.5)"/>
     <path class="c2" d="M 0 0 L 3 0 M 0 0 L -1.5 -2.4 M 0 0 L -1.5 2.4" transform="translate(142.5 445.5)"/>
     <path class="c2" d="M 0 0 L 3 0 M 0 0 L -1.5 -2.4 M 0 0 L -1.5 2.4" transform="translate(182.5 415.5)"/>
     <path class="c2" d="M 0 0 L 3 0 M 0 0 L -1.5 -2.4 M 0 0 L -1.5 2.4" transform="translate(182.5 415.5)"/>
     <path class="c2" d="M 0 0 L 3 0 M 0 0 L -1.5 -2.4 M 0 0 L -1.5 2.4" transform="translate(182.5 418.5)"/>
     <path class="c2" d="M 0 0 L 3 0 M 0 0 L -1.5 -2.4 M 0 0 L -1.5 2.4" transform="translate(182.5 420.5)"/>
     <path class="c2" d="M 0 0 L 3 0 M 0 0 L -1.5 -2.4 M 0 0 L -1.5 2.4" transform="translate(182.5 421.5)"/>
    </g>
   </g>
   <g id="PathCollection_28">
    <g clip-path="url(#pe2648ee415)">
     <circle class="c3" cx="62.5" cy="471.5" r="3"/>
     <circle class="c3" cx="62.5" cy="472.5" r="3"/>
     <circle class="c3" cx="62.5" cy="474.5" r="3"/>
     <circle class="c3" cx="62.5" cy="477.5" r="3"/>
     <circle class="c3" cx="62.5" cy="478.5" r="3"/>
     <circle class="c3" cx="102.5" cy="444.5" r="3"/>
     <circle class="c3" cx="102.5" cy="444.5" r="3"/>
     <circle class="c3" cx="102.5" cy="448.5" r="3"/>
     <circle class="c3" cx="102.5" cy="451.5" r="3"/>
     <circle class="c3" cx="102.5" cy="452.5" r="3"/>
     <circle class="c3" cx="142.5" cy="421.5" r="3"/>
     <circle class="c3" cx="142.5" cy="421.5" r="3"/>
     <circle class="c3" cx="142.5" cy="425.5" r="3"/>
     <circle class="c3" cx="142.5" cy="428.5" r="3"/>
     <circle class="c3" cx="142.5" cy="429.5" r="3"/>
     <circle class="c3" cx="182.5" cy="400.5" r="3"/>
     <circle class="c3" cx="182.5" cy="400.5" r="3"/>
     <circle class="c3" cx="182.5" cy="402.5" r="3"/>
     <circle class="c3" cx="182.5" cy="403.5" r="3"/>
     <circle class="c3" cx="182.5" cy="404.5" r="3"/>
    </g>
   </g>
   <g id="PathCollection_29">
    <g clip-path="url(#pe2648ee415)">
     <path class="c4" d="M -0 4.24 L 2.54 0 L 0 -4.24 L -2.54 -0 z" transform="translate(62.5 471.5)"/>
     <path class="c4" d="M -0 4.24 L 2.54 0 L 0 -4.24 L -2.54 -0 z" transform="translate(62.5 473.5)"/>
     <path class="c4" d="M -0 4.24 L 2.54 0 L 0 -4.24 L -2.54 -0 z" transform="translate(62.5 478.5)"/>
     <path class="c4" d="M -0 4.24 L 2.54 0 L 0 -4.24 L -2.54 -0 z" transform="translate(62.5 483.5)"/>
     <path class="c4" d="M -0 4.24 L 2.54 0 L 0 -4.24 L -2.54 -0 z" transform="translate(62.5 485.5)"/>
     <path class="c4" d="M -0 4.24 L 2.54 0 L 0 -4.24 L -2.54 -0 z" transform="translate(102.5 454.5)"/>
     <path class="c4" d="M -0 4.24 L 2.54 0 L 0 -4.24 L -2.54 -0 z" transform="translate(102.5 455.5)"/>
     <path class="c4" d="M -0 4.24 L 2.54 0 L 0 -4.24 L -2.54 -0 z" transform="translate(102.5 460.5)"/>
     <path class="c4" d="M -0 4.24 L 2.54 0 L 0 -4.24 L -2.54 -0 z" transform="translate(102.5 465.5)"/>
     <path class="c4" d="M -0 4.24 L 2.54 0 L 0 -4.24 L -2.54 -0 z" transform="translate(102.5 466.5)"/>
     <path class="c4" d="M -0 4.24 L 2.54 0 L 0 -4.24 L -2.54 -0 z" transform="translate(142.5 434.5)"/>
     <path class="c4" d="M -0 4.24 L 2.54 0 L 0 -4.24 L -2.54 -0 z" transform="translate(142.5 435.5)"/>
     <path class="c4" d="M -0 4.24 L 2.54 0 L 0 -4.24 L -2.54 -0 z" transform="translate(142.5 442.5)"/>
     <path class="c4" d="M -0 4.24 L 2.54 0 L 0 -4.24 L -2.54 -0 z" transform="translate(142.5 448.5)"/>
     <path class="c4" d="M -0 4.24 L 2.54 0 L 0 -4.24 L -2.54 -0 z" transform="translate(142.5 450.5)"/>
     <path class="c4" d="M -0 4.24 L 2.54 0 L 0 -4.24 L -2.54 -0 z" transform="translate(182.5 411.5)"/>
     <path class="c4" d="M -0 4.24 L 2.54 0 L 0 -4.24 L -2.54 -0 z" transform="translate(182.5 412.5)"/>
     <path class="c4" d="M -0 4.24 L 2.54 0 L 0 -4.24 L -2.54 -0 z" transform="translate(182.5 419.5)"/>
     <path class="c4" d="M -0 4.24 L 2.54 0 L 0 -4.24 L -2.54 -0 z" transform="translate(182.5 425.5)"/>
     <path class="c4" d="M -0 4.24 L 2.54 0 L 0 -4.24 L -2.54 -0 z" transform="translate(182.5 427.5)"/>
    </g>
   </g>
   <g id="PathCollection_30">
    <g clip-path="url(#pe2648ee415)">
     <path class="c5" d="M -0 4.24 L 4.24 0 L 0 -4.24 L -4.24 -0 z" transform="translate(62.5 567.5)"/>
     <path class="c5" d="M -0 4.24 L 4.24 0 L 0 -4.24 L -4.24 -0 z" transform="translate(62.5 567.5)"/>
     <path class="c5" d="M -0 4.24 L 4.24 0 L 0 -4.24 L -4.24 -0 z" transform="translate(62.5 569.5)"/>
     <path class="c5" d="M -0 4.24 L 4.24 0 L 0 -4.24 L -4.24 -0 z" transform="translate(62.5 570.5)"/>
     <path class="c5" d="M -0 4.24 L 4.24 0 L 0 -4.24 L -4.24 -0 z" transform="translate(62.5 571.5)"/>
     <path class="c5" d="M -0 4.24 L 4.24 0 L 0 -4.24 L -4.24 -0 z" transform="translate(102.5 566.5)"/>
     <path class="c5" d="M -0 4.24 L 4.24 0 L 0 -4.24 L -4.24 -0 z" transform="translate(102.5 566.5)"/>
     <path class="c5" d="M -0 4.24 L 4.24 0 L 0 -4.24 L -4.24 -0 z" transform="translate(102.5 567.5)"/>
     <path class="c5" d="M -0 4.24 L 4.24 0 L 0 -4.24 L -4.24 -0 z" transform="translate(102.5 568.5)"/>
     <path class="c5" d="M -0 4.24 L 4.24 0 L 0 -4.24 L -4.24 -0 z" transform="translate(102.5 569.5)"/>
     <path class="c5" d="M -0 4.24 L 4.24 0 L 0 -4.24 L -4.24 -0 z" transform="translate(142.5 562.5)"/>
     <path class="c5" d="M -0 4.24 L 4.24 0 L 0 -4.24 L -4.24 -0 z" transform="translate(142.5 562.5)"/>
     <path class="c5" d="M -0 4.24 L 4.24 0 L 0 -4.24 L -4.24 -0 z" transform="translate(142.5 564.5)"/>
     <path class="c5" d="M -0 4.24 L 4.24 0 L 0 -4.24 L -4.24 -0 z" transform="translate(142.5 566.5)"/>
     <path class="c5" d="M -0 4.24 L 4.24 0 L 0 -4.24 L -4.24 -0 z" transform="translate(142.5 567.5)"/>
     <path class="c5" d="M -0 4.24 L 4.24 0 L 0 -4.24 L -4.24 -0 z" transform="translate(182.5 555.5)"/>
     <path class="c5" d="M -0 4.24 L 4.24 0 L 0 -4.24 L -4.24 -0 z" transform="translate(182.5 555.5)"/>
     <path class="c5" d="M -0 4.24 L 4.24 0 L 0 -4.24 L -4.24 -0 z" transform="translate(182.5 558.5)"/>
     <path class="c5" d="M -0 4.24 L 4.24 0 L 0 -4.24 L -4.24 -0 z" transform="translate(182.5 560.5)"/>
     <path class="c5" d="M -0 4.24 L 4.24 0 L 0 -4.24 L -4.24 -0 z" transform="translate(182.5 561.5)"/>
    </g>
   </g>
   <g id="PathCollection_31">
    <g clip-path="url(#pe2648ee415)">
     <path class="c6" d="M 0 0 L 0 -3 M 0 0 L -2.4 1.5 M 0 0 L 2.4 1.5" transform="translate(62.5 550.5)"/>
     <path class="c6" d="M 0 0 L 0 -3 M 0 0 L -2.4 1.5 M 0 0 L 2.4 1.5" transform="translate(62.5 551.5)"/>
     <path class="c6" d="M 0 0 L 0 -3 M 0 0 L -2.4 1.5 M 0 0 L 2.4 1.5" transform="translate(62.5 555.5)"/>
     <path class="c6" d="M 0 0 L 0 -3 M 0 0 L -2.4 1.5 M 0 0 L 2.4 1.5" transform="translate(62.5 558.5)"/>
     <path class="c6" d="M 0 0 L 0 -3 M 0 0 L -2.4 1.5 M 0 0 L 2.4 1.5" transform="translate(62.5 560.5)"/>
     <path class="c6" d="M 0 0 L 0 -3 M 0 0 L -2.4 1.5 M 0 0 L 2.4 1.5" transform="translate(102.5 535.5)"/>
     <path class="c6" d="M 0 0 L 0 -3 M 0 0 L -2.4 1.5 M 0 0 L 2.4 1.5" transform="translate(102.5 535.5)"/>
     <path class="c6" d="M 0 0 L 0 -3 M 0 0 L -2.4 1.5 M 0 0 L 2.4 1.5" transform="translate(102.5 537.5)"/>
     <path class="c6" d="M 0 0 L 0 -3 M 0 0 L -2.4 1.5 M 0 0 L 2.4 1.5" transform="translate(102.5 538.5)"/>
     <path class="c6" d="M 0 0 L 0 -3 M 0 0 L -2.4 1.5 M 0 0 L 2.4 1.5" transform="translate(102.5 539.5)"/>
     <path class="c6" d="M 0 0 L 0 -3 M 0 0 L -2.4 1.5 M 0 0 L 2.4 1.5" transform="translate(142.5 519.5)"/>
     <path class="c6" d="M 0 0 L 0 -3 M 0 0 L -2.4 1.5 M 0 0 L 2.4 1.5" transform="translate(142.5 519.5)"/>
     <path class="c6" d="M 0 0 L 0 -3 M 0 0 L -2.4 1.5 M 0 0 L 2.4 1.5" transform="translate(142.5 523.5)"/>
     <path class="c6" d="M 0 0 L 0 -3 M 0 0 L -2.4 1.5 M 0 0 L 2.4 1.5" transform="translate(142.5 526.5)"/>
     <path class="c6" d="M 0 0 L 0 -3 M 0 0 L -2.4 1.5 M 0 0 L 2.4 1.5" transform="translate(142.5 527.5)"/>
     <path class="c6" d="M 0 0 L 0 -3 M 0 0 L -2.4 1.5 M 0 0 L 2.4 1.5" transform="translate(182.5 511.5)"/>
     <path class="c6" d="M 0 0 L 0 -3 M 0 0 L -2.4 1.5 M 0 0 L 2.4 1.5" transform="translate(182.5 511.5)"/>
     <path class="c6" d="M 0 0 L 0 -3 M 0 0 L -2.4 1.5 M 0 0 L 2.4 1.5" transform="translate(182.5 513.5)"/>
     <path class="c6" d="M 0 0 L 0 -3 M 0 0 L -2.4 1.5 M 0 0 L 2.4 1.5" transform="translate(182.5 514.5)"/>
     <path class="c6" d="M 0 0 L 0 -3 M 0 0 L -2.4 1.5 M 0 0 L 2.4 1.5" transform="translate(182.5 515.5)"/>
    </g>
   </g>
   <g id="PathCollection_32">
    <g clip-path="url(#pe2648ee415)">
     <path class="c7" d="M 0 0 L -3 -0 M 0 0 L 1.5 2.4 M 0 0 L 1.5 -2.4" transform="translate(62.5 568.5)"/>
     <path class="c7" d="M 0 0 L -3 -0 M 0 0 L 1.5 2.4 M 0 0 L 1.5 -2.4" transform="translate(62.5 568.5)"/>
     <path class="c7" d="M 0 0 L -3 -0 M 0 0 L 1.5 2.4 M 0 0 L 1.5 -2.4" transform="translate(62.5 569.5)"/>
     <path class="c7" d="M 0 0 L -3 -0 M 0 0 L 1.5 2.4 M 0 0 L 1.5 -2.4" transform="translate(62.5 569.5)"/>
     <path class="c7" d="M 0 0 L -3 -0 M 0 0 L 1.5 2.4 M 0 0 L 1.5 -2.4" transform="translate(62.5 570.5)"/>
     <path class="c7" d="M 0 0 L -3 -0 M 0 0 L 1.5 2.4 M 0 0 L 1.5 -2.4" transform="translate(102.5 567.5)"/>
     <path class="c7" d="M 0 0 L -3 -0 M 0 0 L 1.5 2.4 M 0 0 L 1.5 -2.4" transform="translate(102.5 567.5)"/>
     <path class="c7" d="M 0 0 L -3 -0 M 0 0 L 1.5 2.4 M 0 0 L 1.5 -2.4" transform="translate(102.5 567.5)"/>
     <path class="c7" d="M 0 0 L -3 -0 M 0 0 L 1.5 2.4 M 0 0 L 1.5 -2.4" transform="translate(102.5 567.5)"/>
     <path class="c7" d="M 0 0 L -3 -0 M 0 0 L 1.5 2.4 M 0 0 L 1.5 -2.4" transform="translate(102.5 568.5)"/>
     <path class="c7" d="M 0 0 L -3 -0 M 0 0 L 1.5 2.4 M 0 0 L 1.5 -2.4" transform="translate(142.5 565.5)"/>
     <path class="c7" d="M 0 0 L -3 -0 M 0 0 L 1.5 2.4 M 0 0 L 1.5 -2.4" transform="translate(142.5 565.5)"/>
     <path class="c7" d="M 0 0 L -3 -0 M 0 0 L 1.5 2.4 M 0 0 L 1.5 -2.4" transform="translate(142.5 565.5)"/>
     <path class="c7" d="M 0 0 L -3 -0 M 0 0 L 1.5 2.4 M 0 0 L 1.5 -2.4" transform="translate(142.5 565.5)"/>
     <path class="c7" d="M 0 0 L -3 -0 M 0 0 L 1.5 2.4 M 0 0 L 1.5 -2.4" transform="translate(142.5 566.5)"/>
     <path class="c7" d="M 0 0 L -3 -0 M 0 0 L 1.5 2.4 M 0 0 L 1.5 -2.4" transform="translate(182.5 556.5)"/>
     <path class="c7" d="M 0 0 L -3 -0 M 0 0 L 1.5 2.4 M 0 0 L 1.5 -2.4" transform="translate(182.5 556.5)"/>
     <path class="c7" d="M 0 0 L -3 -0 M 0 0 L 1.5 2.4 M 0 0 L 1.5 -2.4" transform="translate(182.5 557.5)"/>
     <path class="c7" d="M 0 0 L -3 -0 M 0 0 L 1.5 2.4 M 0 0 L 1.5 -2.4" transform="translate(182.5 558.5)"/>
     <path class="c7" d="M 0 0 L -3 -0 M 0 0 L 1.5 2.4 M 0 0 L 1.5 -2.4" transform="translate(182.5 559.5)"/>
    </g>
   </g>
   <g id="matplotlib.axis_7">
    <g id="xtick_64">
     <g id="line2d_100">
      <g>
       <path class="c8" d="M 0 0 L 0 3.5" transform="translate(62.5 570.5)"/>
      </g>
     </g>
     <g id="text_38">
      <text style="font-size: 10px; font-family: 'DejaVu Sans', 'Liberation Sans', sans-serif; text-anchor: middle" x="62.00" y="586.10">4</text>
     </g>
    </g>
    <g id="xtick_65">
     <g id="line2d_101">
      <g>
       <path class="c8" d="M 0 0 L 0 3.5" transform="translate(102.5 570.5)"/>
      </g>
     </g>
     <g id="text_39">
      <text style="font-size: 10px; font-family: 'DejaVu Sans', 'Liberation Sans', sans-serif; text-anchor: middle" x="102.00" y="586.10">8</text>
     </g>
    </g>
    <g id="xtick_66">
     <g id="line2d_102">
      <g>
       <path class="c8" d="M 0 0 L 0 3.5" transform="translate(142.5 570.5)"/>
      </g>
     </g>
     <g id="text_40">
      <text style="font-size: 10px; font-family: 'DejaVu Sans', 'Liberation Sans', sans-serif; text-anchor: middle" x="142.00" y="586.10">16</text>
     </g>
    </g>
    <g id="xtick_67">
     <g id="line2d_103">
      <g>
       <path class="c8" d="M 0 0 L 0 3.5" transform="translate(182.5 570.5)"/>
      </g>
     </g>
     <g id="text_41">
      <text style="font-size: 10px; font-family: 'DejaVu Sans', 'Liberation Sans', sans-serif; text-anchor: middle" x="182.00" y="586.10">32</text>
     </g>
    </g>
    <g id="xtick_68">
     <g id="line2d_104">
      <g>
       <path class="c8" d="M 0 0 L 0 3.5" transform="translate(222.5 570.5)"/>
      </g>
     </g>
     <g id="text_42">
      <text style="font-size: 10px; font-family: 'DejaVu Sans', 'Liberation Sans', sans-serif; text-anchor: middle" x="222.00" y="586.10">64</text>
     </g>
    </g>
    <g id="xtick_69">
     <g id="line2d_105">
      <g>
       <path class="c8" d="M 0 0 L 0 3.5" transform="translate(262.5 570.5)"/>
      </g>
     </g>
     <g id="text_43">
      <text style="font-size: 10px; font-family: 'DejaVu Sans', 'Liberation Sans', sans-serif; text-anchor: middle" x="262.00" y="586.10">128</text>
     </g>
    </g>
    <g id="xtick_70">
     <g id="line2d_106">
      <g>
       <path class="c8" d="M 0 0 L 0 3.5" transform="translate(302.5 570.5)"/>
      </g>
     </g>
     <g id="text_44">
      <text style="font-size: 10px; font-family: 'DejaVu Sans', 'Liberation Sans', sans-serif; text-anchor: middle" x="302.00" y="586.10">256</text>
     </g>
    </g>
    <g id="xtick_71">
     <g id="line2d_107">
      <g>
       <path class="c9" d="M 0 0 L 0 2" transform="translate(75.5 570.5)"/>
      </g>
     </g>
    </g>
    <g id="xtick_72">
     <g id="line2d_108">
      <g>
       <path class="c9" d="M 0 0 L 0 2" transform="translate(85.5 570.5)"/>
      </g>
     </g>
    </g>
    <g id="xtick_73">
     <g id="line2d_109">
      <g>
       <path class="c9" d="M 0 0 L 0 2" transform="translate(94.5 570.5)"/>
      </g>
     </g>
    </g>
    <g id="xtick_74">
     <g id="line2d_110">
      <g>
       <path class="c9" d="M 0 0 L 0 2" transform="translate(109.5 570.5)"/>
      </g>
     </g>
    </g>
    <g id="xtick_75">
     <g id="line2d_111">
      <g>
       <path class="c9" d="M 0 0 L 0 2" transform="translate(155.5 570.5)"/>
      </g>
     </g>
    </g>
    <g id="xtick_76">
     <g id="line2d_112">
      <g>
       <path class="c9" d="M 0 0 L 0 2" transform="translate(178.5 570.5)"/>
      </g>
     </g>
    </g>
    <g id="xtick_77">
     <g id="line2d_113">
      <g>
       <path class="c9" d="M 0 0 L 0 2" transform="translate(195.5 570.5)"/>
      </g>
     </g>
    </g>
    <g id="xtick_78">
     <g id="line2d_114">
      <g>
       <path class="c9" d="M 0 0 L 0 2" transform="translate(208.5 570.5)"/>
      </g>
     </g>
    </g>
    <g id="xtick_79">
     <g id="line2d_115">
      <g>
       <path class="c9" d="M 0 0 L 0 2" transform="translate(218.5 570.5)"/>
      </g>
     </g>
    </g>
    <g id="xtick_80">
     <g id="line2d_116">
      <g>
       <path class="c9" d="M 0 0 L 0 2" transform="translate(227.5 570.5)"/>
      </g>
     </g>
    </g>
    <g id="xtick_81">
     <g id="line2d_117">
      <g>
       <path class="c9" d="M 0 0 L 0 2" transform="translate(235.5 570.5)"/>
      </g>
     </g>
    </g>
    <g id="xtick_82">
     <g id="line2d_118">
      <g>
       <path class="c9" d="M 0 0 L 0 2" transform="translate(242.5 570.5)"/>
      </g>
     </g>
    </g>
    <g id="xtick_83">
     <g id="line2d_119">
      <g>
       <path class="c9" d="M 0 0 L 0 2" transform="translate(288.5 570.5)"/>
      </g>
     </g>
    </g>
   </g>
   <g id="matplotlib.axis_8">
    <g id="ytick_13">
     <g id="line2d_120">
      <g>
       <path class="c8" d="M 0 0 L -3.5 0" transform="translate(56.5 570.5)"/>
      </g>
     </g>
     <g id="text_45">
      <text style="font-size: 10px; font-family: 'DejaVu Sans', 'Liberation Sans', sans-serif; text-anchor: end" x="49.10" y="575.10">0.5</text>
     </g>
    </g>
    <g id="ytick_14">
     <g id="line2d_121">
      <g>
       <path class="c8" d="M 0 0 L -3.5 0" transform="translate(56.5 517.5)"/>
      </g>
     </g>
     <g id="text_46">
      <text style="font-size: 10px; font-family: 'DejaVu Sans', 'Liberation Sans', sans-serif; text-anchor: end" x="49.10" y="522.08">0.75</text>
     </g>
    </g>
    <g id="ytick_15">
     <g id="line2d_122">
      <g>
       <path class="c8" d="M 0 0 L -3.5 0" transform="translate(56.5 464.5)"/>
      </g>
     </g>
     <g id="text_47">
      <text style="font-size: 10px; font-family: 'DejaVu Sans', 'Liberation Sans', sans-serif; text-anchor: end" x="49.10" y="469.06">0.9</text>
     </g>
    </g>
    <g id="ytick_16">
     <g id="line2d_123">
      <g>
       <path class="c8" d="M 0 0 L -3.5 0" transform="translate(56.5 348.5)"/>
      </g>
     </g>
     <g id="text_48">
      <text style="font-size: 10px; font-family: 'DejaVu Sans', 'Liberation Sans', sans-serif; text-anchor: end" x="49.10" y="353.34">0.99</text>
     </g>
    </g>
    <g id="text_49">
     <text style="font-size: 16px; font-family: 'DejaVu Sans', 'Liberation Sans', sans-serif; text-anchor: middle" x="19.91" y="450.30" transform="rotate(-90 19.91 450.30)">ROC-AUC</text>
    </g>
   </g>
   <g id="line2d_124">
    <path d="M 62.5 451.2 L 102.5 432.5 L 142.5 408 L 182.5 383.5" clip-path="url(#pe2648ee415)" style="fill: none; stroke: #daa520; stroke-width: 2; stroke-linecap: square"/>
   </g>
   <g id="line2d_125">
    <path d="M 62.5 463.9 L 102.5 431.4 L 142.5 400.7 L 182.5 372.9" clip-path="url(#pe2648ee415)" style="fill: none; stroke: #1e90ff; stroke-width: 2; stroke-linecap: square"/>
   </g>
   <g id="line2d_126">
    <path d="M 62.5 489.8 L 102.5 463.4 L 142.5 439.8 L 182.5 418.6" clip-path="url(#pe2648ee415)" style="fill: none; stroke: #0000ff; stroke-width: 2; stroke-linecap: square"/>
   </g>
   <g id="line2d_127">
    <path d="M 62.5 474.9 L 102.5 449.6 L 142.5 424.3 L 182.5 400.7" clip-path="url(#pe2648ee415)" style="fill: none; stroke: #ff7f50; stroke-width: 2; stroke-linecap: square"/>
   </g>
   <g id="line2d_128">
    <path d="M 62.5 477.6 L 102.5 458.5 L 142.5 439 L 182.5 417.8" clip-path="url(#pe2648ee415)" style="fill: none; stroke: #008000; stroke-width: 2; stroke-linecap: square"/>
   </g>
   <g id="line2d_129">
    <path d="M 62.5 570 L 102.5 568 L 142.5 565.5 L 182.5 557.5" clip-path="url(#pe2648ee415)" style="fill: none; stroke: #ffc0cb; stroke-width: 2; stroke-linecap: square"/>
   </g>
   <g id="line2d_130">
    <path d="M 62.5 553.6 L 102.5 536.6 L 142.5 521.6 L 182.5 512.9" clip-path="url(#pe2648ee415)" style="fill: none; stroke: #800080; stroke-width: 2; stroke-linecap: square"/>
   </g>
   <g id="line2d_131">
    <path d="M 62.5 569.1 L 102.5 567.6 L 142.5 565.3 L 182.5 557.5" clip-path="url(#pe2648ee415)" style="fill: none; stroke: #8b0000; stroke-width: 2; stroke-linecap: square"/>
   </g>
   <g id="patch_18">
    <path d="M 56.5 570.5 L 56.5 323.5" style="fill: none; stroke: #000000; stroke-width: 0.8; stroke-linejoin: miter; stroke-linecap: square"/>
   </g>
   <g id="patch_19">
    <path d="M 302.5 570.5 L 302.5 323.5" style="fill: none; stroke: #000000; stroke-width: 0.8; stroke-linejoin: miter; stroke-linecap: square"/>
   </g>
   <g id="patch_20">
    <path d="M 56.5 570.5 L 302.5 570.5" style="fill: none; stroke: #000000; stroke-width: 0.8; stroke-linejoin: miter; stroke-linecap: square"/>
   </g>
   <g id="patch_21">
    <path d="M 56.5 323.5 L 302.5 323.5" style="fill: none; stroke: #000000; stroke-width: 0.8; stroke-linejoin: miter; stroke-linecap: square"/>
   </g>
   <g id="text_50">
    <text style="font-size: 18px; font-family: 'DejaVu Sans', 'Liberation Sans', sans-serif; text-anchor: middle" x="179.00" y="317.50">Watkins Marine Mammals</text>
   </g>
  </g>
  <g id="axes_5">
   <g id="patch_22">
    <path d="M 351.5 570.5 L 597.5 570.5 L 597.5 323.5 L 351.5 323.5 z" style="fill: #ffffff"/>
   </g>
   <g id="PathCollection_33">
    <g clip-path="url(#p87373a7016)">
     <path class="c0" d="M 0 -3 L -3 3 L 3 3 z" transform="translate(357.5 463.5)"/>
     <path class="c0" d="M 0 -3 L -3 3 L 3 3 z" transform="translate(357.5 463.5)"/>
     <path class="c0" d="M 0 -3 L -3 3 L 3 3 z" transform="translate(357.5 467.5)"/>
     <path class="c0" d="M 0 -3 L -3 3 L 3 3 z" transform="translate(357.5 470.5)"/>
     <path class="c0" d="M 0 -3 L -3 3 L 3 3 z" transform="translate(357.5 471.5)"/>
     <path class="c0" d="M 0 -3 L -3 3 L 3 3 z" transform="translate(397.5 442.5)"/>
     <path class="c0" d="M 0 -3 L -3 3 L 3 3 z" transform="translate(397.5 443.5)"/>
     <path class="c0" d="M 0 -3 L -3 3 L 3 3 z" transform="translate(397.5 447.5)"/>
     <path class="c0" d="M 0 -3 L -3 3 L 3 3 z" transform="translate(397.5 451.5)"/>
     <path class="c0" d="M 0 -3 L -3 3 L 3 3 z" transform="translate(397.5 453.5)"/>
     <path class="c0" d="M 0 -3 L -3 3 L 3 3 z" transform="translate(437.5 432.5)"/>
     <path class="c0" d="M 0 -3 L -3 3 L 3 3 z" transform="translate(437.5 432.5)"/>
     <path class="c0" d="M 0 -3 L -3 3 L 3 3 z" transform="translate(437.5 435.5)"/>
     <path class="c0" d="M 0 -3 L -3 3 L 3 3 z" transform="translate(437.5 438.5)"/>
     <path class="c0" d="M 0 -3 L -3 3 L 3 3 z" transform="translate(437.5 439.5)"/>
     <path class="c0" d="M 0 -3 L -3 3 L 3 3 z" transform="translate(477.5 425.5)"/>
     <path class="c0" d="M 0 -3 L -3 3 L 3 3 z" transform="translate(477.5 426.5)"/>
     <path class="c0" d="M 0 -3 L -3 3 L 3 3 z" transform="translate(477.5 429.5)"/>
     <path class="c0" d="M 0 -3 L -3 3 L 3 3 z" transform="translate(477.5 432.5)"/>
     <path class="c0" d="M 0 -3 L -3 3 L 3 3 z" transform="translate(477.5 434.5)"/>
    </g>
   </g>
   <g id="PathCollection_34">
    <g clip-path="url(#p87373a7016)">
     <path class="c1" d="M -1 3 L 1 3 L 1 1 L 3 1 L 3 -1 L 1 -1 L 1 -3 L -1 -3 L -1 -1 L -3 -1 L -3 1 L -1 1 z" transform="translate(357.5 454.5)"/>
     <path class="c1" d="M -1 3 L 1 3 L 1 1 L 3 1 L 3 -1 L 1 -1 L 1 -3 L -1 -3 L -1 -1 L -3 -1 L -3 1 L -1 1 z" transform="translate(357.5 455.5)"/>
     <path class="c1" d="M -1 3 L 1 3 L 1 1 L 3 1 L 3 -1 L 1 -1 L 1 -3 L -1 -3 L -1 -1 L -3 -1 L -3 1 L -1 1 z" transform="translate(357.5 459.5)"/>
     <path class="c1" d="M -1 3 L 1 3 L 1 1 L 3 1 L 3 -1 L 1 -1 L 1 -3 L -1 -3 L -1 -1 L -3 -1 L -3 1 L -1 1 z" transform="translate(357.5 463.5)"/>
     <path class="c1" d="M -1 3 L 1 3 L 1 1 L 3 1 L 3 -1 L 1 -1 L 1 -3 L -1 -3 L -1 -1 L -3 -1 L -3 1 L -1 1 z" transform="translate(357.5 464.5)"/>
     <path class="c1" d="M -1 3 L 1 3 L 1 1 L 3 1 L 3 -1 L 1 -1 L 1 -3 L -1 -3 L -1 -1 L -3 -1 L -3 1 L -1 1 z" transform="translate(397.5 432.5)"/>
     <path class="c1" d="M -1 3 L 1 3 L 1 1 L 3 1 L 3 -1 L 1 -1 L 1 -3 L -1 -3 L -1 -1 L -3 -1 L -3 1 L -1 1 z" transform="translate(397.5 433.5)"/>
     <path class="c1" d="M -1 3 L 1 3 L 1 1 L 3 1 L 3 -1 L 1 -1 L 1 -3 L -1 -3 L -1 -1 L -3 -1 L -3 1 L -1 1 z" transform="translate(397.5 439.5)"/>
     <path class="c1" d="M -1 3 L 1 3 L 1 1 L 3 1 L 3 -1 L 1 -1 L 1 -3 L -1 -3 L -1 -1 L -3 -1 L -3 1 L -1 1 z" transform="translate(397.5 444.5)"/>
     <path class="c1" d="M -1 3 L 1 3 L 1 1 L 3 1 L 3 -1 L 1 -1 L 1 -3 L -1 -3 L -1 -1 L -3 -1 L -3 1 L -1 1 z" transform="translate(397.5 446.5)"/>
     <path class="c1" d="M -1 3 L 1 3 L 1 1 L 3 1 L 3 -1 L 1 -1 L 1 -3 L -1 -3 L -1 -1 L -3 -1 L -3 1 L -1 1 z" transform="translate(437.5 422.5)"/>
     <path class="c1" d="M -1 3 L 1 3 L 1 1 L 3 1 L 3 -1 L 1 -1 L 1 -3 L -1 -3 L -1 -1 L -3 -1 L -3 1 L -1 1 z" transform="translate(437.5 423.5)"/>
     <path class="c1" d="M -1 3 L 1 3 L 1 1 L 3 1 L 3 -1 L 1 -1 L 1 -3 L -1 -3 L -1 -1 L -3 -1 L -3 1 L -1 1 z" transform="translate(437.5 426.5)"/>
     <path class="c1" d="M -1 3 L 1 3 L 1 1 L 3 1 L 3 -1 L 1 -1 L 1 -3 L -1 -3 L -1 -1 L -3 -1 L -3 1 L -1 1 z" transform="translate(437.5 429.5)"/>
     <path class="c1" d="M -1 3 L 1 3 L 1 1 L 3 1 L 3 -1 L 1 -1 L 1 -3 L -1 -3 L -1 -1 L -3 -1 L -3 1 L -1 1 z" transform="translate(437.5 430.5)"/>
     <path class="c1" d="M -1 3 L 1 3 L 1 1 L 3 1 L 3 -1 L 1 -1 L 1 -3 L -1 -3 L -1 -1 L -3 -1 L -3 1 L -1 1 z" transform="translate(477.5 410.5)"/>
     <path class="c1" d="M -1 3 L 1 3 L 1 1 L 3 1 L 3 -1 L 1 -1 L 1 -3 L -1 -3 L -1 -1 L -3 -1 L -3 1 L -1 1 z" transform="translate(477.5 411.5)"/>
     <path class="c1" d="M -1 3 L 1 3 L 1 1 L 3 1 L 3 -1 L 1 -1 L 1 -3 L -1 -3 L -1 -1 L -3 -1 L -3 1 L -1 1 z" transform="translate(477.5 414.5)"/>
     <path class="c1" d="M -1 3 L 1 3 L 1 1 L 3 1 L 3 -1 L 1 -1 L 1 -3 L -1 -3 L -1 -1 L -3 -1 L -3 1 L -1 1 z" transform="translate(477.5 417.5)"/>
     <path class="c1" d="M -1 3 L 1 3 L 1 1 L 3 1 L 3 -1 L 1 -1 L 1 -3 L -1 -3 L -1 -1 L -3 -1 L -3 1 L -1 1 z" transform="translate(477.5 418.5)"/>
    </g>
   </g>
   <g id="PathCollection_35">
    <g clip-path="url(#p87373a7016)">
     <path class="c2" d="M 0 0 L 3 0 M 0 0 L -1.5 -2.4 M 0 0 L -1.5 2.4" transform="translate(357.5 492.5)"/>
     <path class="c2" d="M 0 0 L 3 0 M 0 0 L -1.5 -2.4 M 0 0 L -1.5 2.4" transform="translate(357.5 493.5)"/>
     <path class="c2" d="M 0 0 L 3 0 M 0 0 L -1.5 -2.4 M 0 0 L -1.5 2.4" transform="translate(357.5 499.5)"/>
     <path class="c2" d="M 0 0 L 3 0 M 0 0 L -1.5 -2.4 M 0 0 L -1.5 2.4" transform="translate(357.5 504.5)"/>
     <path class="c2" d="M 0 0 L 3 0 M 0 0 L -1.5 -2.4 M 0 0 L -1.5 2.4" transform="translate(357.5 505.5)"/>
     <path class="c2" d="M 0 0 L 3 0 M 0 0 L -1.5 -2.4 M 0 0 L -1.5 2.4" transform="translate(397.5 474.5)"/>
     <path class="c2" d="M 0 0 L 3 0 M 0 0 L -1.5 -2.4 M 0 0 L -1.5 2.4" transform="translate(397.5 474.5)"/>
     <path class="c2" d="M 0 0 L 3 0 M 0 0 L -1.5 -2.4 M 0 0 L -1.5 2.4" transform="translate(397.5 477.5)"/>
     <path class="c2" d="M 0 0 L 3 0 M 0 0 L -1.5 -2.4 M 0 0 L -1.5 2.4" transform="translate(397.5 480.5)"/>
     <path class="c2" d="M 0 0 L 3 0 M 0 0 L -1.5 -2.4 M 0 0 L -1.5 2.4" transform="translate(397.5 481.5)"/>
     <path class="c2" d="M 0 0 L 3 0 M 0 0 L -1.5 -2.4 M 0 0 L -1.5 2.4" transform="translate(437.5 456.5)"/>
     <path class="c2" d="M 0 0 L 3 0 M 0 0 L -1.5 -2.4 M 0 0 L -1.5 2.4" transform="translate(437.5 456.5)"/>
     <path class="c2" d="M 0 0 L 3 0 M 0 0 L -1.5 -2.4 M 0 0 L -1.5 2.4" transform="translate(437.5 459.5)"/>
     <path class="c2" d="M 0 0 L 3 0 M 0 0 L -1.5 -2.4 M 0 0 L -1.5 2.4" transform="translate(437.5 462.5)"/>
     <path class="c2" d="M 0 0 L 3 0 M 0 0 L -1.5 -2.4 M 0 0 L -1.5 2.4" transform="translate(437.5 463.5)"/>
     <path class="c2" d="M 0 0 L 3 0 M 0 0 L -1.5 -2.4 M 0 0 L -1.5 2.4" transform="translate(477.5 445.5)"/>
     <path class="c2" d="M 0 0 L 3 0 M 0 0 L -1.5 -2.4 M 0 0 L -1.5 2.4" transform="translate(477.5 445.5)"/>
     <path class="c2" d="M 0 0 L 3 0 M 0 0 L -1.5 -2.4 M 0 0 L -1.5 2.4" transform="translate(477.5 448.5)"/>
     <path class="c2" d="M 0 0 L 3 0 M 0 0 L -1.5 -2.4 M 0 0 L -1.5 2.4" transform="translate(477.5 450.5)"/>
     <path class="c2" d="M 0 0 L 3 0 M 0 0 L -1.5 -2.4 M 0 0 L -1.5 2.4" transform="translate(477.5 451.5)"/>
    </g>
   </g>
   <g id="PathCollection_36">
    <g clip-path="url(#p87373a7016)">
     <circle class="c3" cx="357.5" cy="513.5" r="3"/>
     <circle class="c3" cx="357.5" cy="514.5" r="3"/>
     <circle class="c3" cx="357.5" cy="516.5" r="3"/>
     <circle class="c3" cx="357.5" cy="518.5" r="3"/>
     <circle class="c3" cx="357.5" cy="519.5" r="3"/>
     <circle class="c3" cx="397.5" cy="496.5" r="3"/>
     <circle class="c3" cx="397.5" cy="496.5" r="3"/>
     <circle class="c3" cx="397.5" cy="500.5" r="3"/>
     <circle class="c3" cx="397.5" cy="503.5" r="3"/>
     <circle class="c3" cx="397.5" cy="504.5" r="3"/>
     <circle class="c3" cx="437.5" cy="474.5" r="3"/>
     <circle class="c3" cx="437.5" cy="475.5" r="3"/>
     <circle class="c3" cx="437.5" cy="479.5" r="3"/>
     <circle class="c3" cx="437.5" cy="482.5" r="3"/>
     <circle class="c3" cx="437.5" cy="483.5" r="3"/>
     <circle class="c3" cx="477.5" cy="450.5" r="3"/>
     <circle class="c3" cx="477.5" cy="452.5" r="3"/>
     <circle class="c3" cx="477.5" cy="458.5" r="3"/>
     <circle class="c3" cx="477.5" cy="465.5" r="3"/>
     <circle class="c3" cx="477.5" cy="467.5" r="3"/>
    </g>
   </g>
   <g id="PathCollection_37">
    <g clip-path="url(#p87373a7016)">
     <path class="c4" d="M -0 4.24 L 2.54 0 L 0 -4.24 L -2.54 -0 z" transform="translate(357.5 521.5)"/>
     <path class="c4" d="M -0 4.24 L 2.54 0 L 0 -4.24 L -2.54 -0 z" transform="translate(357.5 523.5)"/>
     <path class="c4" d="M -0 4.24 L 2.54 0 L 0 -4.24 L -2.54 -0 z" transform="translate(357.5 527.5)"/>
     <path class="c4" d="M -0 4.24 L 2.54 0 L 0 -4.24 L -2.54 -0 z" transform="translate(357.5 531.5)"/>
     <path class="c4" d="M -0 4.24 L 2.54 0 L 0 -4.24 L -2.54 -0 z" transform="translate(357.5 532.5)"/>
     <path class="c4" d="M -0 4.24 L 2.54 0 L 0 -4.24 L -2.54 -0 z" transform="translate(397.5 506.5)"/>
     <path class="c4" d="M -0 4.24 L 2.54 0 L 0 -4.24 L -2.54 -0 z" transform="translate(397.5 507.5)"/>
     <path class="c4" d="M -0 4.24 L 2.54 0 L 0 -4.24 L -2.54 -0 z" transform="translate(397.5 513.5)"/>
     <path class="c4" d="M -0 4.24 L 2.54 0 L 0 -4.24 L -2.54 -0 z" transform="translate(397.5 519.5)"/>
     <path class="c4" d="M -0 4.24 L 2.54 0 L 0 -4.24 L -2.54 -0 z" transform="translate(397.5 521.5)"/>
     <path class="c4" d="M -0 4.24 L 2.54 0 L 0 -4.24 L -2.54 -0 z" transform="translate(437.5 487.5)"/>
     <path class="c4" d="M -0 4.24 L 2.54 0 L 0 -4.24 L -2.54 -0 z" transform="translate(437.5 488.5)"/>
     <path class="c4" d="M -0 4.24 L 2.54 0 L 0 -4.24 L -2.54 -0 z" transform="translate(437.5 493.5)"/>
     <path class="c4" d="M -0 4.24 L 2.54 0 L 0 -4.24 L -2.54 -0 z" transform="translate(437.5 498.5)"/>
     <path class="c4" d="M -0 4.24 L 2.54 0 L 0 -4.24 L -2.54 -0 z" transform="translate(437.5 500.5)"/>
     <path class="c4" d="M -0 4.24 L 2.54 0 L 0 -4.24 L -2.54 -0 z" transform="translate(477.5 466.5)"/>
     <path class="c4" d="M -0 4.24 L 2.54 0 L 0 -4.24 L -2.54 -0 z" transform="translate(477.5 468.5)"/>
     <path class="c4" d="M -0 4.24 L 2.54 0 L 0 -4.24 L -2.54 -0 z" transform="translate(477.5 477.5)"/>
     <path class="c4" d="M -0 4.24 L 2.54 0 L 0 -4.24 L -2.54 -0 z" transform="translate(477.5 486.5)"/>
     <path class="c4" d="M -0 4.24 L 2.54 0 L 0 -4.24 L -2.54 -0 z" transform="translate(477.5 489.5)"/>
    </g>
   </g>
   <g id="PathCollection_38">
    <g clip-path="url(#p87373a7016)">
     <path class="c5" d="M -0 4.24 L 4.24 0 L 0 -4.24 L -4.24 -0 z" transform="translate(357.5 540.5)"/>
     <path class="c5" d="M -0 4.24 L 4.24 0 L 0 -4.24 L -4.24 -0 z" transform="translate(357.5 541.5)"/>
     <path class="c5" d="M -0 4.24 L 4.24 0 L 0 -4.24 L -4.24 -0 z" transform="translate(357.5 545.5)"/>
     <path class="c5" d="M -0 4.24 L 4.24 0 L 0 -4.24 L -4.24 -0 z" transform="translate(357.5 549.5)"/>
     <path class="c5" d="M -0 4.24 L 4.24 0 L 0 -4.24 L -4.24 -0 z" transform="translate(357.5 550.5)"/>
     <path class="c5" d="M -0 4.24 L 4.24 0 L 0 -4.24 L -4.24 -0 z" transform="translate(397.5 525.5)"/>
     <path class="c5" d="M -0 4.24 L 4.24 0 L 0 -4.24 L -4.24 -0 z" transform="translate(397.5 525.5)"/>
     <path class="c5" d="M -0 4.24 L 4.24 0 L 0 -4.24 L -4.24 -0 z" transform="translate(397.5 529.5)"/>
     <path class="c5" d="M -0 4.24 L 4.24 0 L 0 -4.24 L -4.24 -0 z" transform="translate(397.5 532.5)"/>
     <path class="c5" d="M -0 4.24 L 4.24 0 L 0 -4.24 L -4.24 -0 z" transform="translate(397.5 533.5)"/>
     <path class="c5" d="M -0 4.24 L 4.24 0 L 0 -4.24 L -4.24 -0 z" transform="translate(437.5 502.5)"/>
     <path class="c5" d="M -0 4.24 L 4.24 0 L 0 -4.24 L -4.24 -0 z" transform="translate(437.5 502.5)"/>
     <path class="c5" d="M -0 4.24 L 4.24 0 L 0 -4.24 L -4.24 -0 z" transform="translate(437.5 505.5)"/>
     <path class="c5" d="M -0 4.24 L 4.24 0 L 0 -4.24 L -4.24 -0 z" transform="translate(437.5 507.5)"/>
     <path class="c5" d="M -0 4.24 L 4.24 0 L 0 -4.24 L -4.24 -0 z" transform="translate(437.5 508.5)"/>
     <path class="c5" d="M -0 4.24 L 4.24 0 L 0 -4.24 L -4.24 -0 z" transform="translate(477.5 476.5)"/>
     <path class="c5" d="M -0 4.24 L 4.24 0 L 0 -4.24 L -4.24 -0 z" transform="translate(477.5 477.5)"/>
     <path class="c5" d="M -0 4.24 L 4.24 0 L 0 -4.24 L -4.24 -0 z" transform="translate(477.5 484.5)"/>
     <path class="c5" d="M -0 4.24 L 4.24 0 L 0 -4.24 L -4.24 -0 z" transform="translate(477.5 490.5)"/>
     <path class="c5" d="M -0 4.24 L 4.24 0 L 0 -4.24 L -4.24 -0 z" transform="translate(477.5 492.5)"/>
    </g>
   </g>
   <g id="PathCollection_39">
    <g clip-path="url(#p87373a7016)">
     <path class="c6" d="M 0 0 L 0 -3 M 0 0 L -2.4 1.5 M 0 0 L 2.4 1.5" transform="translate(357.5 565.5)"/>
     <path class="c6" d="M 0 0 L 0 -3 M 0 0 L -2.4 1.5 M 0 0 L 2.4 1.5" transform="translate(357.5 565.5)"/>
     <path class="c6" d="M 0 0 L 0 -3 M 0 0 L -2.4 1.5 M 0 0 L 2.4 1.5" transform="translate(357.5 567.5)"/>
     <path class="c6" d="M 0 0 L 0 -3 M 0 0 L -2.4 1.5 M 0 0 L 2.4 1.5" transform="translate(357.5 568.5)"/>
     <path class="c6" d="M 0 0 L 0 -3 M 0 0 L -2.4 1.5 M 0 0 L 2.4 1.5" transform="translate(357.5 569.5)"/>
     <path class="c6" d="M 0 0 L 0 -3 M 0 0 L -2.4 1.5 M 0 0 L 2.4 1.5" transform="translate(397.5 561.5)"/>
     <path class="c6" d="M 0 0 L 0 -3 M 0 0 L -2.4 1.5 M 0 0 L 2.4 1.5" transform="translate(397.5 561.5)"/>
     <path class="c6" d="M 0 0 L 0 -3 M 0 0 L -2.4 1.5 M 0 0 L 2.4 1.5" transform="translate(397.5 563.5)"/>
     <path class="c6" d="M 0 0 L 0 -3 M 0 0 L -2.4 1.5 M 0 0 L 2.4 1.5" transform="translate(397.5 564.5)"/>
     <path class="c6" d="M 0 0 L 0 -3 M 0 0 L -2.4 1.5 M 0 0 L 2.4 1.5" transform="translate(397.5 565.5)"/>
     <path class="c6" d="M 0 0 L 0 -3 M 0 0 L -2.4 1.5 M 0 0 L 2.4 1.5" transform="translate(437.5 556.5)"/>
     <path class="c6" d="M 0 0 L 0 -3 M 0 0 L -2.4 1.5 M 0 0 L 2.4 1.5" transform="translate(437.5 556.5)"/>
     <path class="c6" d="M 0 0 L 0 -3 M 0 0 L -2.4 1.5 M 0 0 L 2.4 1.5" transform="translate(437.5 560.5)"/>
     <path class="c6" d="M 0 0 L 0 -3 M 0 0 L -2.4 1.5 M 0 0 L 2.4 1.5" transform="translate(437.5 563.5)"/>
     <path class="c6" d="M 0 0 L 0 -3 M 0 0 L -2.4 1.5 M 0 0 L 2.4 1.5" transform="translate(437.5 564.5)"/>
     <path class="c6" d="M 0 0 L 0 -3 M 0 0 L -2.4 1.5 M 0 0 L 2.4 1.5" transform="translate(477.5 548.5)"/>
     <path class="c6" d="M 0 0 L 0 -3 M 0 0 L -2.4 1.5 M 0 0 L 2.4 1.5" transform="translate(477.5 549.5)"/>
     <path class="c6" d="M 0 0 L 0 -3 M 0 0 L -2.4 1.5 M 0 0 L 2.4 1.5" transform="translate(477.5 552.5)"/>
     <path class="c6" d="M 0 0 L 0 -3 M 0 0 L -2.4 1.5 M 0 0 L 2.4 1.5" transform="translate(477.5 555.5)"/>
     <path class="c6" d="M 0 0 L 0 -3 M 0 0 L -2.4 1.5 M 0 0 L 2.4 1.5" transform="translate(477.5 557.5)"/>
    </g>
   </g>
   <g id="PathCollection_40">
    <g clip-path="url(#p87373a7016)">
     <path class="c7" d="M 0 0 L -3 -0 M 0 0 L 1.5 2.4 M 0 0 L 1.5 -2.4" transform="translate(357.5 569.5)"/>
     <path class="c7" d="M 0 0 L -3 -0 M 0 0 L 1.5 2.4 M 0 0 L 1.5 -2.4" transform="translate(357.5 569.5)"/>
     <path class="c7" d="M 0 0 L -3 -0 M 0 0 L 1.5 2.4 M 0 0 L 1.5 -2.4" transform="translate(357.5 569.5)"/>
     <path class="c7" d="M 0 0 L -3 -0 M 0 0 L 1.5 2.4 M 0 0 L 1.5 -2.4" transform="translate(357.5 569.5)"/>
     <path class="c7" d="M 0 0 L -3 -0 M 0 0 L 1.5 2.4 M 0 0 L 1.5 -2.4" transform="translate(357.5 570.5)"/>
     <path class="c7" d="M 0 0 L -3 -0 M 0 0 L 1.5 2.4 M 0 0 L 1.5 -2.4" transform="translate(397.5 569.5)"/>
     <path class="c7" d="M 0 0 L -3 -0 M 0 0 L 1.5 2.4 M 0 0 L 1.5 -2.4" transform="translate(397.5 569.5)"/>
     <path class="c7" d="M 0 0 L -3 -0 M 0 0 L 1.5 2.4 M 0 0 L 1.5 -2.4" transform="translate(397.5 569.5)"/>
     <path class="c7" d="M 0 0 L -3 -0 M 0 0 L 1.5 2.4 M 0 0 L 1.5 -2.4" transform="translate(397.5 569.5)"/>
     <path class="c7" d="M 0 0 L -3 -0 M 0 0 L 1.5 2.4 M 0 0 L 1.5 -2.4" transform="translate(397.5 570.5)"/>
     <path class="c7" d="M 0 0 L -3 -0 M 0 0 L 1.5 2.4 M 0 0 L 1.5 -2.4" transform="translate(437.5 567.5)"/>
     <path class="c7" d="M 0 0 L -3 -0 M 0 0 L 1.5 2.4 M 0 0 L 1.5 -2.4" transform="translate(437.5 567.5)"/>
     <path class="c7" d="M 0 0 L -3 -0 M 0 0 L 1.5 2.4 M 0 0 L 1.5 -2.4" transform="translate(437.5 568.5)"/>
     <path class="c7" d="M 0 0 L -3 -0 M 0 0 L 1.5 2.4 M 0 0 L 1.5 -2.4" transform="translate(437.5 568.5)"/>
     <path class="c7" d="M 0 0 L -3 -0 M 0 0 L 1.5 2.4 M 0 0 L 1.5 -2.4" transform="translate(437.5 569.5)"/>
     <path class="c7" d="M 0 0 L -3 -0 M 0 0 L 1.5 2.4 M 0 0 L 1.5 -2.4" transform="translate(477.5 563.5)"/>
     <path class="c7" d="M 0 0 L -3 -0 M 0 0 L 1.5 2.4 M 0 0 L 1.5 -2.4" transform="translate(477.5 563.5)"/>
     <path class="c7" d="M 0 0 L -3 -0 M 0 0 L 1.5 2.4 M 0 0 L 1.5 -2.4" transform="translate(477.5 564.5)"/>
     <path class="c7" d="M 0 0 L -3 -0 M 0 0 L 1.5 2.4 M 0 0 L 1.5 -2.4" transform="translate(477.5 565.5)"/>
     <path class="c7" d="M 0 0 L -3 -0 M 0 0 L 1.5 2.4 M 0 0 L 1.5 -2.4" transform="translate(477.5 566.5)"/>
    </g>
   </g>
   <g id="matplotlib.axis_9">
    <g id="xtick_84">
     <g id="line2d_132">
      <g>
       <path class="c8" d="M 0 0 L 0 3.5" transform="translate(357.5 570.5)"/>
      </g>
     </g>
     <g id="text_51">
      <text style="font-size: 10px; font-family: 'DejaVu Sans', 'Liberation Sans', sans-serif; text-anchor: middle" x="357.00" y="586.10">4</text>
     </g>
    </g>
    <g id="xtick_85">
     <g id="line2d_133">
      <g>
       <path class="c8" d="M 0 0 L 0 3.5" transform="translate(397.5 570.5)"/>
      </g>
     </g>
     <g id="text_52">
      <text style="font-size: 10px; font-family: 'DejaVu Sans', 'Liberation Sans', sans-serif; text-anchor: middle" x="397.00" y="586.10">8</text>
     </g>
    </g>
    <g id="xtick_86">
     <g id="line2d_134">
      <g>
       <path class="c8" d="M 0 0 L 0 3.5" transform="translate(437.5 570.5)"/>
      </g>
     </g>
     <g id="text_53">
      <text style="font-size: 10px; font-family: 'DejaVu Sans', 'Liberation Sans', sans-serif; text-anchor: middle" x="437.00" y="586.10">16</text>
     </g>
    </g>
    <g id="xtick_87">
     <g id="line2d_135">
      <g>
       <path class="c8" d="M 0 0 L 0 3.5" transform="translate(477.5 570.5)"/>
      </g>
     </g>
     <g id="text_54">
      <text style="font-size: 10px; font-family: 'DejaVu Sans', 'Liberation Sans', sans-serif; text-anchor: middle" x="477.00" y="586.10">32</text>
     </g>
    </g>
    <g id="xtick_88">
     <g id="line2d_136">
      <g>
       <path class="c8" d="M 0 0 L 0 3.5" transform="translate(517.5 570.5)"/>
      </g>
     </g>
     <g id="text_55">
      <text style="font-size: 10px; font-family: 'DejaVu Sans', 'Liberation Sans', sans-serif; text-anchor: middle" x="517.00" y="586.10">64</text>
     </g>
    </g>
    <g id="xtick_89">
     <g id="line2d_137">
      <g>
       <path class="c8" d="M 0 0 L 0 3.5" transform="translate(557.5 570.5)"/>
      </g>
     </g>
     <g id="text_56">
      <text style="font-size: 10px; font-family: 'DejaVu Sans', 'Liberation Sans', sans-serif; text-anchor: middle" x="557.00" y="586.10">128</text>
     </g>
    </g>
    <g id="xtick_90">
     <g id="line2d_138">
      <g>
       <path class="c8" d="M 0 0 L 0 3.5" transform="translate(597.5 570.5)"/>
      </g>
     </g>
     <g id="text_57">
      <text style="font-size: 10px; font-family: 'DejaVu Sans', 'Liberation Sans', sans-serif; text-anchor: middle" x="597.00" y="586.10">256</text>
     </g>
    </g>
    <g id="xtick_91">
     <g id="line2d_139">
      <g>
       <path class="c9" d="M 0 0 L 0 2" transform="translate(370.5 570.5)"/>
      </g>
     </g>
    </g>
    <g id="xtick_92">
     <g id="line2d_140">
      <g>
       <path class="c9" d="M 0 0 L 0 2" transform="translate(380.5 570.5)"/>
      </g>
     </g>
    </g>
    <g id="xtick_93">
     <g id="line2d_141">
      <g>
       <path class="c9" d="M 0 0 L 0 2" transform="translate(389.5 570.5)"/>
      </g>
     </g>
    </g>
    <g id="xtick_94">
     <g id="line2d_142">
      <g>
       <path class="c9" d="M 0 0 L 0 2" transform="translate(404.5 570.5)"/>
      </g>
     </g>
    </g>
    <g id="xtick_95">
     <g id="line2d_143">
      <g>
       <path class="c9" d="M 0 0 L 0 2" transform="translate(450.5 570.5)"/>
      </g>
     </g>
    </g>
    <g id="xtick_96">
     <g id="line2d_144">
      <g>
       <path class="c9" d="M 0 0 L 0 2" transform="translate(473.5 570.5)"/>
      </g>
     </g>
    </g>
    <g id="xtick_97">
     <g id="line2d_145">
      <g>
       <path class="c9" d="M 0 0 L 0 2" transform="translate(490.5 570.5)"/>
      </g>
     </g>
    </g>
    <g id="xtick_98">
     <g id="line2d_146">
      <g>
       <path class="c9" d="M 0 0 L 0 2" transform="translate(503.5 570.5)"/>
      </g>
     </g>
    </g>
    <g id="xtick_99">
     <g id="line2d_147">
      <g>
       <path class="c9" d="M 0 0 L 0 2" transform="translate(513.5 570.5)"/>
      </g>
     </g>
    </g>
    <g id="xtick_100">
     <g id="line2d_148">
      <g>
       <path class="c9" d="M 0 0 L 0 2" transform="translate(522.5 570.5)"/>
      </g>
     </g>
    </g>
    <g id="xtick_101">
     <g id="line2d_149">
      <g>
       <path class="c9" d="M 0 0 L 0 2" transform="translate(530.5 570.5)"/>
      </g>
     </g>
    </g>
    <g id="xtick_102">
     <g id="line2d_150">
      <g>
       <path class="c9" d="M 0 0 L 0 2" transform="translate(537.5 570.5)"/>
      </g>
     </g>
    </g>
    <g id="xtick_103">
     <g id="line2d_151">
      <g>
       <path class="c9" d="M 0 0 L 0 2" transform="translate(583.5 570.5)"/>
      </g>
     </g>
    </g>
    <g id="text_58">
     <text style="font-size: 16px; font-family: 'DejaVu Sans', 'Liberation Sans', sans-serif; text-anchor: middle" x="473.50" y="604.34">Training Examples per Class</text>
    </g>
   </g>
   <g id="matplotlib.axis_10">
    <g id="ytick_17">
     <g id="line2d_152">
      <g>
       <path class="c8" d="M 0 0 L -3.5 0" transform="translate(351.5 570.5)"/>
      </g>
     </g>
     <g id="text_59">
      <text style="font-size: 10px; font-family: 'DejaVu Sans', 'Liberation Sans', sans-serif; text-anchor: end" x="344.10" y="575.10">0.5</text>
     </g>
    </g>
    <g id="ytick_18">
     <g id="line2d_153">
      <g>
       <path class="c8" d="M 0 0 L -3.5 0" transform="translate(351.5 517.5)"/>
      </g>
     </g>
     <g id="text_60">
      <text style="font-size: 10px; font-family: 'DejaVu Sans', 'Liberation Sans', sans-serif; text-anchor: end" x="344.10" y="522.08">0.75</text>
     </g>
    </g>
    <g id="ytick_19">
     <g id="line2d_154">
      <g>
       <path class="c8" d="M 0 0 L -3.5 0" transform="translate(351.5 464.5)"/>
      </g>
     </g>
     <g id="text_61">
      <text style="font-size: 10px; font-family: 'DejaVu Sans', 'Liberation Sans', sans-serif; text-anchor: end" x="344.10" y="469.06">0.9</text>
     </g>
    </g>
    <g id="ytick_20">
     <g id="line2d_155">
      <g>
       <path class="c8" d="M 0 0 L -3.5 0" transform="translate(351.5 348.5)"/>
      </g>
     </g>
     <g id="text_62">
      <text style="font-size: 10px; font-family: 'DejaVu Sans', 'Liberation Sans', sans-serif; text-anchor: end" x="344.10" y="353.34">0.99</text>
     </g>
    </g>
   </g>
   <g id="line2d_156">
    <path d="M 357.5 464.9 L 397.5 443.7 L 437.5 432.3 L 477.5 424.5" clip-path="url(#p87373a7016)" style="fill: none; stroke: #daa520; stroke-width: 2; stroke-linecap: square"/>
   </g>
   <g id="line2d_157">
    <path d="M 357.5 461.2 L 397.5 440 L 437.5 426.1 L 477.5 417.6" clip-path="url(#p87373a7016)" style="fill: none; stroke: #1e90ff; stroke-width: 2; stroke-linecap: square"/>
   </g>
   <g id="line2d_158">
    <path d="M 357.5 497.7 L 397.5 479.1 L 437.5 463.6 L 477.5 454.3" clip-path="url(#p87373a7016)" style="fill: none; stroke: #0000ff; stroke-width: 2; stroke-linecap: square"/>
   </g>
   <g id="line2d_159">
    <path d="M 357.5 517.1 L 397.5 499.8 L 437.5 478.7 L 477.5 460" clip-path="url(#p87373a7016)" style="fill: none; stroke: #ff7f50; stroke-width: 2; stroke-linecap: square"/>
   </g>
   <g id="line2d_160">
    <path d="M 357.5 525.9 L 397.5 512.2 L 437.5 492.8 L 477.5 480" clip-path="url(#p87373a7016)" style="fill: none; stroke: #008000; stroke-width: 2; stroke-linecap: square"/>
   </g>
   <g id="line2d_161">
    <path d="M 357.5 541.9 L 397.5 527.2 L 437.5 505.2 L 477.5 485.2" clip-path="url(#p87373a7016)" style="fill: none; stroke: #ffc0cb; stroke-width: 2; stroke-linecap: square"/>
   </g>
   <g id="line2d_162">
    <path d="M 357.5 567.2 L 397.5 563.9 L 437.5 559.8 L 477.5 553" clip-path="url(#p87373a7016)" style="fill: none; stroke: #800080; stroke-width: 2; stroke-linecap: square"/>
   </g>
   <g id="line2d_163">
    <path d="M 357.5 569.6 L 397.5 569.3 L 437.5 568 L 477.5 564.7" clip-path="url(#p87373a7016)" style="fill: none; stroke: #8b0000; stroke-width: 2; stroke-linecap: square"/>
   </g>
   <g id="patch_23">
    <path d="M 351.5 570.5 L 351.5 323.5" style="fill: none; stroke: #000000; stroke-width: 0.8; stroke-linejoin: miter; stroke-linecap: square"/>
   </g>
   <g id="patch_24">
    <path d="M 597.5 570.5 L 597.5 323.5" style="fill: none; stroke: #000000; stroke-width: 0.8; stroke-linejoin: miter; stroke-linecap: square"/>
   </g>
   <g id="patch_25">
    <path d="M 351.5 570.5 L 597.5 570.5" style="fill: none; stroke: #000000; stroke-width: 0.8; stroke-linejoin: miter; stroke-linecap: square"/>
   </g>
   <g id="patch_26">
    <path d="M 351.5 323.5 L 597.5 323.5" style="fill: none; stroke: #000000; stroke-width: 0.8; stroke-linejoin: miter; stroke-linecap: square"/>
   </g>
   <g id="text_63">
    <text style="font-size: 18px; font-family: 'DejaVu Sans', 'Liberation Sans', sans-serif; text-anchor: middle" x="474.00" y="317.50">RFCX Frog Species</text>
   </g>
   <g id="legend_1">
    <g id="patch_27">
     <path d="M 498.98 565.5 L 590.5 565.5 Q 592.5 565.5 592.5 563.5 L 592.5 444.58 Q 592.5 442.58 590.5 442.58 L 498.98 442.58 Q 496.98 442.58 496.98 444.58 L 496.98 563.5 Q 496.98 565.5 498.98 565.5 z" style="fill: #ffffff; opacity: 0.8; stroke: #cccccc; stroke-linejoin: miter"/>
    </g>
    <g id="line2d_164">
     <path d="M 501.28 450.98 L 511.28 450.98 L 521.28 450.98" style="fill: none; stroke: #daa520; stroke-width: 2; stroke-linecap: square"/>
     
     <g>
      <path class="c10" d="M 0 -4 L -4 4 L 4 4 z" transform="translate(511.5 450.5)"/>
     </g>
    </g>
    <g id="text_64">
     <text style="font-size: 10px; font-family: 'DejaVu Sans', 'Liberation Sans', sans-serif; text-anchor: start" x="529.29" y="455.38">BirdNET 2.3</text>
    </g>
    <g id="line2d_165">
     <path d="M 501.28 465.93 L 511.28 465.93 L 521.28 465.93" style="fill: none; stroke: #1e90ff; stroke-width: 2; stroke-linecap: square"/>
     
     <g>
      <path class="c11" d="M -1.33 4 L 1.33 4 L 1.33 1.33 L 4 1.33 L 4 -1.33 L 1.33 -1.33 L 1.33 -4 L -1.33 -4 L -1.33 -1.33 L -4 -1.33 L -4 1.33 L -1.33 1.33 z" transform="translate(511.5 465.5)"/>
     </g>
    </g>
    <g id="text_65">
     <text style="font-size: 10px; font-family: 'DejaVu Sans', 'Liberation Sans', sans-serif; text-anchor: start" x="529.29" y="470.33">Perch</text>
    </g>
    <g id="line2d_166">
     <path d="M 501.28 480.87 L 511.28 480.87 L 521.28 480.87" style="fill: none; stroke: #0000ff; stroke-width: 2; stroke-linecap: square"/>
     
     <g>
      <path class="c12" d="M 0 0 L 4 0 M 0 0 L -2 -3.2 M 0 0 L -2 3.2" transform="translate(511.5 480.5)"/>
     </g>
    </g>
    <g id="text_66">
     <text style="font-size: 10px; font-family: 'DejaVu Sans', 'Liberation Sans', sans-serif; text-anchor: start" x="529.29" y="485.28">Sierras</text>
    </g>
    <g id="line2d_167">
     <path d="M 501.28 495.82 L 511.28 495.82 L 521.28 495.82" style="fill: none; stroke: #ff7f50; stroke-width: 2; stroke-linecap: square"/>
     
     <g>
      <circle class="c13" cx="511.5" cy="495.5" r="4"/>
     </g>
    </g>
    <g id="text_67">
     <text style="font-size: 10px; font-family: 'DejaVu Sans', 'Liberation Sans', sans-serif; text-anchor: start" x="529.29" y="500.23">AudioMAE</text>
    </g>
    <g id="line2d_168">
     <path d="M 501.28 510.77 L 511.28 510.77 L 521.28 510.77" style="fill: none; stroke: #008000; stroke-width: 2; stroke-linecap: square"/>
     
     <g>
      <path class="c14" d="M -0 5.65 L 3.39 0 L 0 -5.65 L -3.39 -0 z" transform="translate(511.5 510.5)"/>
     </g>
    </g>
    <g id="text_68">
     <text style="font-size: 10px; font-family: 'DejaVu Sans', 'Liberation Sans', sans-serif; text-anchor: start" x="529.29" y="515.18">Yamnet</text>
    </g>
    <g id="line2d_169">
     <path d="M 501.28 525.72 L 511.28 525.72 L 521.28 525.72" style="fill: none; stroke: #ffc0cb; stroke-width: 2; stroke-linecap: square"/>
     
     <g>
      <path class="c15" d="M -0 5.65 L 5.65 0 L 0 -5.65 L -5.65 -0 z" transform="translate(511.5 525.5)"/>
     </g>
    </g>
    <g id="text_69">
     <text style="font-size: 10px; font-family: 'DejaVu Sans', 'Liberation Sans', sans-serif; text-anchor: start" x="529.29" y="530.12">VGGish</text>
    </g>
    <g id="line2d_170">
     <path d="M 501.28 540.67 L 511.28 540.67 L 521.28 540.67" style="fill: none; stroke: #800080; stroke-width: 2; stroke-linecap: square"/>
     
     <g>
      <path class="c16" d="M 0 0 L 0 -4 M 0 0 L -3.2 2 M 0 0 L 3.2 2" transform="translate(511.5 540.5)"/>
     </g>
    </g>
    <g id="text_70">
     <text style="font-size: 10px; font-family: 'DejaVu Sans', 'Liberation Sans', sans-serif; text-anchor: start" x="529.29" y="545.07">PSLA</text>
    </g>
    <g id="line2d_171">
     <path d="M 501.28 555.62 L 511.28 555.62 L 521.28 555.62" style="fill: none; stroke: #8b0000; stroke-width: 2; stroke-linecap: square"/>
     
     <g>
      <path class="c17" d="M 0 0 L -4 -0 M 0 0 L 2 3.2 M 0 0 L 2 -3.2" transform="translate(511.5 555.5)"/>
     </g>
    </g>
    <g id="text_71">
     <text style="font-size: 10px; font-family: 'DejaVu Sans', 'Liberation Sans', sans-serif; text-anchor: start" x="529.29" y="560.02">Beans</text>
    </g>
   </g>
  </g>
  <g id="axes_6">
   <g id="patch_28">
    <path d="M 646.5 570.5 L 893.5 570.5 L 893.5 323.5 L 646.5 323.5 z" style="fill: #ffffff"/>
   </g>
   <g id="PathCollection_41">
    <g clip-path="url(#p962322228d)">
     <path class="c0" d="M 0 -3 L -3 3 L 3 3 z" transform="translate(652.5 446.5)"/>
     <path class="c0" d="M 0 -3 L -3 3 L 3 3 z" transform="translate(652.5 448.5)"/>
     <path class="c0" d="M 0 -3 L -3 3 L 3 3 z" transform="translate(652.5 454.5)"/>
     <path class="c0" d="M 0 -3 L -3 3 L 3 3 z" transform="translate(652.5 460.5)"/>
     <path class="c0" d="M 0 -3 L -3 3 L 3 3 z" transform="translate(652.5 462.5)"/>
     <path class="c0" d="M 0 -3 L -3 3 L 3 3 z" transform="translate(692.5 428.5)"/>
     <path class="c0" d="M 0 -3 L -3 3 L 3 3 z" transform="translate(692.5 429.5)"/>
     <path class="c0" d="M 0 -3 L -3 3 L 3 3 z" transform="translate(692.5 433.5)"/>
     <path class="c0" d="M 0 -3 L -3 3 L 3 3 z" transform="translate(692.5 437.5)"/>
     <path class="c0" d="M 0 -3 L -3 3 L 3 3 z" transform="translate(692.5 439.5)"/>
     <path class="c0" d="M 0 -3 L -3 3 L 3 3 z" transform="translate(732.5 417.5)"/>
     <path class="c0" d="M 0 -3 L -3 3 L 3 3 z" transform="translate(732.5 418.5)"/>
     <path class="c0" d="M 0 -3 L -3 3 L 3 3 z" transform="translate(732.5 423.5)"/>
     <path class="c0" d="M 0 -3 L -3 3 L 3 3 z" transform="translate(732.5 427.5)"/>
     <path class="c0" d="M 0 -3 L -3 3 L 3 3 z" transform="translate(732.5 429.5)"/>
     <path class="c0" d="M 0 -3 L -3 3 L 3 3 z" transform="translate(772.5 402.5)"/>
     <path class="c0" d="M 0 -3 L -3 3 L 3 3 z" transform="translate(772.5 405.5)"/>
     <path class="c0" d="M 0 -3 L -3 3 L 3 3 z" transform="translate(772.5 428.5)"/>
     <path class="c0" d="M 0 -3 L -3 3 L 3 3 z" transform="translate(772.5 433.5)"/>
     <path class="c0" d="M 0 -3 L -3 3 L 3 3 z" transform="translate(772.5 437.5)"/>
    </g>
   </g>
   <g id="PathCollection_42">
    <g clip-path="url(#p962322228d)">
     <path class="c1" d="M -1 3 L 1 3 L 1 1 L 3 1 L 3 -1 L 1 -1 L 1 -3 L -1 -3 L -1 -1 L -3 -1 L -3 1 L -1 1 z" transform="translate(652.5 444.5)"/>
     <path class="c1" d="M -1 3 L 1 3 L 1 1 L 3 1 L 3 -1 L 1 -1 L 1 -3 L -1 -3 L -1 -1 L -3 -1 L -3 1 L -1 1 z" transform="translate(652.5 445.5)"/>
     <path class="c1" d="M -1 3 L 1 3 L 1 1 L 3 1 L 3 -1 L 1 -1 L 1 -3 L -1 -3 L -1 -1 L -3 -1 L -3 1 L -1 1 z" transform="translate(652.5 449.5)"/>
     <path class="c1" d="M -1 3 L 1 3 L 1 1 L 3 1 L 3 -1 L 1 -1 L 1 -3 L -1 -3 L -1 -1 L -3 -1 L -3 1 L -1 1 z" transform="translate(652.5 453.5)"/>
     <path class="c1" d="M -1 3 L 1 3 L 1 1 L 3 1 L 3 -1 L 1 -1 L 1 -3 L -1 -3 L -1 -1 L -3 -1 L -3 1 L -1 1 z" transform="translate(652.5 454.5)"/>
     <path class="c1" d="M -1 3 L 1 3 L 1 1 L 3 1 L 3 -1 L 1 -1 L 1 -3 L -1 -3 L -1 -1 L -3 -1 L -3 1 L -1 1 z" transform="translate(692.5 421.5)"/>
     <path class="c1" d="M -1 3 L 1 3 L 1 1 L 3 1 L 3 -1 L 1 -1 L 1 -3 L -1 -3 L -1 -1 L -3 -1 L -3 1 L -1 1 z" transform="translate(692.5 423.5)"/>
     <path class="c1" d="M -1 3 L 1 3 L 1 1 L 3 1 L 3 -1 L 1 -1 L 1 -3 L -1 -3 L -1 -1 L -3 -1 L -3 1 L -1 1 z" transform="translate(692.5 428.5)"/>
     <path class="c1" d="M -1 3 L 1 3 L 1 1 L 3 1 L 3 -1 L 1 -1 L 1 -3 L -1 -3 L -1 -1 L -3 -1 L -3 1 L -1 1 z" transform="translate(692.5 434.5)"/>
     <path class="c1" d="M -1 3 L 1 3 L 1 1 L 3 1 L 3 -1 L 1 -1 L 1 -3 L -1 -3 L -1 -1 L -3 -1 L -3 1 L -1 1 z" transform="translate(692.5 436.5)"/>
     <path class="c1" d="M -1 3 L 1 3 L 1 1 L 3 1 L 3 -1 L 1 -1 L 1 -3 L -1 -3 L -1 -1 L -3 -1 L -3 1 L -1 1 z" transform="translate(732.5 393.5)"/>
     <path class="c1" d="M -1 3 L 1 3 L 1 1 L 3 1 L 3 -1 L 1 -1 L 1 -3 L -1 -3 L -1 -1 L -3 -1 L -3 1 L -1 1 z" transform="translate(732.5 404.5)"/>
     <path class="c1" d="M -1 3 L 1 3 L 1 1 L 3 1 L 3 -1 L 1 -1 L 1 -3 L -1 -3 L -1 -1 L -3 -1 L -3 1 L -1 1 z" transform="translate(732.5 407.5)"/>
     <path class="c1" d="M -1 3 L 1 3 L 1 1 L 3 1 L 3 -1 L 1 -1 L 1 -3 L -1 -3 L -1 -1 L -3 -1 L -3 1 L -1 1 z" transform="translate(732.5 410.5)"/>
     <path class="c1" d="M -1 3 L 1 3 L 1 1 L 3 1 L 3 -1 L 1 -1 L 1 -3 L -1 -3 L -1 -1 L -3 -1 L -3 1 L -1 1 z" transform="translate(732.5 412.5)"/>
     <path class="c1" d="M -1 3 L 1 3 L 1 1 L 3 1 L 3 -1 L 1 -1 L 1 -3 L -1 -3 L -1 -1 L -3 -1 L -3 1 L -1 1 z" transform="translate(772.5 388.5)"/>
     <path class="c1" d="M -1 3 L 1 3 L 1 1 L 3 1 L 3 -1 L 1 -1 L 1 -3 L -1 -3 L -1 -1 L -3 -1 L -3 1 L -1 1 z" transform="translate(772.5 392.5)"/>
     <path class="c1" d="M -1 3 L 1 3 L 1 1 L 3 1 L 3 -1 L 1 -1 L 1 -3 L -1 -3 L -1 -1 L -3 -1 L -3 1 L -1 1 z" transform="translate(772.5 396.5)"/>
     <path class="c1" d="M -1 3 L 1 3 L 1 1 L 3 1 L 3 -1 L 1 -1 L 1 -3 L -1 -3 L -1 -1 L -3 -1 L -3 1 L -1 1 z" transform="translate(772.5 406.5)"/>
     <path class="c1" d="M -1 3 L 1 3 L 1 1 L 3 1 L 3 -1 L 1 -1 L 1 -3 L -1 -3 L -1 -1 L -3 -1 L -3 1 L -1 1 z" transform="translate(772.5 411.5)"/>
    </g>
   </g>
   <g id="PathCollection_43">
    <g clip-path="url(#p962322228d)">
     <path class="c2" d="M 0 0 L 3 0 M 0 0 L -1.5 -2.4 M 0 0 L -1.5 2.4" transform="translate(652.5 496.5)"/>
     <path class="c2" d="M 0 0 L 3 0 M 0 0 L -1.5 -2.4 M 0 0 L -1.5 2.4" transform="translate(652.5 498.5)"/>
     <path class="c2" d="M 0 0 L 3 0 M 0 0 L -1.5 -2.4 M 0 0 L -1.5 2.4" transform="translate(652.5 502.5)"/>
     <path class="c2" d="M 0 0 L 3 0 M 0 0 L -1.5 -2.4 M 0 0 L -1.5 2.4" transform="translate(652.5 507.5)"/>
     <path class="c2" d="M 0 0 L 3 0 M 0 0 L -1.5 -2.4 M 0 0 L -1.5 2.4" transform="translate(652.5 508.5)"/>
     <path class="c2" d="M 0 0 L 3 0 M 0 0 L -1.5 -2.4 M 0 0 L -1.5 2.4" transform="translate(692.5 473.5)"/>
     <path class="c2" d="M 0 0 L 3 0 M 0 0 L -1.5 -2.4 M 0 0 L -1.5 2.4" transform="translate(692.5 475.5)"/>
     <path class="c2" d="M 0 0 L 3 0 M 0 0 L -1.5 -2.4 M 0 0 L -1.5 2.4" transform="translate(692.5 480.5)"/>
     <path class="c2" d="M 0 0 L 3 0 M 0 0 L -1.5 -2.4 M 0 0 L -1.5 2.4" transform="translate(692.5 485.5)"/>
     <path class="c2" d="M 0 0 L 3 0 M 0 0 L -1.5 -2.4 M 0 0 L -1.5 2.4" transform="translate(692.5 487.5)"/>
     <path class="c2" d="M 0 0 L 3 0 M 0 0 L -1.5 -2.4 M 0 0 L -1.5 2.4" transform="translate(732.5 455.5)"/>
     <path class="c2" d="M 0 0 L 3 0 M 0 0 L -1.5 -2.4 M 0 0 L -1.5 2.4" transform="translate(732.5 457.5)"/>
     <path class="c2" d="M 0 0 L 3 0 M 0 0 L -1.5 -2.4 M 0 0 L -1.5 2.4" transform="translate(732.5 461.5)"/>
     <path class="c2" d="M 0 0 L 3 0 M 0 0 L -1.5 -2.4 M 0 0 L -1.5 2.4" transform="translate(732.5 464.5)"/>
     <path class="c2" d="M 0 0 L 3 0 M 0 0 L -1.5 -2.4 M 0 0 L -1.5 2.4" transform="translate(732.5 466.5)"/>
     <path class="c2" d="M 0 0 L 3 0 M 0 0 L -1.5 -2.4 M 0 0 L -1.5 2.4" transform="translate(772.5 419.5)"/>
     <path class="c2" d="M 0 0 L 3 0 M 0 0 L -1.5 -2.4 M 0 0 L -1.5 2.4" transform="translate(772.5 430.5)"/>
     <path class="c2" d="M 0 0 L 3 0 M 0 0 L -1.5 -2.4 M 0 0 L -1.5 2.4" transform="translate(772.5 444.5)"/>
     <path class="c2" d="M 0 0 L 3 0 M 0 0 L -1.5 -2.4 M 0 0 L -1.5 2.4" transform="translate(772.5 454.5)"/>
     <path class="c2" d="M 0 0 L 3 0 M 0 0 L -1.5 -2.4 M 0 0 L -1.5 2.4" transform="translate(772.5 440.5)"/>
    </g>
   </g>
   <g id="PathCollection_44">
    <g clip-path="url(#p962322228d)">
     <circle class="c3" cx="652.5" cy="521.5" r="3"/>
     <circle class="c3" cx="652.5" cy="521.5" r="3"/>
     <circle class="c3" cx="652.5" cy="522.5" r="3"/>
     <circle class="c3" cx="652.5" cy="523.5" r="3"/>
     <circle class="c3" cx="652.5" cy="524.5" r="3"/>
     <circle class="c3" cx="692.5" cy="503.5" r="3"/>
     <circle class="c3" cx="692.5" cy="503.5" r="3"/>
     <circle class="c3" cx="692.5" cy="505.5" r="3"/>
     <circle class="c3" cx="692.5" cy="507.5" r="3"/>
     <circle class="c3" cx="692.5" cy="508.5" r="3"/>
     <circle class="c3" cx="732.5" cy="482.5" r="3"/>
     <circle class="c3" cx="732.5" cy="483.5" r="3"/>
     <circle class="c3" cx="732.5" cy="486.5" r="3"/>
     <circle class="c3" cx="732.5" cy="490.5" r="3"/>
     <circle class="c3" cx="732.5" cy="491.5" r="3"/>
     <circle class="c3" cx="772.5" cy="463.5" r="3"/>
     <circle class="c3" cx="772.5" cy="469.5" r="3"/>
     <circle class="c3" cx="772.5" cy="476.5" r="3"/>
     <circle class="c3" cx="772.5" cy="481.5" r="3"/>
     <circle class="c3" cx="772.5" cy="472.5" r="3"/>
    </g>
   </g>
   <g id="PathCollection_45">
    <g clip-path="url(#p962322228d)">
     <path class="c4" d="M -0 4.24 L 2.54 0 L 0 -4.24 L -2.54 -0 z" transform="translate(652.5 516.5)"/>
     <path class="c4" d="M -0 4.24 L 2.54 0 L 0 -4.24 L -2.54 -0 z" transform="translate(652.5 517.5)"/>
     <path class="c4" d="M -0 4.24 L 2.54 0 L 0 -4.24 L -2.54 -0 z" transform="translate(652.5 522.5)"/>
     <path class="c4" d="M -0 4.24 L 2.54 0 L 0 -4.24 L -2.54 -0 z" transform="translate(652.5 527.5)"/>
     <path class="c4" d="M -0 4.24 L 2.54 0 L 0 -4.24 L -2.54 -0 z" transform="translate(652.5 529.5)"/>
     <path class="c4" d="M -0 4.24 L 2.54 0 L 0 -4.24 L -2.54 -0 z" transform="translate(692.5 500.5)"/>
     <path class="c4" d="M -0 4.24 L 2.54 0 L 0 -4.24 L -2.54 -0 z" transform="translate(692.5 502.5)"/>
     <path class="c4" d="M -0 4.24 L 2.54 0 L 0 -4.24 L -2.54 -0 z" transform="translate(692.5 508.5)"/>
     <path class="c4" d="M -0 4.24 L 2.54 0 L 0 -4.24 L -2.54 -0 z" transform="translate(692.5 514.5)"/>
     <path class="c4" d="M -0 4.24 L 2.54 0 L 0 -4.24 L -2.54 -0 z" transform="translate(692.5 517.5)"/>
     <path class="c4" d="M -0 4.24 L 2.54 0 L 0 -4.24 L -2.54 -0 z" transform="translate(732.5 491.5)"/>
     <path class="c4" d="M -0 4.24 L 2.54 0 L 0 -4.24 L -2.54 -0 z" transform="translate(732.5 493.5)"/>
     <path class="c4" d="M -0 4.24 L 2.54 0 L 0 -4.24 L -2.54 -0 z" transform="translate(732.5 498.5)"/>
     <path class="c4" d="M -0 4.24 L 2.54 0 L 0 -4.24 L -2.54 -0 z" transform="translate(732.5 502.5)"/>
     <path class="c4" d="M -0 4.24 L 2.54 0 L 0 -4.24 L -2.54 -0 z" transform="translate(732.5 504.5)"/>
     <path class="c4" d="M -0 4.24 L 2.54 0 L 0 -4.24 L -2.54 -0 z" transform="translate(772.5 478.5)"/>
     <path class="c4" d="M -0 4.24 L 2.54 0 L 0 -4.24 L -2.54 -0 z" transform="translate(772.5 480.5)"/>
     <path class="c4" d="M -0 4.24 L 2.54 0 L 0 -4.24 L -2.54 -0 z" transform="translate(772.5 487.5)"/>
     <path class="c4" d="M -0 4.24 L 2.54 0 L 0 -4.24 L -2.54 -0 z" transform="translate(772.5 494.5)"/>
     <path class="c4" d="M -0 4.24 L 2.54 0 L 0 -4.24 L -2.54 -0 z" transform="translate(772.5 496.5)"/>
    </g>
   </g>
   <g id="PathCollection_46">
    <g clip-path="url(#p962322228d)">
     <path class="c5" d="M -0 4.24 L 4.24 0 L 0 -4.24 L -4.24 -0 z" transform="translate(652.5 539.5)"/>
     <path class="c5" d="M -0 4.24 L 4.24 0 L 0 -4.24 L -4.24 -0 z" transform="translate(652.5 540.5)"/>
     <path class="c5" d="M -0 4.24 L 4.24 0 L 0 -4.24 L -4.24 -0 z" transform="translate(652.5 543.5)"/>
     <path class="c5" d="M -0 4.24 L 4.24 0 L 0 -4.24 L -4.24 -0 z" transform="translate(652.5 547.5)"/>
     <path class="c5" d="M -0 4.24 L 4.24 0 L 0 -4.24 L -4.24 -0 z" transform="translate(652.5 548.5)"/>
     <path class="c5" d="M -0 4.24 L 4.24 0 L 0 -4.24 L -4.24 -0 z" transform="translate(692.5 525.5)"/>
     <path class="c5" d="M -0 4.24 L 4.24 0 L 0 -4.24 L -4.24 -0 z" transform="translate(692.5 526.5)"/>
     <path class="c5" d="M -0 4.24 L 4.24 0 L 0 -4.24 L -4.24 -0 z" transform="translate(692.5 531.5)"/>
     <path class="c5" d="M -0 4.24 L 4.24 0 L 0 -4.24 L -4.24 -0 z" transform="translate(692.5 537.5)"/>
     <path class="c5" d="M -0 4.24 L 4.24 0 L 0 -4.24 L -4.24 -0 z" transform="translate(692.5 538.5)"/>
     <path class="c5" d="M -0 4.24 L 4.24 0 L 0 -4.24 L -4.24 -0 z" transform="translate(732.5 508.5)"/>
     <path class="c5" d="M -0 4.24 L 4.24 0 L 0 -4.24 L -4.24 -0 z" transform="translate(732.5 508.5)"/>
     <path class="c5" d="M -0 4.24 L 4.24 0 L 0 -4.24 L -4.24 -0 z" transform="translate(732.5 511.5)"/>
     <path class="c5" d="M -0 4.24 L 4.24 0 L 0 -4.24 L -4.24 -0 z" transform="translate(732.5 513.5)"/>
     <path class="c5" d="M -0 4.24 L 4.24 0 L 0 -4.24 L -4.24 -0 z" transform="translate(732.5 514.5)"/>
     <path class="c5" d="M -0 4.24 L 4.24 0 L 0 -4.24 L -4.24 -0 z" transform="translate(772.5 491.5)"/>
     <path class="c5" d="M -0 4.24 L 4.24 0 L 0 -4.24 L -4.24 -0 z" transform="translate(772.5 493.5)"/>
     <path class="c5" d="M -0 4.24 L 4.24 0 L 0 -4.24 L -4.24 -0 z" transform="translate(772.5 498.5)"/>
     <path class="c5" d="M -0 4.24 L 4.24 0 L 0 -4.24 L -4.24 -0 z" transform="translate(772.5 502.5)"/>
     <path class="c5" d="M -0 4.24 L 4.24 0 L 0 -4.24 L -4.24 -0 z" transform="translate(772.5 504.5)"/>
    </g>
   </g>
   <g id="PathCollection_47">
    <g clip-path="url(#p962322228d)">
     <path class="c6" d="M 0 0 L 0 -3 M 0 0 L -2.4 1.5 M 0 0 L 2.4 1.5" transform="translate(652.5 562.5)"/>
     <path class="c6" d="M 0 0 L 0 -3 M 0 0 L -2.4 1.5 M 0 0 L 2.4 1.5" transform="translate(652.5 562.5)"/>
     <path class="c6" d="M 0 0 L 0 -3 M 0 0 L -2.4 1.5 M 0 0 L 2.4 1.5" transform="translate(652.5 564.5)"/>
     <path class="c6" d="M 0 0 L 0 -3 M 0 0 L -2.4 1.5 M 0 0 L 2.4 1.5" transform="translate(652.5 566.5)"/>
     <path class="c6" d="M 0 0 L 0 -3 M 0 0 L -2.4 1.5 M 0 0 L 2.4 1.5" transform="translate(652.5 567.5)"/>
     <path class="c6" d="M 0 0 L 0 -3 M 0 0 L -2.4 1.5 M 0 0 L 2.4 1.5" transform="translate(692.5 562.5)"/>
     <path class="c6" d="M 0 0 L 0 -3 M 0 0 L -2.4 1.5 M 0 0 L 2.4 1.5" transform="translate(692.5 562.5)"/>
     <path class="c6" d="M 0 0 L 0 -3 M 0 0 L -2.4 1.5 M 0 0 L 2.4 1.5" transform="translate(692.5 563.5)"/>
     <path class="c6" d="M 0 0 L 0 -3 M 0 0 L -2.4 1.5 M 0 0 L 2.4 1.5" transform="translate(692.5 564.5)"/>
     <path class="c6" d="M 0 0 L 0 -3 M 0 0 L -2.4 1.5 M 0 0 L 2.4 1.5" transform="translate(692.5 565.5)"/>
     <path class="c6" d="M 0 0 L 0 -3 M 0 0 L -2.4 1.5 M 0 0 L 2.4 1.5" transform="translate(732.5 555.5)"/>
     <path class="c6" d="M 0 0 L 0 -3 M 0 0 L -2.4 1.5 M 0 0 L 2.4 1.5" transform="translate(732.5 556.5)"/>
     <path class="c6" d="M 0 0 L 0 -3 M 0 0 L -2.4 1.5 M 0 0 L 2.4 1.5" transform="translate(732.5 559.5)"/>
     <path class="c6" d="M 0 0 L 0 -3 M 0 0 L -2.4 1.5 M 0 0 L 2.4 1.5" transform="translate(732.5 562.5)"/>
     <path class="c6" d="M 0 0 L 0 -3 M 0 0 L -2.4 1.5 M 0 0 L 2.4 1.5" transform="translate(732.5 563.5)"/>
     <path class="c6" d="M 0 0 L 0 -3 M 0 0 L -2.4 1.5 M 0 0 L 2.4 1.5" transform="translate(772.5 541.5)"/>
     <path class="c6" d="M 0 0 L 0 -3 M 0 0 L -2.4 1.5 M 0 0 L 2.4 1.5" transform="translate(772.5 543.5)"/>
     <path class="c6" d="M 0 0 L 0 -3 M 0 0 L -2.4 1.5 M 0 0 L 2.4 1.5" transform="translate(772.5 548.5)"/>
     <path class="c6" d="M 0 0 L 0 -3 M 0 0 L -2.4 1.5 M 0 0 L 2.4 1.5" transform="translate(772.5 554.5)"/>
     <path class="c6" d="M 0 0 L 0 -3 M 0 0 L -2.4 1.5 M 0 0 L 2.4 1.5" transform="translate(772.5 556.5)"/>
    </g>
   </g>
   <g id="PathCollection_48">
    <g clip-path="url(#p962322228d)">
     <path class="c7" d="M 0 0 L -3 -0 M 0 0 L 1.5 2.4 M 0 0 L 1.5 -2.4" transform="translate(652.5 568.5)"/>
     <path class="c7" d="M 0 0 L -3 -0 M 0 0 L 1.5 2.4 M 0 0 L 1.5 -2.4" transform="translate(652.5 568.5)"/>
     <path class="c7" d="M 0 0 L -3 -0 M 0 0 L 1.5 2.4 M 0 0 L 1.5 -2.4" transform="translate(652.5 568.5)"/>
     <path class="c7" d="M 0 0 L -3 -0 M 0 0 L 1.5 2.4 M 0 0 L 1.5 -2.4" transform="translate(652.5 568.5)"/>
     <path class="c7" d="M 0 0 L -3 -0 M 0 0 L 1.5 2.4 M 0 0 L 1.5 -2.4" transform="translate(652.5 569.5)"/>
     <path class="c7" d="M 0 0 L -3 -0 M 0 0 L 1.5 2.4 M 0 0 L 1.5 -2.4" transform="translate(692.5 568.5)"/>
     <path class="c7" d="M 0 0 L -3 -0 M 0 0 L 1.5 2.4 M 0 0 L 1.5 -2.4" transform="translate(692.5 568.5)"/>
     <path class="c7" d="M 0 0 L -3 -0 M 0 0 L 1.5 2.4 M 0 0 L 1.5 -2.4" transform="translate(692.5 568.5)"/>
     <path class="c7" d="M 0 0 L -3 -0 M 0 0 L 1.5 2.4 M 0 0 L 1.5 -2.4" transform="translate(692.5 568.5)"/>
     <path class="c7" d="M 0 0 L -3 -0 M 0 0 L 1.5 2.4 M 0 0 L 1.5 -2.4" transform="translate(692.5 569.5)"/>
     <path class="c7" d="M 0 0 L -3 -0 M 0 0 L 1.5 2.4 M 0 0 L 1.5 -2.4" transform="translate(732.5 566.5)"/>
     <path class="c7" d="M 0 0 L -3 -0 M 0 0 L 1.5 2.4 M 0 0 L 1.5 -2.4" transform="translate(732.5 566.5)"/>
     <path class="c7" d="M 0 0 L -3 -0 M 0 0 L 1.5 2.4 M 0 0 L 1.5 -2.4" transform="translate(732.5 566.5)"/>
     <path class="c7" d="M 0 0 L -3 -0 M 0 0 L 1.5 2.4 M 0 0 L 1.5 -2.4" transform="translate(732.5 566.5)"/>
     <path class="c7" d="M 0 0 L -3 -0 M 0 0 L 1.5 2.4 M 0 0 L 1.5 -2.4" transform="translate(732.5 567.5)"/>
     <path class="c7" d="M 0 0 L -3 -0 M 0 0 L 1.5 2.4 M 0 0 L 1.5 -2.4" transform="translate(772.5 553.5)"/>
     <path class="c7" d="M 0 0 L -3 -0 M 0 0 L 1.5 2.4 M 0 0 L 1.5 -2.4" transform="translate(772.5 553.5)"/>
     <path class="c7" d="M 0 0 L -3 -0 M 0 0 L 1.5 2.4 M 0 0 L 1.5 -2.4" transform="translate(772.5 554.5)"/>
     <path class="c7" d="M 0 0 L -3 -0 M 0 0 L 1.5 2.4 M 0 0 L 1.5 -2.4" transform="translate(772.5 555.5)"/>
     <path class="c7" d="M 0 0 L -3 -0 M 0 0 L 1.5 2.4 M 0 0 L 1.5 -2.4" transform="translate(772.5 556.5)"/>
    </g>
   </g>
   <g id="matplotlib.axis_11">
    <g id="xtick_104">
     <g id="line2d_172">
      <g>
       <path class="c8" d="M 0 0 L 0 3.5" transform="translate(652.5 570.5)"/>
      </g>
     </g>
     <g id="text_72">
      <text style="font-size: 10px; font-family: 'DejaVu Sans', 'Liberation Sans', sans-serif; text-anchor: middle" x="652.00" y="586.10">4</text>
     </g>
    </g>
    <g id="xtick_105">
     <g id="line2d_173">
      <g>
       <path class="c8" d="M 0 0 L 0 3.5" transform="translate(692.5 570.5)"/>
      </g>
     </g>
     <g id="text_73">
      <text style="font-size: 10px; font-family: 'DejaVu Sans', 'Liberation Sans', sans-serif; text-anchor: middle" x="692.00" y="586.10">8</text>
     </g>
    </g>
    <g id="xtick_106">
     <g id="line2d_174">
      <g>
       <path class="c8" d="M 0 0 L 0 3.5" transform="translate(732.5 570.5)"/>
      </g>
     </g>
     <g id="text_74">
      <text style="font-size: 10px; font-family: 'DejaVu Sans', 'Liberation Sans', sans-serif; text-anchor: middle" x="732.00" y="586.10">16</text>
     </g>
    </g>
    <g id="xtick_107">
     <g id="line2d_175">
      <g>
       <path class="c8" d="M 0 0 L 0 3.5" transform="translate(772.5 570.5)"/>
      </g>
     </g>
     <g id="text_75">
      <text style="font-size: 10px; font-family: 'DejaVu Sans', 'Liberation Sans', sans-serif; text-anchor: middle" x="772.00" y="586.10">32</text>
     </g>
    </g>
    <g id="xtick_108">
     <g id="line2d_176">
      <g>
       <path class="c8" d="M 0 0 L 0 3.5" transform="translate(812.5 570.5)"/>
      </g>
     </g>
     <g id="text_76">
      <text style="font-size: 10px; font-family: 'DejaVu Sans', 'Liberation Sans', sans-serif; text-anchor: middle" x="812.00" y="586.10">64</text>
     </g>
    </g>
    <g id="xtick_109">
     <g id="line2d_177">
      <g>
       <path class="c8" d="M 0 0 L 0 3.5" transform="translate(852.5 570.5)"/>
      </g>
     </g>
     <g id="text_77">
      <text style="font-size: 10px; font-family: 'DejaVu Sans', 'Liberation Sans', sans-serif; text-anchor: middle" x="852.00" y="586.10">128</text>
     </g>
    </g>
    <g id="xtick_110">
     <g id="line2d_178">
      <g>
       <path class="c8" d="M 0 0 L 0 3.5" transform="translate(892.5 570.5)"/>
      </g>
     </g>
     <g id="text_78">
      <text style="font-size: 10px; font-family: 'DejaVu Sans', 'Liberation Sans', sans-serif; text-anchor: middle" x="892.00" y="586.10">256</text>
     </g>
    </g>
    <g id="xtick_111">
     <g id="line2d_179">
      <g>
       <path class="c9" d="M 0 0 L 0 2" transform="translate(665.5 570.5)"/>
      </g>
     </g>
    </g>
    <g id="xtick_112">
     <g id="line2d_180">
      <g>
       <path class="c9" d="M 0 0 L 0 2" transform="translate(675.5 570.5)"/>
      </g>
     </g>
    </g>
    <g id="xtick_113">
     <g id="line2d_181">
      <g>
       <path class="c9" d="M 0 0 L 0 2" transform="translate(684.5 570.5)"/>
      </g>
     </g>
    </g>
    <g id="xtick_114">
     <g id="line2d_182">
      <g>
       <path class="c9" d="M 0 0 L 0 2" transform="translate(699.5 570.5)"/>
      </g>
     </g>
    </g>
    <g id="xtick_115">
     <g id="line2d_183">
      <g>
       <path class="c9" d="M 0 0 L 0 2" transform="translate(745.5 570.5)"/>
      </g>
     </g>
    </g>
    <g id="xtick_116">
     <g id="line2d_184">
      <g>
       <path class="c9" d="M 0 0 L 0 2" transform="translate(768.5 570.5)"/>
      </g>
     </g>
    </g>
    <g id="xtick_117">
     <g id="line2d_185">
      <g>
       <path class="c9" d="M 0 0 L 0 2" transform="translate(785.5 570.5)"/>
      </g>
     </g>
    </g>
    <g id="xtick_118">
     <g id="line2d_186">
      <g>
       <path class="c9" d="M 0 0 L 0 2" transform="translate(798.5 570.5)"/>
      </g>
     </g>
    </g>
    <g id="xtick_119">
     <g id="line2d_187">
      <g>
       <path class="c9" d="M 0 0 L 0 2" transform="translate(808.5 570.5)"/>
      </g>
     </g>
    </g>
    <g id="xtick_120">
     <g id="line2d_188">
      <g>
       <path class="c9" d="M 0 0 L 0 2" transform="translate(817.5 570.5)"/>
      </g>
     </g>
    </g>
    <g id="xtick_121">
     <g id="line2d_189">
      <g>
       <path class="c9" d="M 0 0 L 0 2" transform="translate(825.5 570.5)"/>
      </g>
     </g>
    </g>
    <g id="xtick_122">
     <g id="line2d_190">
      <g>
       <path class="c9" d="M 0 0 L 0 2" transform="translate(832.5 570.5)"/>
      </g>
     </g>
    </g>
    <g id="xtick_123">
     <g id="line2d_191">
      <g>
       <path class="c9" d="M 0 0 L 0 2" transform="translate(878.5 570.5)"/>
      </g>
     </g>
    </g>
   </g>
   <g id="matplotlib.axis_12">
    <g id="ytick_21">
     <g id="line2d_192">
      <g>
       <path class="c8" d="M 0 0 L -3.5 0" transform="translate(646.5 570.5)"/>
      </g>
     </g>
     <g id="text_79">
      <text style="font-size: 10px; font-family: 'DejaVu Sans', 'Liberation Sans', sans-serif; text-anchor: end" x="639.10" y="575.10">0.5</text>
     </g>
    </g>
    <g id="ytick_22">
     <g id="line2d_193">
      <g>
       <path class="c8" d="M 0 0 L -3.5 0" transform="translate(646.5 517.5)"/>
      </g>
     </g>
     <g id="text_80">
      <text style="font-size: 10px; font-family: 'DejaVu Sans', 'Liberation Sans', sans-serif; text-anchor: end" x="639.10" y="522.08">0.75</text>
     </g>
    </g>
    <g id="ytick_23">
     <g id="line2d_194">
      <g>
       <path class="c8" d="M 0 0 L -3.5 0" transform="translate(646.5 464.5)"/>
      </g>
     </g>
     <g id="text_81">
      <text style="font-size: 10px; font-family: 'DejaVu Sans', 'Liberation Sans', sans-serif; text-anchor: end" x="639.10" y="469.06">0.9</text>
     </g>
    </g>
    <g id="ytick_24">
     <g id="line2d_195">
      <g>
       <path class="c8" d="M 0 0 L -3.5 0" transform="translate(646.5 348.5)"/>
      </g>
     </g>
     <g id="text_82">
      <text style="font-size: 10px; font-family: 'DejaVu Sans', 'Liberation Sans', sans-serif; text-anchor: end" x="639.10" y="353.34">0.99</text>
     </g>
    </g>
   </g>
   <g id="line2d_196">
    <path d="M 652.5 453.3 L 692.5 433.7 L 732.5 420.7 L 772.5 414.2" clip-path="url(#p962322228d)" style="fill: none; stroke: #daa520; stroke-width: 2; stroke-linecap: square"/>
   </g>
   <g id="line2d_197">
    <path d="M 652.5 450 L 692.5 427.2 L 732.5 404.9 L 772.5 399.5" clip-path="url(#p962322228d)" style="fill: none; stroke: #1e90ff; stroke-width: 2; stroke-linecap: square"/>
   </g>
   <g id="line2d_198">
    <path d="M 652.5 501.9 L 692.5 480.2 L 732.5 460.9 L 772.5 437.8" clip-path="url(#p962322228d)" style="fill: none; stroke: #0000ff; stroke-width: 2; stroke-linecap: square"/>
   </g>
   <g id="line2d_199">
    <path d="M 652.5 521.8 L 692.5 506.3 L 732.5 486.2 L 772.5 473.7" clip-path="url(#p962322228d)" style="fill: none; stroke: #ff7f50; stroke-width: 2; stroke-linecap: square"/>
   </g>
   <g id="line2d_200">
    <path d="M 652.5 523.4 L 692.5 508.7 L 732.5 498.6 L 772.5 489.2" clip-path="url(#p962322228d)" style="fill: none; stroke: #008000; stroke-width: 2; stroke-linecap: square"/>
   </g>
   <g id="line2d_201">
    <path d="M 652.5 544.2 L 692.5 530.8 L 732.5 510.7 L 772.5 498.9" clip-path="url(#p962322228d)" style="fill: none; stroke: #ffc0cb; stroke-width: 2; stroke-linecap: square"/>
   </g>
   <g id="line2d_202">
    <path d="M 652.5 567 L 692.5 564.4 L 732.5 558.9 L 772.5 549.6" clip-path="url(#p962322228d)" style="fill: none; stroke: #800080; stroke-width: 2; stroke-linecap: square"/>
   </g>
   <g id="line2d_203">
    <path d="M 652.5 568.6 L 692.5 568.1 L 732.5 566.6 L 772.5 553.6" clip-path="url(#p962322228d)" style="fill: none; stroke: #8b0000; stroke-width: 2; stroke-linecap: square"/>
   </g>
   <g id="patch_29">
    <path d="M 646.5 570.5 L 646.5 323.5" style="fill: none; stroke: #000000; stroke-width: 0.8; stroke-linejoin: miter; stroke-linecap: square"/>
   </g>
   <g id="patch_30">
    <path d="M 893.5 570.5 L 893.5 323.5" style="fill: none; stroke: #000000; stroke-width: 0.8; stroke-linejoin: miter; stroke-linecap: square"/>
   </g>
   <g id="patch_31">
    <path d="M 646.5 570.5 L 893.5 570.5" style="fill: none; stroke: #000000; stroke-width: 0.8; stroke-linejoin: miter; stroke-linecap: square"/>
   </g>
   <g id="patch_32">
    <path d="M 646.5 323.5 L 893.5 323.5" style="fill: none; stroke: #000000; stroke-width: 0.8; stroke-linejoin: miter; stroke-linecap: square"/>
   </g>
   <g id="text_83">
    <text style="font-size: 18px; font-family: 'DejaVu Sans', 'Liberation Sans', sans-serif; text-anchor: middle" x="769.50" y="317.50">RFCX Bird Species</text>
   </g>
  </g>
 </g>
 <defs>
  <clipPath id="p4ffbb873c0">
   <rect x="56.5" y="26.5" width="246" height="247"/>
  </clipPath>
  <clipPath id="pa7f48813b0">
   <rect x="351.5" y="26.5" width="246" height="247"/>
  </clipPath>
  <clipPath id="p9d94ba7324">
   <rect x="646.5" y="26.5" width="247" height="247"/>
  </clipPath>
  <clipPath id="pe2648ee415">
   <rect x="56.5" y="323.5" width="246" height="247"/>
  </clipPath>
  <clipPath id="p87373a7016">
   <rect x="351.5" y="323.5" width="246" height="247"/>
  </clipPath>
  <clipPath id="p962322228d">
   <rect x="646.5" y="323.5" width="247" height="247"/>
  </clipPath>
 </defs>
</svg>

</body></html>
